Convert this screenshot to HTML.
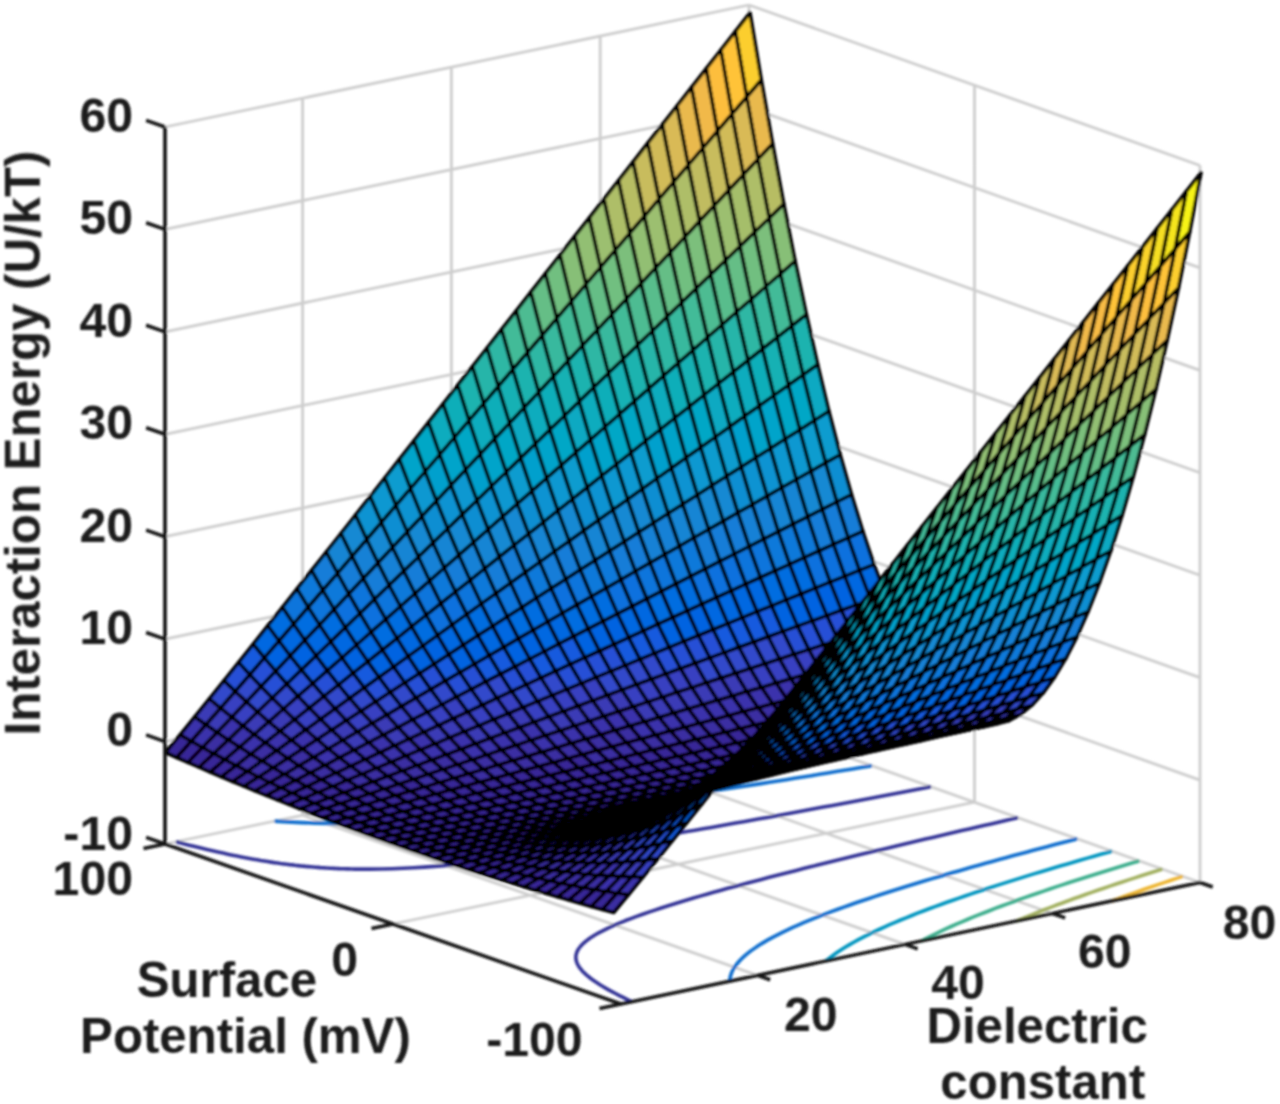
<!DOCTYPE html>
<html lang="en"><head><meta charset="utf-8"><title>Interaction energy surface</title>
<style>html,body{margin:0;padding:0;background:#fff}svg{display:block}</style></head>
<body>
<svg width="1280" height="1104" viewBox="0 0 1280 1104">
<defs><filter id="soft" x="0" y="0" width="1280" height="1104" filterUnits="userSpaceOnUse"><feGaussianBlur stdDeviation="0.9"/></filter></defs>
<rect width="1280" height="1104" fill="#fff"/>
<g filter="url(#soft)">
<path d="M165,844 L749,722 M165,741.6 L749,619.6 M165,639.1 L749,517.1 M165,536.7 L749,414.7 M165,434.3 L749,312.3 M165,331.9 L749,209.9 M165,229.4 L749,107.4 M165,127 L749,5 M302.6,815.2 L302.6,98.2 M451.4,784.2 L451.4,67.2 M600.2,753.1 L600.2,36.1 M749,722 L749,5 M749,722 L1200,882.5 M749,619.6 L1200,780.1 M749,517.1 L1200,677.6 M749,414.7 L1200,575.2 M749,312.3 L1200,472.8 M749,209.9 L1200,370.4 M749,107.4 L1200,267.9 M749,5 L1200,165.5 M974.5,802.2 L974.5,85.2 M1200,882.5 L1200,165.5 M757.5,975.4 L302.6,815.2 M905,944.4 L451.4,784.2 M1052.5,913.5 L600.2,753.1 M393,924 L974.5,802.2" fill="none" stroke="#cdcdcd" stroke-width="2.8"/>
<path d="M176,841.7 L181,843 L188.1,844.9 L194.8,846.5 L201,848.1 L206.9,849.5 L212.5,850.8 L217.9,852 L223,853.1 L227.8,854.2 L232.5,855.2 L237,856.1 L241.3,856.9 L245.4,857.7 L249.4,858.5 L253.3,859.2 L257.1,859.8 L260.7,860.5 L264.2,861 L267.7,861.6 L271,862.1 L274.2,862.6 L277.4,863 L280.5,863.5 L283.5,863.9 L286.5,864.2 L289.4,864.6 L292.2,864.9 L295,865.3 L297.8,865.6 L300.4,865.9 L303.1,866.1 L305.7,866.4 L308.2,866.6 L310.7,866.8 L313.2,867 L315.6,867.2 L318,867.4 L320.4,867.6 L322.7,867.7 L325,867.9 L327.3,868 L329.5,868.2 L331.7,868.3 L333.9,868.4 L336.1,868.5 L338.2,868.6 L340.3,868.7 L342.4,868.7 L344.5,868.8 L346.5,868.9 L348.6,868.9 L350.6,869 L352.6,869 L354.6,869.1 L356.5,869.1 L358.5,869.1 L360.4,869.1 L369.2,869.1 L380.9,869 L392.2,868.7 L403.1,868.3 L413.7,867.8 L424.1,867.1 L434.2,866.4 L444.1,865.6 L453.8,864.8 L463.3,863.9 L472.8,862.9 L482.1,861.9 L491.3,860.9 L500.4,859.8 L509.4,858.7 L518.3,857.6 L527.1,856.5 L535.9,855.3 L544.6,854.1 L553.3,852.9 L561.9,851.6 L570.5,850.4 L579,849.1 L587.5,847.8 L595.9,846.5 L604.4,845.2 L612.7,843.9 L621.1,842.6 L629.4,841.3 L637.7,839.9 L645.9,838.5 L654.2,837.2 L662.4,835.8 L670.6,834.4 L678.7,833 L686.9,831.6 L695,830.2 L703.1,828.8 L711.2,827.4 L719.3,826 L727.4,824.6 L735.5,823.1 L743.5,821.7 L751.5,820.3 L759.5,818.8 L767.6,817.4 L775.5,815.9 L783.5,814.5 L791.5,813 L799.5,811.6 L807.4,810.1 L815.4,808.6 L823.3,807.1 L831.2,805.7 L839.2,804.2 L847.1,802.7 L855,801.2 L862.9,799.7 L870.8,798.3 L878.6,796.8 L886.5,795.3 L894.4,793.8 L902.3,792.3 L910.1,790.8 L918,789.3 L925.8,787.8 L931,786.8" fill="none" stroke="#323395" stroke-width="3.6" stroke-linejoin="round"/>
<path d="M631.9,1001.7 L628.4,1000.1 L623.7,997.7 L619.4,995.6 L615.5,993.5 L611.9,991.6 L608.6,989.8 L605.6,988.1 L602.9,986.5 L600.4,985 L598.1,983.5 L595.9,982.1 L594,980.8 L592.2,979.5 L590.5,978.2 L589,977 L587.6,975.9 L586.3,974.8 L585.1,973.7 L584,972.7 L583,971.7 L582.1,970.7 L581.3,969.7 L580.5,968.8 L579.8,967.9 L579.2,967.1 L578.7,966.2 L578.2,965.4 L577.7,964.6 L577.4,963.8 L577,963 L576.7,962.2 L576.5,961.5 L576.3,960.8 L576.1,960.1 L576,959.4 L575.9,958.7 L575.9,958 L575.9,957.3 L575.9,956.7 L575.9,956.1 L576,955.4 L576.1,954.8 L576.2,954.2 L576.4,953.6 L576.6,953 L576.8,952.4 L577,951.8 L577.3,951.3 L577.5,950.7 L577.8,950.2 L578.1,949.6 L578.5,949.1 L578.8,948.5 L579.2,948 L579.6,947.5 L580,947 L580.4,946.5 L582.5,944.2 L586,941.1 L589.8,938.2 L594.1,935.5 L598.7,932.8 L603.6,930.3 L608.6,927.8 L613.9,925.4 L619.4,923.1 L625,920.8 L630.8,918.6 L636.7,916.4 L642.7,914.3 L648.8,912.1 L654.9,910.1 L661.2,908 L667.5,906 L673.9,904 L680.4,902 L686.9,900 L693.5,898.1 L700.1,896.1 L706.8,894.2 L713.5,892.3 L720.2,890.4 L727,888.6 L733.8,886.7 L740.7,884.9 L747.6,883 L754.5,881.2 L761.4,879.4 L768.3,877.6 L775.3,875.7 L782.3,873.9 L789.3,872.2 L796.4,870.4 L803.4,868.6 L810.5,866.8 L817.6,865.1 L824.7,863.3 L831.8,861.5 L838.9,859.8 L846.1,858 L853.2,856.3 L860.4,854.6 L867.6,852.8 L874.8,851.1 L882,849.4 L889.2,847.7 L896.4,845.9 L903.6,844.2 L910.9,842.5 L918.1,840.8 L925.4,839.1 L932.7,837.4 L939.9,835.7 L947.2,834 L954.5,832.3 L961.8,830.6 L969.1,828.9 L976.4,827.2 L983.7,825.6 L991.1,823.9 L998.4,822.2 L1005.7,820.5 L1013.1,818.8 L1018,817.7" fill="none" stroke="#323395" stroke-width="3.6" stroke-linejoin="round"/>
<path d="M274.6,821.1 L287.4,821.9 L301.5,822.6 L315,823.1 L328.1,823.4 L340.8,823.6 L353.1,823.6 L365.1,823.6 L376.8,823.4 L388.2,823.2 L399.4,822.8 L410.4,822.4 L421.2,822 L431.9,821.4 L442.3,820.9 L452.7,820.2 L462.9,819.5 L472.9,818.8 L482.9,818 L492.7,817.2 L502.5,816.4 L512.2,815.5 L521.7,814.6 L531.2,813.7 L540.6,812.8 L550,811.8 L559.3,810.8 L568.5,809.8 L577.7,808.7 L586.8,807.6 L595.9,806.6 L604.9,805.5 L613.8,804.4 L622.7,803.2 L631.6,802.1 L640.5,800.9 L649.3,799.8 L658,798.6 L666.8,797.4 L675.5,796.2 L684.1,795 L692.8,793.7 L701.4,792.5 L710,791.2 L718.5,790 L727.1,788.7 L735.6,787.4 L744,786.2 L752.5,784.9 L761,783.6 L769.4,782.3 L777.8,781 L786.2,779.7 L794.5,778.3 L802.9,777 L811.2,775.7 L819.5,774.3 L827.8,773 L836.1,771.6 L844.4,770.3 L852.6,768.9 L860.9,767.5 L869.1,766.2 L871.8,765.7" fill="none" stroke="#0c6dcd" stroke-width="3.6" stroke-linejoin="round"/>
<path d="M729.7,981.2 L730.1,977.7 L731.2,973.8 L732.8,970.1 L734.9,966.6 L737.5,963.2 L740.3,960 L743.5,956.9 L747,953.9 L750.8,950.9 L754.8,948.1 L758.9,945.3 L763.3,942.6 L767.9,939.9 L772.6,937.3 L777.5,934.8 L782.4,932.3 L787.6,929.8 L792.8,927.4 L798.1,925.1 L803.6,922.7 L809.1,920.4 L814.7,918.1 L820.4,915.9 L826.2,913.6 L832,911.4 L837.9,909.3 L843.9,907.1 L849.9,905 L856,902.8 L862.1,900.7 L868.3,898.7 L874.5,896.6 L880.8,894.5 L887.1,892.5 L893.4,890.5 L899.8,888.5 L906.2,886.5 L912.7,884.5 L919.2,882.5 L925.7,880.6 L932.2,878.6 L938.8,876.7 L945.4,874.7 L952,872.8 L958.7,870.9 L965.4,869 L972.1,867.1 L978.8,865.2 L985.5,863.3 L992.3,861.4 L999.1,859.6 L1005.9,857.7 L1012.7,855.8 L1019.6,854 L1026.4,852.2 L1033.3,850.3 L1040.2,848.5 L1047.1,846.7 L1054,844.8 L1060.9,843 L1067.9,841.2 L1074.8,839.4 L1077.2,838.8" fill="none" stroke="#0c6dcd" stroke-width="3.6" stroke-linejoin="round"/>
<path d="M371.6,800.8 L381.1,800.7 L392.5,800.4 L403.6,800.1 L414.7,799.7 L425.5,799.2 L436.2,798.7 L446.8,798.2 L457.2,797.6 L467.6,796.9 L477.8,796.3 L487.9,795.5 L497.9,794.8 L507.8,794 L517.7,793.2 L527.4,792.4 L537.1,791.5 L546.7,790.6 L556.3,789.7 L565.8,788.8 L575.2,787.8 L584.5,786.8 L593.8,785.8 L603.1,784.8 L612.3,783.8 L621.5,782.8 L630.6,781.7 L639.7,780.6 L648.7,779.5 L657.7,778.4 L666.6,777.3 L675.6,776.2 L684.4,775 L693.3,773.9 L702.1,772.7 L710.9,771.5 L719.7,770.4 L728.4,769.2 L737.1,768 L745.8,766.7 L754.4,765.5 L763.1,764.3 L771.7,763.1 L780.3,761.8 L788.8,760.6 L797.4,759.3 L805.9,758 L814.4,756.7 L822.9,755.5 L831.4,754.2 L837,753.3" fill="none" stroke="#0695bf" stroke-width="3.6" stroke-linejoin="round"/>
<path d="M825.8,961 L828.8,958.6 L832.6,955.7 L836.6,952.8 L840.8,950 L845.1,947.3 L849.6,944.6 L854.2,942 L858.9,939.4 L863.8,936.9 L868.8,934.4 L873.9,931.9 L879,929.5 L884.3,927.1 L889.6,924.7 L895.1,922.4 L900.6,920 L906.1,917.8 L911.8,915.5 L917.5,913.2 L923.3,911 L929.1,908.8 L935,906.6 L940.9,904.5 L946.9,902.3 L952.9,900.2 L959,898.1 L965.1,896 L971.3,893.9 L977.4,891.8 L983.7,889.7 L989.9,887.7 L996.3,885.6 L1002.6,883.6 L1009,881.6 L1015.4,879.6 L1021.8,877.6 L1028.2,875.6 L1034.7,873.6 L1041.2,871.7 L1047.8,869.7 L1054.3,867.8 L1060.9,865.8 L1067.5,863.9 L1074.1,862 L1080.8,860.1 L1087.4,858.1 L1094.1,856.2 L1100.8,854.3 L1107.5,852.4 L1112,851.2" fill="none" stroke="#0695bf" stroke-width="3.6" stroke-linejoin="round"/>
<path d="M468,780.7 L476.8,780.2 L487,779.5 L497.2,778.8 L507.2,778.1 L517.2,777.3 L527.1,776.5 L536.9,775.7 L546.7,774.9 L556.4,774 L566,773.1 L575.6,772.2 L585.1,771.3 L594.5,770.4 L603.9,769.4 L613.3,768.4 L622.6,767.4 L631.8,766.4 L641.1,765.4 L650.2,764.3 L659.4,763.3 L668.5,762.2 L677.5,761.1 L686.5,760 L695.5,758.9 L704.5,757.8 L713.4,756.7 L722.3,755.5 L731.1,754.4 L740,753.2 L748.8,752 L757.6,750.9 L766.3,749.7 L775,748.5 L783.8,747.3 L792.4,746.1 L801.1,744.8 L809.7,743.6 L809.7,743.6" fill="none" stroke="#3dae8d" stroke-width="3.6" stroke-linejoin="round"/>
<path d="M921.4,941 L925.5,938.8 L930.4,936.3 L935.5,933.8 L940.6,931.4 L945.8,928.9 L951.1,926.5 L956.4,924.2 L961.9,921.8 L967.4,919.5 L972.9,917.2 L978.6,914.9 L984.2,912.7 L990,910.5 L995.8,908.2 L1001.6,906 L1007.5,903.9 L1013.4,901.7 L1019.4,899.5 L1025.4,897.4 L1031.5,895.3 L1037.5,893.2 L1043.7,891.1 L1049.8,889 L1056,886.9 L1062.3,884.9 L1068.5,882.8 L1074.8,880.8 L1081.2,878.7 L1087.5,876.7 L1093.9,874.7 L1100.3,872.7 L1106.7,870.7 L1113.2,868.7 L1119.7,866.8 L1126.2,864.8 L1132.7,862.8 L1139.3,860.9 L1139.3,860.9" fill="none" stroke="#3dae8d" stroke-width="3.6" stroke-linejoin="round"/>
<path d="M564,760.6 L572.9,759.8 L582.6,759 L592.2,758.1 L601.7,757.1 L611.1,756.2 L620.6,755.2 L629.9,754.3 L639.3,753.3 L648.6,752.3 L657.8,751.3 L667,750.2 L676.2,749.2 L685.3,748.1 L694.4,747.1 L703.5,746 L712.5,744.9 L721.5,743.8 L730.5,742.7 L739.4,741.5 L748.3,740.4 L757.2,739.3 L766.1,738.1 L774.9,737 L783.7,735.8 L786.6,735.4" fill="none" stroke="#a2b060" stroke-width="3.6" stroke-linejoin="round"/>
<path d="M1016.6,921 L1021.7,918.9 L1027.2,916.6 L1032.8,914.3 L1038.5,912 L1044.2,909.8 L1050,907.6 L1055.8,905.3 L1061.7,903.2 L1067.6,901 L1073.5,898.8 L1079.5,896.7 L1085.5,894.5 L1091.6,892.4 L1097.6,890.3 L1103.8,888.2 L1109.9,886.1 L1116.1,884 L1122.3,882 L1128.6,879.9 L1134.9,877.9 L1141.2,875.8 L1147.5,873.8 L1153.9,871.8 L1160.2,869.8 L1162.4,869.1" fill="none" stroke="#a2b060" stroke-width="3.6" stroke-linejoin="round"/>
<path d="M659.9,740.6 L666.2,739.9 L675.5,738.9 L684.7,737.9 L693.9,736.8 L703.1,735.8 L712.2,734.7 L721.3,733.7 L730.3,732.6 L739.3,731.5 L748.3,730.4 L757.3,729.3 L766.2,728.1 L766.2,728.1" fill="none" stroke="#edb533" stroke-width="3.6" stroke-linejoin="round"/>
<path d="M1111.7,901 L1115.7,899.6 L1121.6,897.4 L1127.6,895.2 L1133.6,893.1 L1139.6,891 L1145.7,888.8 L1151.8,886.7 L1157.9,884.6 L1164.1,882.6 L1170.3,880.5 L1176.5,878.4 L1182.8,876.4 L1182.8,876.4" fill="none" stroke="#edb533" stroke-width="3.6" stroke-linejoin="round"/>
<g stroke="#000" stroke-width="3.6" stroke-linejoin="round">
<polygon points="746.7,97 761.3,80 750,12.7 735.4,31.3" fill="#fcce2e"/>
<polygon points="757.9,159.3 772.6,143.8 761.3,80 746.7,97" fill="#e9b94e"/>
<polygon points="769.2,218.2 783.8,204.1 772.6,143.8 757.9,159.3" fill="#b7bd64"/>
<polygon points="780.5,273.8 795.1,261.1 783.8,204.1 769.2,218.2" fill="#87bf77"/>
<polygon points="791.8,326 806.4,314.5 795.1,261.1 780.5,273.8" fill="#4dbc92"/>
<polygon points="803,375 817.7,364.6 806.4,314.5 791.8,326" fill="#1db3af"/>
<polygon points="814.3,420.6 828.9,411.3 817.7,364.6 803,375" fill="#07a9c2"/>
<polygon points="825.6,462.9 840.2,454.7 828.9,411.3 814.3,420.6" fill="#079ccf"/>
<polygon points="836.8,502 851.5,494.6 840.2,454.7 825.6,462.9" fill="#108ed2"/>
<polygon points="848.1,537.8 862.8,531.3 851.5,494.6 836.8,502" fill="#127dd8"/>
<polygon points="859.4,570.4 874,564.6 862.8,531.3 848.1,537.8" fill="#0871de"/>
<polygon points="870.7,599.8 885.3,594.6 874,564.6 859.4,570.4" fill="#0268e1"/>
<polygon points="881.9,626.1 896.6,621.4 885.3,594.6 870.7,599.8" fill="#135ade"/>
<polygon points="893.2,649.1 907.8,644.9 896.6,621.4 881.9,626.1" fill="#3148cb"/>
<polygon points="904.5,669.1 919.1,665.2 907.8,644.9 893.2,649.1" fill="#3a3ab6"/>
<polygon points="915.8,685.9 930.4,682.4 919.1,665.2 904.5,669.1" fill="#3a33ac"/>
<polygon points="927,699.8 941.7,696.5 930.4,682.4 915.8,685.9" fill="#3a2ea2"/>
<polygon points="938.3,710.7 953,707.5 941.7,696.5 927,699.8" fill="#392898"/>
<polygon points="949.6,718.7 964.2,715.6 953,707.5 938.3,710.7" fill="#392898"/>
<polygon points="960.9,723.9 975.5,720.9 964.2,715.6 949.6,718.7" fill="#392898"/>
<polygon points="972.1,726.7 986.8,723.6 975.5,720.9 960.9,723.9" fill="#392898"/>
<polygon points="983.4,726.7 998.1,723.5 986.8,723.6 972.1,726.7" fill="#392898"/>
<polygon points="994.7,723.8 1009.3,720.5 998.1,723.5 983.4,726.7" fill="#3a2ea2"/>
<polygon points="1005.9,717.9 1020.6,714.4 1009.3,720.5 994.7,723.8" fill="#3a33ac"/>
<polygon points="1017.2,709.1 1031.9,705.2 1020.6,714.4 1005.9,717.9" fill="#3a3ab6"/>
<polygon points="1028.5,697.1 1043.2,692.9 1031.9,705.2 1017.2,709.1" fill="#3148cb"/>
<polygon points="1039.8,682.1 1054.4,677.4 1043.2,692.9 1028.5,697.1" fill="#135ade"/>
<polygon points="1051,663.8 1065.7,658.6 1054.4,677.4 1039.8,682.1" fill="#0268e1"/>
<polygon points="1062.3,642.4 1077,636.6 1065.7,658.6 1051,663.8" fill="#0871de"/>
<polygon points="1073.6,617.8 1088.2,611.3 1077,636.6 1062.3,642.4" fill="#127dd8"/>
<polygon points="1084.9,590 1099.5,582.6 1088.2,611.3 1073.6,617.8" fill="#108ed2"/>
<polygon points="1096.1,558.9 1110.8,550.7 1099.5,582.6 1084.9,590" fill="#079ccf"/>
<polygon points="1107.4,524.6 1122.1,515.3 1110.8,550.7 1096.1,558.9" fill="#07a9c2"/>
<polygon points="1118.7,487 1133.3,476.6 1122.1,515.3 1107.4,524.6" fill="#1db3af"/>
<polygon points="1130,446 1144.6,434.5 1133.3,476.6 1118.7,487" fill="#4dbc92"/>
<polygon points="1141.2,401.8 1155.9,389.1 1144.6,434.5 1130,446" fill="#87bf77"/>
<polygon points="1152.5,354.2 1167.2,340.1 1155.9,389.1 1141.2,401.8" fill="#b7bd64"/>
<polygon points="1163.8,303.3 1178.5,287.8 1167.2,340.1 1152.5,354.2" fill="#e9b94e"/>
<polygon points="1175,249 1189.7,232 1178.5,287.8 1163.8,303.3" fill="#fcce2e"/>
<polygon points="1186.3,191.3 1201,172.7 1189.7,232 1175,249" fill="#f6f313"/>
<polygon points="732,114 746.7,97 735.4,31.3 720.8,50" fill="#ffc337"/>
<polygon points="743.3,174.8 757.9,159.3 746.7,97 732,114" fill="#d9ba56"/>
<polygon points="754.6,232.3 769.2,218.2 757.9,159.3 743.3,174.8" fill="#aebe67"/>
<polygon points="765.9,286.5 780.5,273.8 769.2,218.2 754.6,232.3" fill="#7cbf7b"/>
<polygon points="777.1,337.5 791.8,326 780.5,273.8 765.9,286.5" fill="#42bb98"/>
<polygon points="788.4,385.3 803,375 791.8,326 777.1,337.5" fill="#1db3af"/>
<polygon points="799.7,429.9 814.3,420.6 803,375 788.4,385.3" fill="#06a7c6"/>
<polygon points="810.9,471.2 825.6,462.9 814.3,420.6 799.7,429.9" fill="#079ccf"/>
<polygon points="822.2,509.4 836.8,502 825.6,462.9 810.9,471.2" fill="#1389d3"/>
<polygon points="833.5,544.4 848.1,537.8 836.8,502 822.2,509.4" fill="#127dd8"/>
<polygon points="844.8,576.3 859.4,570.4 848.1,537.8 833.5,544.4" fill="#0871de"/>
<polygon points="856,605.1 870.7,599.8 859.4,570.4 844.8,576.3" fill="#0268e1"/>
<polygon points="867.3,630.7 881.9,626.1 870.7,599.8 856,605.1" fill="#2550d6"/>
<polygon points="878.6,653.4 893.2,649.1 881.9,626.1 867.3,630.7" fill="#3148cb"/>
<polygon points="889.8,672.9 904.5,669.1 893.2,649.1 878.6,653.4" fill="#3a3ab6"/>
<polygon points="901.1,689.5 915.8,685.9 904.5,669.1 889.8,672.9" fill="#3a33ac"/>
<polygon points="912.4,703.1 927,699.8 915.8,685.9 901.1,689.5" fill="#3a2ea2"/>
<polygon points="923.7,713.8 938.3,710.7 927,699.8 912.4,703.1" fill="#392898"/>
<polygon points="934.9,721.7 949.6,718.7 938.3,710.7 923.7,713.8" fill="#392898"/>
<polygon points="946.2,726.9 960.9,723.9 949.6,718.7 934.9,721.7" fill="#392898"/>
<polygon points="957.5,729.7 972.1,726.7 960.9,723.9 946.2,726.9" fill="#392898"/>
<polygon points="968.7,729.8 983.4,726.7 972.1,726.7 957.5,729.7" fill="#392898"/>
<polygon points="980,727.1 994.7,723.8 983.4,726.7 968.7,729.8" fill="#3a2ea2"/>
<polygon points="991.3,721.5 1005.9,717.9 994.7,723.8 980,727.1" fill="#3a33ac"/>
<polygon points="1002.6,712.9 1017.2,709.1 1005.9,717.9 991.3,721.5" fill="#3a3ab6"/>
<polygon points="1013.8,701.4 1028.5,697.1 1017.2,709.1 1002.6,712.9" fill="#3148cb"/>
<polygon points="1025.1,686.7 1039.8,682.1 1028.5,697.1 1013.8,701.4" fill="#2550d6"/>
<polygon points="1036.4,669.1 1051,663.8 1039.8,682.1 1025.1,686.7" fill="#0268e1"/>
<polygon points="1047.6,648.3 1062.3,642.4 1051,663.8 1036.4,669.1" fill="#0871de"/>
<polygon points="1058.9,624.4 1073.6,617.8 1062.3,642.4 1047.6,648.3" fill="#127dd8"/>
<polygon points="1070.2,597.4 1084.9,590 1073.6,617.8 1058.9,624.4" fill="#1389d3"/>
<polygon points="1081.5,567.2 1096.1,558.9 1084.9,590 1070.2,597.4" fill="#079ccf"/>
<polygon points="1092.7,533.9 1107.4,524.6 1096.1,558.9 1081.5,567.2" fill="#06a7c6"/>
<polygon points="1104,497.3 1118.7,487 1107.4,524.6 1092.7,533.9" fill="#1db3af"/>
<polygon points="1115.3,457.5 1130,446 1118.7,487 1104,497.3" fill="#42bb98"/>
<polygon points="1126.5,414.5 1141.2,401.8 1130,446 1115.3,457.5" fill="#7cbf7b"/>
<polygon points="1137.8,368.3 1152.5,354.2 1141.2,401.8 1126.5,414.5" fill="#aebe67"/>
<polygon points="1149.1,318.8 1163.8,303.3 1152.5,354.2 1137.8,368.3" fill="#d9ba56"/>
<polygon points="1160.4,266 1175,249 1163.8,303.3 1149.1,318.8" fill="#ffc337"/>
<polygon points="1171.6,210 1186.3,191.3 1175,249 1160.4,266" fill="#f5e41d"/>
<polygon points="717.4,131.1 732,114 720.8,50 706.2,68.6" fill="#fdbe3d"/>
<polygon points="728.7,190.3 743.3,174.8 732,114 717.4,131.1" fill="#d1bb59"/>
<polygon points="740,246.4 754.6,232.3 743.3,174.8 728.7,190.3" fill="#a5be6b"/>
<polygon points="751.2,299.3 765.9,286.5 754.6,232.3 740,246.4" fill="#71bf80"/>
<polygon points="762.5,349 777.1,337.5 765.9,286.5 751.2,299.3" fill="#38b99e"/>
<polygon points="773.8,395.6 788.4,385.3 777.1,337.5 762.5,349" fill="#15b1b4"/>
<polygon points="785.1,439.1 799.7,429.9 788.4,385.3 773.8,395.6" fill="#06a7c6"/>
<polygon points="796.3,479.5 810.9,471.2 799.7,429.9 785.1,439.1" fill="#0998d1"/>
<polygon points="807.6,516.8 822.2,509.4 810.9,471.2 796.3,479.5" fill="#1389d3"/>
<polygon points="818.9,551 833.5,544.4 822.2,509.4 807.6,516.8" fill="#127dd8"/>
<polygon points="830.1,582.2 844.8,576.3 833.5,544.4 818.9,551" fill="#0871de"/>
<polygon points="841.4,610.3 856,605.1 844.8,576.3 830.1,582.2" fill="#0363e1"/>
<polygon points="852.7,635.5 867.3,630.7 856,605.1 841.4,610.3" fill="#2550d6"/>
<polygon points="863.9,657.6 878.6,653.4 867.3,630.7 852.7,635.5" fill="#3740c1"/>
<polygon points="875.2,676.8 889.8,672.9 878.6,653.4 863.9,657.6" fill="#3a3ab6"/>
<polygon points="886.5,693 901.1,689.5 889.8,672.9 875.2,676.8" fill="#3a33ac"/>
<polygon points="897.7,706.4 912.4,703.1 901.1,689.5 886.5,693" fill="#3a2ea2"/>
<polygon points="909,717 923.7,713.8 912.4,703.1 897.7,706.4" fill="#392898"/>
<polygon points="920.3,724.8 934.9,721.7 923.7,713.8 909,717" fill="#392898"/>
<polygon points="931.6,730 946.2,726.9 934.9,721.7 920.3,724.8" fill="#392898"/>
<polygon points="942.8,732.8 957.5,729.7 946.2,726.9 931.6,730" fill="#392898"/>
<polygon points="954.1,733 968.7,729.8 957.5,729.7 942.8,732.8" fill="#392898"/>
<polygon points="965.4,730.4 980,727.1 968.7,729.8 954.1,733" fill="#3a2ea2"/>
<polygon points="976.6,725 991.3,721.5 980,727.1 965.4,730.4" fill="#3a33ac"/>
<polygon points="987.9,716.8 1002.6,712.9 991.3,721.5 976.6,725" fill="#3a3ab6"/>
<polygon points="999.2,705.6 1013.8,701.4 1002.6,712.9 987.9,716.8" fill="#3740c1"/>
<polygon points="1010.4,691.5 1025.1,686.7 1013.8,701.4 999.2,705.6" fill="#2550d6"/>
<polygon points="1021.7,674.3 1036.4,669.1 1025.1,686.7 1010.4,691.5" fill="#0363e1"/>
<polygon points="1033,654.2 1047.6,648.3 1036.4,669.1 1021.7,674.3" fill="#0871de"/>
<polygon points="1044.3,631 1058.9,624.4 1047.6,648.3 1033,654.2" fill="#127dd8"/>
<polygon points="1055.5,604.8 1070.2,597.4 1058.9,624.4 1044.3,631" fill="#1389d3"/>
<polygon points="1066.8,575.5 1081.5,567.2 1070.2,597.4 1055.5,604.8" fill="#0998d1"/>
<polygon points="1078.1,543.1 1092.7,533.9 1081.5,567.2 1066.8,575.5" fill="#06a7c6"/>
<polygon points="1089.3,507.6 1104,497.3 1092.7,533.9 1078.1,543.1" fill="#15b1b4"/>
<polygon points="1100.6,469 1115.3,457.5 1104,497.3 1089.3,507.6" fill="#38b99e"/>
<polygon points="1111.9,427.3 1126.5,414.5 1115.3,457.5 1100.6,469" fill="#71bf80"/>
<polygon points="1123.1,382.4 1137.8,368.3 1126.5,414.5 1111.9,427.3" fill="#a5be6b"/>
<polygon points="1134.4,334.3 1149.1,318.8 1137.8,368.3 1123.1,382.4" fill="#d1bb59"/>
<polygon points="1145.7,283.1 1160.4,266 1149.1,318.8 1134.4,334.3" fill="#fdbe3d"/>
<polygon points="1157,228.6 1171.6,210 1160.4,266 1145.7,283.1" fill="#f5de21"/>
<polygon points="702.8,148.1 717.4,131.1 706.2,68.6 691.5,87.3" fill="#f1b94a"/>
<polygon points="714.1,205.8 728.7,190.3 717.4,131.1 702.8,148.1" fill="#c8bc5d"/>
<polygon points="725.4,260.5 740,246.4 728.7,190.3 714.1,205.8" fill="#9cbf6f"/>
<polygon points="736.6,312 751.2,299.3 740,246.4 725.4,260.5" fill="#65be86"/>
<polygon points="747.9,360.5 762.5,349 751.2,299.3 736.6,312" fill="#2eb7a4"/>
<polygon points="759.2,406 773.8,395.6 762.5,349 747.9,360.5" fill="#0faeb9"/>
<polygon points="770.4,448.4 785.1,439.1 773.8,395.6 759.2,406" fill="#06a4ca"/>
<polygon points="781.7,487.8 796.3,479.5 785.1,439.1 770.4,448.4" fill="#0998d1"/>
<polygon points="793,524.2 807.6,516.8 796.3,479.5 781.7,487.8" fill="#1485d4"/>
<polygon points="804.2,557.6 818.9,551 807.6,516.8 793,524.2" fill="#1079da"/>
<polygon points="815.5,588.1 830.1,582.2 818.9,551 804.2,557.6" fill="#0871de"/>
<polygon points="826.8,615.6 841.4,610.3 830.1,582.2 815.5,588.1" fill="#0363e1"/>
<polygon points="838,640.2 852.7,635.5 841.4,610.3 826.8,615.6" fill="#2550d6"/>
<polygon points="849.3,661.8 863.9,657.6 852.7,635.5 838,640.2" fill="#3740c1"/>
<polygon points="860.6,680.6 875.2,676.8 863.9,657.6 849.3,661.8" fill="#3a3ab6"/>
<polygon points="871.8,696.6 886.5,693 875.2,676.8 860.6,680.6" fill="#3a33ac"/>
<polygon points="883.1,709.7 897.7,706.4 886.5,693 871.8,696.6" fill="#3a2ea2"/>
<polygon points="894.4,720.1 909,717 897.7,706.4 883.1,709.7" fill="#392898"/>
<polygon points="905.6,727.8 920.3,724.8 909,717 894.4,720.1" fill="#392898"/>
<polygon points="916.9,733 931.6,730 920.3,724.8 905.6,727.8" fill="#392898"/>
<polygon points="928.2,735.8 942.8,732.8 931.6,730 916.9,733" fill="#392898"/>
<polygon points="939.4,736.1 954.1,733 942.8,732.8 928.2,735.8" fill="#392898"/>
<polygon points="950.7,733.7 965.4,730.4 954.1,733 939.4,736.1" fill="#3a2ea2"/>
<polygon points="962,728.6 976.6,725 965.4,730.4 950.7,733.7" fill="#3a33ac"/>
<polygon points="973.2,720.6 987.9,716.8 976.6,725 962,728.6" fill="#3a3ab6"/>
<polygon points="984.5,709.8 999.2,705.6 987.9,716.8 973.2,720.6" fill="#3740c1"/>
<polygon points="995.8,696.2 1010.4,691.5 999.2,705.6 984.5,709.8" fill="#2550d6"/>
<polygon points="1007.1,679.6 1021.7,674.3 1010.4,691.5 995.8,696.2" fill="#0363e1"/>
<polygon points="1018.3,660.1 1033,654.2 1021.7,674.3 1007.1,679.6" fill="#0871de"/>
<polygon points="1029.6,637.6 1044.3,631 1033,654.2 1018.3,660.1" fill="#1079da"/>
<polygon points="1040.9,612.2 1055.5,604.8 1044.3,631 1029.6,637.6" fill="#1485d4"/>
<polygon points="1052.1,583.8 1066.8,575.5 1055.5,604.8 1040.9,612.2" fill="#0998d1"/>
<polygon points="1063.4,552.4 1078.1,543.1 1066.8,575.5 1052.1,583.8" fill="#06a4ca"/>
<polygon points="1074.7,518 1089.3,507.6 1078.1,543.1 1063.4,552.4" fill="#0faeb9"/>
<polygon points="1085.9,480.5 1100.6,469 1089.3,507.6 1074.7,518" fill="#2eb7a4"/>
<polygon points="1097.2,440 1111.9,427.3 1100.6,469 1085.9,480.5" fill="#65be86"/>
<polygon points="1108.5,396.5 1123.1,382.4 1111.9,427.3 1097.2,440" fill="#9cbf6f"/>
<polygon points="1119.7,349.8 1134.4,334.3 1123.1,382.4 1108.5,396.5" fill="#c8bc5d"/>
<polygon points="1131,300.1 1145.7,283.1 1134.4,334.3 1119.7,349.8" fill="#f1b94a"/>
<polygon points="1142.3,247.3 1157,228.6 1145.7,283.1 1131,300.1" fill="#fad32a"/>
<polygon points="688.2,165.1 702.8,148.1 691.5,87.3 676.9,106" fill="#e9b94e"/>
<polygon points="699.5,221.3 714.1,205.8 702.8,148.1 688.2,165.1" fill="#c0bc60"/>
<polygon points="710.7,274.6 725.4,260.5 714.1,205.8 699.5,221.3" fill="#92bf73"/>
<polygon points="722,324.8 736.6,312 725.4,260.5 710.7,274.6" fill="#59bd8c"/>
<polygon points="733.3,372 747.9,360.5 736.6,312 722,324.8" fill="#25b5a9"/>
<polygon points="744.5,416.3 759.2,406 747.9,360.5 733.3,372" fill="#0aacbe"/>
<polygon points="755.8,457.7 770.4,448.4 759.2,406 744.5,416.3" fill="#06a4ca"/>
<polygon points="767.1,496.1 781.7,487.8 770.4,448.4 755.8,457.7" fill="#0c93d2"/>
<polygon points="778.3,531.6 793,524.2 781.7,487.8 767.1,496.1" fill="#1485d4"/>
<polygon points="789.6,564.3 804.2,557.6 793,524.2 778.3,531.6" fill="#1079da"/>
<polygon points="800.9,594 815.5,588.1 804.2,557.6 789.6,564.3" fill="#046de0"/>
<polygon points="812.1,620.9 826.8,615.6 815.5,588.1 800.9,594" fill="#0363e1"/>
<polygon points="823.4,644.9 838,640.2 826.8,615.6 812.1,620.9" fill="#2550d6"/>
<polygon points="834.7,666.1 849.3,661.8 838,640.2 823.4,644.9" fill="#3740c1"/>
<polygon points="845.9,684.5 860.6,680.6 849.3,661.8 834.7,666.1" fill="#3a3ab6"/>
<polygon points="857.2,700.1 871.8,696.6 860.6,680.6 845.9,684.5" fill="#3a33ac"/>
<polygon points="868.5,713 883.1,709.7 871.8,696.6 857.2,700.1" fill="#3a2ea2"/>
<polygon points="879.7,723.3 894.4,720.1 883.1,709.7 868.5,713" fill="#392898"/>
<polygon points="891,730.9 905.6,727.8 894.4,720.1 879.7,723.3" fill="#392898"/>
<polygon points="902.3,736.1 916.9,733 905.6,727.8 891,730.9" fill="#392898"/>
<polygon points="913.5,738.9 928.2,735.8 916.9,733 902.3,736.1" fill="#392898"/>
<polygon points="924.8,739.3 939.4,736.1 928.2,735.8 913.5,738.9" fill="#392898"/>
<polygon points="936.1,737 950.7,733.7 939.4,736.1 924.8,739.3" fill="#3a2ea2"/>
<polygon points="947.3,732.1 962,728.6 950.7,733.7 936.1,737" fill="#3a33ac"/>
<polygon points="958.6,724.5 973.2,720.6 962,728.6 947.3,732.1" fill="#3a3ab6"/>
<polygon points="969.9,714.1 984.5,709.8 973.2,720.6 958.6,724.5" fill="#3740c1"/>
<polygon points="981.1,700.9 995.8,696.2 984.5,709.8 969.9,714.1" fill="#2550d6"/>
<polygon points="992.4,684.9 1007.1,679.6 995.8,696.2 981.1,700.9" fill="#0363e1"/>
<polygon points="1003.7,666 1018.3,660.1 1007.1,679.6 992.4,684.9" fill="#046de0"/>
<polygon points="1014.9,644.3 1029.6,637.6 1018.3,660.1 1003.7,666" fill="#1079da"/>
<polygon points="1026.2,619.6 1040.9,612.2 1029.6,637.6 1014.9,644.3" fill="#1485d4"/>
<polygon points="1037.5,592.1 1052.1,583.8 1040.9,612.2 1026.2,619.6" fill="#0c93d2"/>
<polygon points="1048.7,561.7 1063.4,552.4 1052.1,583.8 1037.5,592.1" fill="#06a4ca"/>
<polygon points="1060,528.3 1074.7,518 1063.4,552.4 1048.7,561.7" fill="#0aacbe"/>
<polygon points="1071.3,492 1085.9,480.5 1074.7,518 1060,528.3" fill="#25b5a9"/>
<polygon points="1082.5,452.8 1097.2,440 1085.9,480.5 1071.3,492" fill="#59bd8c"/>
<polygon points="1093.8,410.6 1108.5,396.5 1097.2,440 1082.5,452.8" fill="#92bf73"/>
<polygon points="1105.1,365.3 1119.7,349.8 1108.5,396.5 1093.8,410.6" fill="#c0bc60"/>
<polygon points="1116.3,317.1 1131,300.1 1119.7,349.8 1105.1,365.3" fill="#e9b94e"/>
<polygon points="1127.6,266 1142.3,247.3 1131,300.1 1116.3,317.1" fill="#fcce2e"/>
<polygon points="673.6,182.2 688.2,165.1 676.9,106 662.3,124.6" fill="#d9ba56"/>
<polygon points="684.9,236.9 699.5,221.3 688.2,165.1 673.6,182.2" fill="#aebe67"/>
<polygon points="696.1,288.6 710.7,274.6 699.5,221.3 684.9,236.9" fill="#7cbf7b"/>
<polygon points="707.4,337.5 722,324.8 710.7,274.6 696.1,288.6" fill="#4dbc92"/>
<polygon points="718.6,383.6 733.3,372 722,324.8 707.4,337.5" fill="#25b5a9"/>
<polygon points="729.9,426.7 744.5,416.3 733.3,372 718.6,383.6" fill="#0aacbe"/>
<polygon points="741.2,467 755.8,457.7 744.5,416.3 729.9,426.7" fill="#06a0cd"/>
<polygon points="752.4,504.5 767.1,496.1 755.8,457.7 741.2,467" fill="#0c93d2"/>
<polygon points="763.7,539.1 778.3,531.6 767.1,496.1 752.4,504.5" fill="#1481d6"/>
<polygon points="775,570.9 789.6,564.3 778.3,531.6 763.7,539.1" fill="#1079da"/>
<polygon points="786.2,599.9 800.9,594 789.6,564.3 775,570.9" fill="#046de0"/>
<polygon points="797.5,626.1 812.1,620.9 800.9,594 786.2,599.9" fill="#0363e1"/>
<polygon points="808.8,649.6 823.4,644.9 812.1,620.9 797.5,626.1" fill="#2550d6"/>
<polygon points="820,670.3 834.7,666.1 823.4,644.9 808.8,649.6" fill="#3740c1"/>
<polygon points="831.3,688.3 845.9,684.5 834.7,666.1 820,670.3" fill="#3a3ab6"/>
<polygon points="842.6,703.7 857.2,700.1 845.9,684.5 831.3,688.3" fill="#3a2ea2"/>
<polygon points="853.8,716.4 868.5,713 857.2,700.1 842.6,703.7" fill="#3a2ea2"/>
<polygon points="865.1,726.4 879.7,723.3 868.5,713 853.8,716.4" fill="#392898"/>
<polygon points="876.4,734 891,730.9 879.7,723.3 865.1,726.4" fill="#392898"/>
<polygon points="887.6,739.1 902.3,736.1 891,730.9 876.4,734" fill="#392898"/>
<polygon points="898.9,742 913.5,738.9 902.3,736.1 887.6,739.1" fill="#392898"/>
<polygon points="910.1,742.4 924.8,739.3 913.5,738.9 898.9,742" fill="#392898"/>
<polygon points="921.4,740.4 936.1,737 924.8,739.3 910.1,742.4" fill="#3a2ea2"/>
<polygon points="932.7,735.7 947.3,732.1 936.1,737 921.4,740.4" fill="#3a2ea2"/>
<polygon points="943.9,728.3 958.6,724.5 947.3,732.1 932.7,735.7" fill="#3a3ab6"/>
<polygon points="955.2,718.3 969.9,714.1 958.6,724.5 943.9,728.3" fill="#3740c1"/>
<polygon points="966.5,705.6 981.1,700.9 969.9,714.1 955.2,718.3" fill="#2550d6"/>
<polygon points="977.7,690.1 992.4,684.9 981.1,700.9 966.5,705.6" fill="#0363e1"/>
<polygon points="989,671.9 1003.7,666 992.4,684.9 977.7,690.1" fill="#046de0"/>
<polygon points="1000.3,650.9 1014.9,644.3 1003.7,666 989,671.9" fill="#1079da"/>
<polygon points="1011.5,627.1 1026.2,619.6 1014.9,644.3 1000.3,650.9" fill="#1481d6"/>
<polygon points="1022.8,600.5 1037.5,592.1 1026.2,619.6 1011.5,627.1" fill="#0c93d2"/>
<polygon points="1034.1,571 1048.7,561.7 1037.5,592.1 1022.8,600.5" fill="#06a0cd"/>
<polygon points="1045.3,538.7 1060,528.3 1048.7,561.7 1034.1,571" fill="#0aacbe"/>
<polygon points="1056.6,503.6 1071.3,492 1060,528.3 1045.3,538.7" fill="#25b5a9"/>
<polygon points="1067.8,465.5 1082.5,452.8 1071.3,492 1056.6,503.6" fill="#4dbc92"/>
<polygon points="1079.1,424.6 1093.8,410.6 1082.5,452.8 1067.8,465.5" fill="#7cbf7b"/>
<polygon points="1090.4,380.9 1105.1,365.3 1093.8,410.6 1079.1,424.6" fill="#aebe67"/>
<polygon points="1101.6,334.2 1116.3,317.1 1105.1,365.3 1090.4,380.9" fill="#d9ba56"/>
<polygon points="1112.9,284.6 1127.6,266 1116.3,317.1 1101.6,334.2" fill="#ffc337"/>
<polygon points="659,199.2 673.6,182.2 662.3,124.6 647.7,143.2" fill="#d1bb59"/>
<polygon points="670.2,252.4 684.9,236.9 673.6,182.2 659,199.2" fill="#a5be6b"/>
<polygon points="681.5,302.7 696.1,288.6 684.9,236.9 670.2,252.4" fill="#71bf80"/>
<polygon points="692.8,350.3 707.4,337.5 696.1,288.6 681.5,302.7" fill="#42bb98"/>
<polygon points="704,395.1 718.6,383.6 707.4,337.5 692.8,350.3" fill="#1db3af"/>
<polygon points="715.3,437.1 729.9,426.7 718.6,383.6 704,395.1" fill="#07a9c2"/>
<polygon points="726.6,476.3 741.2,467 729.9,426.7 715.3,437.1" fill="#079ccf"/>
<polygon points="737.8,512.8 752.4,504.5 741.2,467 726.6,476.3" fill="#108ed2"/>
<polygon points="749.1,546.5 763.7,539.1 752.4,504.5 737.8,512.8" fill="#1481d6"/>
<polygon points="760.3,577.5 775,570.9 763.7,539.1 749.1,546.5" fill="#0d75dc"/>
<polygon points="771.6,605.8 786.2,599.9 775,570.9 760.3,577.5" fill="#046de0"/>
<polygon points="782.9,631.4 797.5,626.1 786.2,599.9 771.6,605.8" fill="#0363e1"/>
<polygon points="794.1,654.3 808.8,649.6 797.5,626.1 782.9,631.4" fill="#2550d6"/>
<polygon points="805.4,674.6 820,670.3 808.8,649.6 794.1,654.3" fill="#3740c1"/>
<polygon points="816.7,692.2 831.3,688.3 820,670.3 805.4,674.6" fill="#3a3ab6"/>
<polygon points="827.9,707.2 842.6,703.7 831.3,688.3 816.7,692.2" fill="#3a2ea2"/>
<polygon points="839.2,719.7 853.8,716.4 842.6,703.7 827.9,707.2" fill="#3a2ea2"/>
<polygon points="850.4,729.6 865.1,726.4 853.8,716.4 839.2,719.7" fill="#392898"/>
<polygon points="861.7,737 876.4,734 865.1,726.4 850.4,729.6" fill="#392898"/>
<polygon points="873,742.1 887.6,739.1 876.4,734 861.7,737" fill="#392898"/>
<polygon points="884.2,745 898.9,742 887.6,739.1 873,742.1" fill="#392898"/>
<polygon points="895.5,745.6 910.1,742.4 898.9,742 884.2,745" fill="#392898"/>
<polygon points="906.8,743.7 921.4,740.4 910.1,742.4 895.5,745.6" fill="#3a2ea2"/>
<polygon points="918,739.2 932.7,735.7 921.4,740.4 906.8,743.7" fill="#3a2ea2"/>
<polygon points="929.3,732.2 943.9,728.3 932.7,735.7 918,739.2" fill="#3a3ab6"/>
<polygon points="940.5,722.6 955.2,718.3 943.9,728.3 929.3,732.2" fill="#3740c1"/>
<polygon points="951.8,710.3 966.5,705.6 955.2,718.3 940.5,722.6" fill="#2550d6"/>
<polygon points="963.1,695.4 977.7,690.1 966.5,705.6 951.8,710.3" fill="#0363e1"/>
<polygon points="974.3,677.8 989,671.9 977.7,690.1 963.1,695.4" fill="#046de0"/>
<polygon points="985.6,657.5 1000.3,650.9 989,671.9 974.3,677.8" fill="#0d75dc"/>
<polygon points="996.9,634.5 1011.5,627.1 1000.3,650.9 985.6,657.5" fill="#1481d6"/>
<polygon points="1008.1,608.8 1022.8,600.5 1011.5,627.1 996.9,634.5" fill="#108ed2"/>
<polygon points="1019.4,580.3 1034.1,571 1022.8,600.5 1008.1,608.8" fill="#079ccf"/>
<polygon points="1030.6,549.1 1045.3,538.7 1034.1,571 1019.4,580.3" fill="#07a9c2"/>
<polygon points="1041.9,515.1 1056.6,503.6 1045.3,538.7 1030.6,549.1" fill="#1db3af"/>
<polygon points="1053.2,478.3 1067.8,465.5 1056.6,503.6 1041.9,515.1" fill="#42bb98"/>
<polygon points="1064.4,438.7 1079.1,424.6 1067.8,465.5 1053.2,478.3" fill="#71bf80"/>
<polygon points="1075.7,396.4 1090.4,380.9 1079.1,424.6 1064.4,438.7" fill="#a5be6b"/>
<polygon points="1087,351.2 1101.6,334.2 1090.4,380.9 1075.7,396.4" fill="#d1bb59"/>
<polygon points="1098.2,303.2 1112.9,284.6 1101.6,334.2 1087,351.2" fill="#f8bb44"/>
<polygon points="644.4,216.3 659,199.2 647.7,143.2 633.1,161.9" fill="#c8bc5d"/>
<polygon points="655.6,267.9 670.2,252.4 659,199.2 644.4,216.3" fill="#9cbf6f"/>
<polygon points="666.9,316.9 681.5,302.7 670.2,252.4 655.6,267.9" fill="#65be86"/>
<polygon points="678.1,363.1 692.8,350.3 681.5,302.7 666.9,316.9" fill="#38b99e"/>
<polygon points="689.4,406.6 704,395.1 692.8,350.3 678.1,363.1" fill="#15b1b4"/>
<polygon points="700.7,447.5 715.3,437.1 704,395.1 689.4,406.6" fill="#06a7c6"/>
<polygon points="711.9,485.6 726.6,476.3 715.3,437.1 700.7,447.5" fill="#079ccf"/>
<polygon points="723.2,521.1 737.8,512.8 726.6,476.3 711.9,485.6" fill="#1389d3"/>
<polygon points="734.4,554 749.1,546.5 737.8,512.8 723.2,521.1" fill="#127dd8"/>
<polygon points="745.7,584.2 760.3,577.5 749.1,546.5 734.4,554" fill="#0d75dc"/>
<polygon points="757,611.7 771.6,605.8 760.3,577.5 745.7,584.2" fill="#0268e1"/>
<polygon points="768.2,636.7 782.9,631.4 771.6,605.8 757,611.7" fill="#135ade"/>
<polygon points="779.5,659 794.1,654.3 782.9,631.4 768.2,636.7" fill="#3148cb"/>
<polygon points="790.8,678.8 805.4,674.6 794.1,654.3 779.5,659" fill="#3740c1"/>
<polygon points="802,696.1 816.7,692.2 805.4,674.6 790.8,678.8" fill="#3a33ac"/>
<polygon points="813.3,710.8 827.9,707.2 816.7,692.2 802,696.1" fill="#3a2ea2"/>
<polygon points="824.5,723 839.2,719.7 827.9,707.2 813.3,710.8" fill="#3a2ea2"/>
<polygon points="835.8,732.7 850.4,729.6 839.2,719.7 824.5,723" fill="#392898"/>
<polygon points="847.1,740.1 861.7,737 850.4,729.6 835.8,732.7" fill="#392898"/>
<polygon points="858.3,745.2 873,742.1 861.7,737 847.1,740.1" fill="#392898"/>
<polygon points="869.6,748.1 884.2,745 873,742.1 858.3,745.2" fill="#392898"/>
<polygon points="880.8,748.7 895.5,745.6 884.2,745 869.6,748.1" fill="#392898"/>
<polygon points="892.1,747 906.8,743.7 895.5,745.6 880.8,748.7" fill="#3a2ea2"/>
<polygon points="903.4,742.8 918,739.2 906.8,743.7 892.1,747" fill="#3a2ea2"/>
<polygon points="914.6,736.1 929.3,732.2 918,739.2 903.4,742.8" fill="#3a33ac"/>
<polygon points="925.9,726.8 940.5,722.6 929.3,732.2 914.6,736.1" fill="#3740c1"/>
<polygon points="937.1,715 951.8,710.3 940.5,722.6 925.9,726.8" fill="#3148cb"/>
<polygon points="948.4,700.7 963.1,695.4 951.8,710.3 937.1,715" fill="#135ade"/>
<polygon points="959.7,683.7 974.3,677.8 963.1,695.4 948.4,700.7" fill="#0268e1"/>
<polygon points="970.9,664.2 985.6,657.5 974.3,677.8 959.7,683.7" fill="#0d75dc"/>
<polygon points="982.2,642 996.9,634.5 985.6,657.5 970.9,664.2" fill="#127dd8"/>
<polygon points="993.5,617.1 1008.1,608.8 996.9,634.5 982.2,642" fill="#1389d3"/>
<polygon points="1004.7,589.6 1019.4,580.3 1008.1,608.8 993.5,617.1" fill="#079ccf"/>
<polygon points="1016,559.5 1030.6,549.1 1019.4,580.3 1004.7,589.6" fill="#06a7c6"/>
<polygon points="1027.2,526.6 1041.9,515.1 1030.6,549.1 1016,559.5" fill="#15b1b4"/>
<polygon points="1038.5,491.1 1053.2,478.3 1041.9,515.1 1027.2,526.6" fill="#38b99e"/>
<polygon points="1049.8,452.9 1064.4,438.7 1053.2,478.3 1038.5,491.1" fill="#65be86"/>
<polygon points="1061,411.9 1075.7,396.4 1064.4,438.7 1049.8,452.9" fill="#9cbf6f"/>
<polygon points="1072.3,368.3 1087,351.2 1075.7,396.4 1061,411.9" fill="#c8bc5d"/>
<polygon points="1083.5,321.9 1098.2,303.2 1087,351.2 1072.3,368.3" fill="#f1b94a"/>
<polygon points="629.7,233.3 644.4,216.3 633.1,161.9 618.5,180.5" fill="#b7bd64"/>
<polygon points="641,283.4 655.6,267.9 644.4,216.3 629.7,233.3" fill="#92bf73"/>
<polygon points="652.3,331 666.9,316.9 655.6,267.9 641,283.4" fill="#59bd8c"/>
<polygon points="663.5,375.9 678.1,363.1 666.9,316.9 652.3,331" fill="#2eb7a4"/>
<polygon points="674.8,418.1 689.4,406.6 678.1,363.1 663.5,375.9" fill="#0faeb9"/>
<polygon points="686,457.8 700.7,447.5 689.4,406.6 674.8,418.1" fill="#06a4ca"/>
<polygon points="697.3,494.9 711.9,485.6 700.7,447.5 686,457.8" fill="#0998d1"/>
<polygon points="708.6,529.5 723.2,521.1 711.9,485.6 697.3,494.9" fill="#1389d3"/>
<polygon points="719.8,561.4 734.4,554 723.2,521.1 708.6,529.5" fill="#127dd8"/>
<polygon points="731.1,590.8 745.7,584.2 734.4,554 719.8,561.4" fill="#0871de"/>
<polygon points="742.3,617.7 757,611.7 745.7,584.2 731.1,590.8" fill="#0268e1"/>
<polygon points="753.6,642 768.2,636.7 757,611.7 742.3,617.7" fill="#135ade"/>
<polygon points="764.9,663.8 779.5,659 768.2,636.7 753.6,642" fill="#3148cb"/>
<polygon points="776.1,683.1 790.8,678.8 779.5,659 764.9,663.8" fill="#3740c1"/>
<polygon points="787.4,699.9 802,696.1 790.8,678.8 776.1,683.1" fill="#3a33ac"/>
<polygon points="798.6,714.3 813.3,710.8 802,696.1 787.4,699.9" fill="#3a2ea2"/>
<polygon points="809.9,726.3 824.5,723 813.3,710.8 798.6,714.3" fill="#3a2ea2"/>
<polygon points="821.2,735.9 835.8,732.7 824.5,723 809.9,726.3" fill="#392898"/>
<polygon points="832.4,743.2 847.1,740.1 835.8,732.7 821.2,735.9" fill="#392898"/>
<polygon points="843.7,748.2 858.3,745.2 847.1,740.1 832.4,743.2" fill="#392898"/>
<polygon points="854.9,751.2 869.6,748.1 858.3,745.2 843.7,748.2" fill="#392898"/>
<polygon points="866.2,751.9 880.8,748.7 869.6,748.1 854.9,751.2" fill="#392898"/>
<polygon points="877.5,750.3 892.1,747 880.8,748.7 866.2,751.9" fill="#3a2ea2"/>
<polygon points="888.7,746.3 903.4,742.8 892.1,747 877.5,750.3" fill="#3a2ea2"/>
<polygon points="900,739.9 914.6,736.1 903.4,742.8 888.7,746.3" fill="#3a33ac"/>
<polygon points="911.2,731.1 925.9,726.8 914.6,736.1 900,739.9" fill="#3740c1"/>
<polygon points="922.5,719.8 937.1,715 925.9,726.8 911.2,731.1" fill="#3148cb"/>
<polygon points="933.7,706 948.4,700.7 937.1,715 922.5,719.8" fill="#135ade"/>
<polygon points="945,689.7 959.7,683.7 948.4,700.7 933.7,706" fill="#0268e1"/>
<polygon points="956.3,670.8 970.9,664.2 959.7,683.7 945,689.7" fill="#0871de"/>
<polygon points="967.5,649.4 982.2,642 970.9,664.2 956.3,670.8" fill="#127dd8"/>
<polygon points="978.8,625.5 993.5,617.1 982.2,642 967.5,649.4" fill="#1389d3"/>
<polygon points="990,598.9 1004.7,589.6 993.5,617.1 978.8,625.5" fill="#0998d1"/>
<polygon points="1001.3,569.8 1016,559.5 1004.7,589.6 990,598.9" fill="#06a4ca"/>
<polygon points="1012.6,538.1 1027.2,526.6 1016,559.5 1001.3,569.8" fill="#0faeb9"/>
<polygon points="1023.8,503.9 1038.5,491.1 1027.2,526.6 1012.6,538.1" fill="#2eb7a4"/>
<polygon points="1035.1,467 1049.8,452.9 1038.5,491.1 1023.8,503.9" fill="#59bd8c"/>
<polygon points="1046.3,427.4 1061,411.9 1049.8,452.9 1035.1,467" fill="#92bf73"/>
<polygon points="1057.6,385.3 1072.3,368.3 1061,411.9 1046.3,427.4" fill="#b7bd64"/>
<polygon points="1068.9,340.5 1083.5,321.9 1072.3,368.3 1057.6,385.3" fill="#e1b952"/>
<polygon points="615.1,250.3 629.7,233.3 618.5,180.5 603.9,199.1" fill="#aebe67"/>
<polygon points="626.4,299 641,283.4 629.7,233.3 615.1,250.3" fill="#7cbf7b"/>
<polygon points="637.6,345.1 652.3,331 641,283.4 626.4,299" fill="#4dbc92"/>
<polygon points="648.9,388.6 663.5,375.9 652.3,331 637.6,345.1" fill="#25b5a9"/>
<polygon points="660.2,429.7 674.8,418.1 663.5,375.9 648.9,388.6" fill="#0aacbe"/>
<polygon points="671.4,468.2 686,457.8 674.8,418.1 660.2,429.7" fill="#06a4ca"/>
<polygon points="682.7,504.3 697.3,494.9 686,457.8 671.4,468.2" fill="#0c93d2"/>
<polygon points="693.9,537.8 708.6,529.5 697.3,494.9 682.7,504.3" fill="#1485d4"/>
<polygon points="705.2,568.9 719.8,561.4 708.6,529.5 693.9,537.8" fill="#127dd8"/>
<polygon points="716.5,597.5 731.1,590.8 719.8,561.4 705.2,568.9" fill="#0871de"/>
<polygon points="727.7,623.6 742.3,617.7 731.1,590.8 716.5,597.5" fill="#0268e1"/>
<polygon points="739,647.3 753.6,642 742.3,617.7 727.7,623.6" fill="#135ade"/>
<polygon points="750.2,668.5 764.9,663.8 753.6,642 739,647.3" fill="#3148cb"/>
<polygon points="761.5,687.4 776.1,683.1 764.9,663.8 750.2,668.5" fill="#3740c1"/>
<polygon points="772.7,703.8 787.4,699.9 776.1,683.1 761.5,687.4" fill="#3a33ac"/>
<polygon points="784,717.9 798.6,714.3 787.4,699.9 772.7,703.8" fill="#3a2ea2"/>
<polygon points="795.3,729.6 809.9,726.3 798.6,714.3 784,717.9" fill="#392898"/>
<polygon points="806.5,739.1 821.2,735.9 809.9,726.3 795.3,729.6" fill="#392898"/>
<polygon points="817.8,746.2 832.4,743.2 821.2,735.9 806.5,739.1" fill="#392898"/>
<polygon points="829,751.2 843.7,748.2 832.4,743.2 817.8,746.2" fill="#392898"/>
<polygon points="840.3,754.2 854.9,751.2 843.7,748.2 829,751.2" fill="#392898"/>
<polygon points="851.5,755.1 866.2,751.9 854.9,751.2 840.3,754.2" fill="#392898"/>
<polygon points="862.8,753.6 877.5,750.3 866.2,751.9 851.5,755.1" fill="#392898"/>
<polygon points="874.1,749.9 888.7,746.3 877.5,750.3 862.8,753.6" fill="#3a2ea2"/>
<polygon points="885.3,743.8 900,739.9 888.7,746.3 874.1,749.9" fill="#3a33ac"/>
<polygon points="896.6,735.4 911.2,731.1 900,739.9 885.3,743.8" fill="#3740c1"/>
<polygon points="907.8,724.5 922.5,719.8 911.2,731.1 896.6,735.4" fill="#3148cb"/>
<polygon points="919.1,711.3 933.7,706 922.5,719.8 907.8,724.5" fill="#135ade"/>
<polygon points="930.3,695.6 945,689.7 933.7,706 919.1,711.3" fill="#0268e1"/>
<polygon points="941.6,677.5 956.3,670.8 945,689.7 930.3,695.6" fill="#0871de"/>
<polygon points="952.9,656.9 967.5,649.4 956.3,670.8 941.6,677.5" fill="#127dd8"/>
<polygon points="964.1,633.8 978.8,625.5 967.5,649.4 952.9,656.9" fill="#1485d4"/>
<polygon points="975.4,608.3 990,598.9 978.8,625.5 964.1,633.8" fill="#0c93d2"/>
<polygon points="986.6,580.2 1001.3,569.8 990,598.9 975.4,608.3" fill="#06a4ca"/>
<polygon points="997.9,549.7 1012.6,538.1 1001.3,569.8 986.6,580.2" fill="#0aacbe"/>
<polygon points="1009.1,516.6 1023.8,503.9 1012.6,538.1 997.9,549.7" fill="#25b5a9"/>
<polygon points="1020.4,481.1 1035.1,467 1023.8,503.9 1009.1,516.6" fill="#4dbc92"/>
<polygon points="1031.7,443 1046.3,427.4 1035.1,467 1020.4,481.1" fill="#7cbf7b"/>
<polygon points="1042.9,402.3 1057.6,385.3 1046.3,427.4 1031.7,443" fill="#aebe67"/>
<polygon points="1054.2,359.1 1068.9,340.5 1057.6,385.3 1042.9,402.3" fill="#d9ba56"/>
<polygon points="600.5,267.4 615.1,250.3 603.9,199.1 589.3,217.8" fill="#9cbf6f"/>
<polygon points="611.8,314.5 626.4,299 615.1,250.3 600.5,267.4" fill="#71bf80"/>
<polygon points="623,359.2 637.6,345.1 626.4,299 611.8,314.5" fill="#42bb98"/>
<polygon points="634.3,401.4 648.9,388.6 637.6,345.1 623,359.2" fill="#1db3af"/>
<polygon points="645.5,441.2 660.2,429.7 648.9,388.6 634.3,401.4" fill="#07a9c2"/>
<polygon points="656.8,478.6 671.4,468.2 660.2,429.7 645.5,441.2" fill="#06a0cd"/>
<polygon points="668.1,513.6 682.7,504.3 671.4,468.2 656.8,478.6" fill="#0c93d2"/>
<polygon points="679.3,546.2 693.9,537.8 682.7,504.3 668.1,513.6" fill="#1485d4"/>
<polygon points="690.6,576.3 705.2,568.9 693.9,537.8 679.3,546.2" fill="#1079da"/>
<polygon points="701.8,604.1 716.5,597.5 705.2,568.9 690.6,576.3" fill="#0871de"/>
<polygon points="713.1,629.5 727.7,623.6 716.5,597.5 701.8,604.1" fill="#0268e1"/>
<polygon points="724.3,652.6 739,647.3 727.7,623.6 713.1,629.5" fill="#135ade"/>
<polygon points="735.6,673.3 750.2,668.5 739,647.3 724.3,652.6" fill="#3148cb"/>
<polygon points="746.8,691.6 761.5,687.4 750.2,668.5 735.6,673.3" fill="#3a3ab6"/>
<polygon points="758.1,707.7 772.7,703.8 761.5,687.4 746.8,691.6" fill="#3a33ac"/>
<polygon points="769.4,721.5 784,717.9 772.7,703.8 758.1,707.7" fill="#3a2ea2"/>
<polygon points="780.6,733 795.3,729.6 784,717.9 769.4,721.5" fill="#392898"/>
<polygon points="791.9,742.2 806.5,739.1 795.3,729.6 780.6,733" fill="#392898"/>
<polygon points="803.1,749.3 817.8,746.2 806.5,739.1 791.9,742.2" fill="#392898"/>
<polygon points="814.4,754.3 829,751.2 817.8,746.2 803.1,749.3" fill="#392898"/>
<polygon points="825.6,757.3 840.3,754.2 829,751.2 814.4,754.3" fill="#392898"/>
<polygon points="836.9,758.2 851.5,755.1 840.3,754.2 825.6,757.3" fill="#392898"/>
<polygon points="848.1,757 862.8,753.6 851.5,755.1 836.9,758.2" fill="#392898"/>
<polygon points="859.4,753.5 874.1,749.9 862.8,753.6 848.1,757" fill="#3a2ea2"/>
<polygon points="870.7,747.7 885.3,743.8 874.1,749.9 859.4,753.5" fill="#3a33ac"/>
<polygon points="881.9,739.6 896.6,735.4 885.3,743.8 870.7,747.7" fill="#3a3ab6"/>
<polygon points="893.2,729.3 907.8,724.5 896.6,735.4 881.9,739.6" fill="#3148cb"/>
<polygon points="904.4,716.6 919.1,711.3 907.8,724.5 893.2,729.3" fill="#135ade"/>
<polygon points="915.7,701.5 930.3,695.6 919.1,711.3 904.4,716.6" fill="#0268e1"/>
<polygon points="926.9,684.1 941.6,677.5 930.3,695.6 915.7,701.5" fill="#0871de"/>
<polygon points="938.2,664.3 952.9,656.9 941.6,677.5 926.9,684.1" fill="#1079da"/>
<polygon points="949.4,642.2 964.1,633.8 952.9,656.9 938.2,664.3" fill="#1485d4"/>
<polygon points="960.7,617.6 975.4,608.3 964.1,633.8 949.4,642.2" fill="#0c93d2"/>
<polygon points="972,590.6 986.6,580.2 975.4,608.3 960.7,617.6" fill="#06a0cd"/>
<polygon points="983.2,561.2 997.9,549.7 986.6,580.2 972,590.6" fill="#07a9c2"/>
<polygon points="994.5,529.4 1009.1,516.6 997.9,549.7 983.2,561.2" fill="#1db3af"/>
<polygon points="1005.7,495.2 1020.4,481.1 1009.1,516.6 994.5,529.4" fill="#42bb98"/>
<polygon points="1017,458.5 1031.7,443 1020.4,481.1 1005.7,495.2" fill="#71bf80"/>
<polygon points="1028.2,419.4 1042.9,402.3 1031.7,443 1017,458.5" fill="#9cbf6f"/>
<polygon points="1039.5,377.8 1054.2,359.1 1042.9,402.3 1028.2,419.4" fill="#c8bc5d"/>
<polygon points="585.9,284.4 600.5,267.4 589.3,217.8 574.6,236.4" fill="#92bf73"/>
<polygon points="597.2,330 611.8,314.5 600.5,267.4 585.9,284.4" fill="#65be86"/>
<polygon points="608.4,373.3 623,359.2 611.8,314.5 597.2,330" fill="#38b99e"/>
<polygon points="619.7,414.2 634.3,401.4 623,359.2 608.4,373.3" fill="#15b1b4"/>
<polygon points="630.9,452.8 645.5,441.2 634.3,401.4 619.7,414.2" fill="#06a7c6"/>
<polygon points="642.2,489 656.8,478.6 645.5,441.2 630.9,452.8" fill="#079ccf"/>
<polygon points="653.4,522.9 668.1,513.6 656.8,478.6 642.2,489" fill="#108ed2"/>
<polygon points="664.7,554.5 679.3,546.2 668.1,513.6 653.4,522.9" fill="#1481d6"/>
<polygon points="675.9,583.8 690.6,576.3 679.3,546.2 664.7,554.5" fill="#1079da"/>
<polygon points="687.2,610.8 701.8,604.1 690.6,576.3 675.9,583.8" fill="#046de0"/>
<polygon points="698.4,635.5 713.1,629.5 701.8,604.1 687.2,610.8" fill="#0363e1"/>
<polygon points="709.7,657.9 724.3,652.6 713.1,629.5 698.4,635.5" fill="#2550d6"/>
<polygon points="721,678 735.6,673.3 724.3,652.6 709.7,657.9" fill="#3148cb"/>
<polygon points="732.2,695.9 746.8,691.6 735.6,673.3 721,678" fill="#3a3ab6"/>
<polygon points="743.5,711.6 758.1,707.7 746.8,691.6 732.2,695.9" fill="#3a33ac"/>
<polygon points="754.7,725 769.4,721.5 758.1,707.7 743.5,711.6" fill="#3a2ea2"/>
<polygon points="766,736.3 780.6,733 769.4,721.5 754.7,725" fill="#392898"/>
<polygon points="777.2,745.4 791.9,742.2 780.6,733 766,736.3" fill="#392898"/>
<polygon points="788.5,752.4 803.1,749.3 791.9,742.2 777.2,745.4" fill="#392898"/>
<polygon points="799.7,757.3 814.4,754.3 803.1,749.3 788.5,752.4" fill="#392898"/>
<polygon points="811,760.4 825.6,757.3 814.4,754.3 799.7,757.3" fill="#392898"/>
<polygon points="822.2,761.4 836.9,758.2 825.6,757.3 811,760.4" fill="#392898"/>
<polygon points="833.5,760.3 848.1,757 836.9,758.2 822.2,761.4" fill="#392898"/>
<polygon points="844.7,757 859.4,753.5 848.1,757 833.5,760.3" fill="#3a2ea2"/>
<polygon points="856,751.6 870.7,747.7 859.4,753.5 844.7,757" fill="#3a33ac"/>
<polygon points="867.3,743.9 881.9,739.6 870.7,747.7 856,751.6" fill="#3a3ab6"/>
<polygon points="878.5,734 893.2,729.3 881.9,739.6 867.3,743.9" fill="#3148cb"/>
<polygon points="889.8,721.9 904.4,716.6 893.2,729.3 878.5,734" fill="#2550d6"/>
<polygon points="901,707.5 915.7,701.5 904.4,716.6 889.8,721.9" fill="#0363e1"/>
<polygon points="912.3,690.8 926.9,684.1 915.7,701.5 901,707.5" fill="#046de0"/>
<polygon points="923.5,671.8 938.2,664.3 926.9,684.1 912.3,690.8" fill="#1079da"/>
<polygon points="934.8,650.5 949.4,642.2 938.2,664.3 923.5,671.8" fill="#1481d6"/>
<polygon points="946,626.9 960.7,617.6 949.4,642.2 934.8,650.5" fill="#108ed2"/>
<polygon points="957.3,601 972,590.6 960.7,617.6 946,626.9" fill="#079ccf"/>
<polygon points="968.5,572.8 983.2,561.2 972,590.6 957.3,601" fill="#06a7c6"/>
<polygon points="979.8,542.2 994.5,529.4 983.2,561.2 968.5,572.8" fill="#15b1b4"/>
<polygon points="991,509.3 1005.7,495.2 994.5,529.4 979.8,542.2" fill="#38b99e"/>
<polygon points="1002.3,474 1017,458.5 1005.7,495.2 991,509.3" fill="#65be86"/>
<polygon points="1013.6,436.4 1028.2,419.4 1017,458.5 1002.3,474" fill="#92bf73"/>
<polygon points="1024.8,396.4 1039.5,377.8 1028.2,419.4 1013.6,436.4" fill="#b7bd64"/>
<polygon points="571.3,301.4 585.9,284.4 574.6,236.4 560,255" fill="#87bf77"/>
<polygon points="582.5,345.6 597.2,330 585.9,284.4 571.3,301.4" fill="#4dbc92"/>
<polygon points="593.8,387.4 608.4,373.3 597.2,330 582.5,345.6" fill="#2eb7a4"/>
<polygon points="605,427 619.7,414.2 608.4,373.3 593.8,387.4" fill="#0faeb9"/>
<polygon points="616.3,464.4 630.9,452.8 619.7,414.2 605,427" fill="#06a7c6"/>
<polygon points="627.6,499.5 642.2,489 630.9,452.8 616.3,464.4" fill="#0998d1"/>
<polygon points="638.8,532.3 653.4,522.9 642.2,489 627.6,499.5" fill="#1389d3"/>
<polygon points="650.1,562.9 664.7,554.5 653.4,522.9 638.8,532.3" fill="#1481d6"/>
<polygon points="661.3,591.3 675.9,583.8 664.7,554.5 650.1,562.9" fill="#0d75dc"/>
<polygon points="672.6,617.5 687.2,610.8 675.9,583.8 661.3,591.3" fill="#046de0"/>
<polygon points="683.8,641.4 698.4,635.5 687.2,610.8 672.6,617.5" fill="#0363e1"/>
<polygon points="695.1,663.2 709.7,657.9 698.4,635.5 683.8,641.4" fill="#2550d6"/>
<polygon points="706.3,682.8 721,678 709.7,657.9 695.1,663.2" fill="#3148cb"/>
<polygon points="717.6,700.2 732.2,695.9 721,678 706.3,682.8" fill="#3a3ab6"/>
<polygon points="728.8,715.5 743.5,711.6 732.2,695.9 717.6,700.2" fill="#3a33ac"/>
<polygon points="740.1,728.6 754.7,725 743.5,711.6 728.8,715.5" fill="#3a2ea2"/>
<polygon points="751.3,739.6 766,736.3 754.7,725 740.1,728.6" fill="#392898"/>
<polygon points="762.6,748.5 777.2,745.4 766,736.3 751.3,739.6" fill="#392898"/>
<polygon points="773.8,755.4 788.5,752.4 777.2,745.4 762.6,748.5" fill="#392898"/>
<polygon points="785.1,760.4 799.7,757.3 788.5,752.4 773.8,755.4" fill="#392898"/>
<polygon points="796.3,763.4 811,760.4 799.7,757.3 785.1,760.4" fill="#392898"/>
<polygon points="807.6,764.5 822.2,761.4 811,760.4 796.3,763.4" fill="#392898"/>
<polygon points="818.8,763.6 833.5,760.3 822.2,761.4 807.6,764.5" fill="#392898"/>
<polygon points="830.1,760.6 844.7,757 833.5,760.3 818.8,763.6" fill="#3a2ea2"/>
<polygon points="841.3,755.5 856,751.6 844.7,757 830.1,760.6" fill="#3a33ac"/>
<polygon points="852.6,748.2 867.3,743.9 856,751.6 841.3,755.5" fill="#3a3ab6"/>
<polygon points="863.8,738.8 878.5,734 867.3,743.9 852.6,748.2" fill="#3148cb"/>
<polygon points="875.1,727.2 889.8,721.9 878.5,734 863.8,738.8" fill="#2550d6"/>
<polygon points="886.4,713.4 901,707.5 889.8,721.9 875.1,727.2" fill="#0363e1"/>
<polygon points="897.6,697.5 912.3,690.8 901,707.5 886.4,713.4" fill="#046de0"/>
<polygon points="908.9,679.3 923.5,671.8 912.3,690.8 897.6,697.5" fill="#0d75dc"/>
<polygon points="920.1,658.9 934.8,650.5 923.5,671.8 908.9,679.3" fill="#1481d6"/>
<polygon points="931.4,636.3 946,626.9 934.8,650.5 920.1,658.9" fill="#1389d3"/>
<polygon points="942.6,611.5 957.3,601 946,626.9 931.4,636.3" fill="#0998d1"/>
<polygon points="953.9,584.4 968.5,572.8 957.3,601 942.6,611.5" fill="#06a7c6"/>
<polygon points="965.1,555 979.8,542.2 968.5,572.8 953.9,584.4" fill="#0faeb9"/>
<polygon points="976.4,523.4 991,509.3 979.8,542.2 965.1,555" fill="#2eb7a4"/>
<polygon points="987.6,489.6 1002.3,474 991,509.3 976.4,523.4" fill="#4dbc92"/>
<polygon points="998.9,453.4 1013.6,436.4 1002.3,474 987.6,489.6" fill="#87bf77"/>
<polygon points="1010.1,415 1024.8,396.4 1013.6,436.4 998.9,453.4" fill="#aebe67"/>
<polygon points="556.7,318.5 571.3,301.4 560,255 545.4,273.6" fill="#71bf80"/>
<polygon points="567.9,361.1 582.5,345.6 571.3,301.4 556.7,318.5" fill="#42bb98"/>
<polygon points="579.2,401.5 593.8,387.4 582.5,345.6 567.9,361.1" fill="#1db3af"/>
<polygon points="590.4,439.8 605,427 593.8,387.4 579.2,401.5" fill="#0aacbe"/>
<polygon points="601.7,475.9 616.3,464.4 605,427 590.4,439.8" fill="#06a4ca"/>
<polygon points="612.9,509.9 627.6,499.5 616.3,464.4 601.7,475.9" fill="#0998d1"/>
<polygon points="624.2,541.7 638.8,532.3 627.6,499.5 612.9,509.9" fill="#1389d3"/>
<polygon points="635.4,571.3 650.1,562.9 638.8,532.3 624.2,541.7" fill="#127dd8"/>
<polygon points="646.7,598.8 661.3,591.3 650.1,562.9 635.4,571.3" fill="#0d75dc"/>
<polygon points="657.9,624.2 672.6,617.5 661.3,591.3 646.7,598.8" fill="#046de0"/>
<polygon points="669.2,647.4 683.8,641.4 672.6,617.5 657.9,624.2" fill="#0363e1"/>
<polygon points="680.4,668.5 695.1,663.2 683.8,641.4 669.2,647.4" fill="#2550d6"/>
<polygon points="691.7,687.6 706.3,682.8 695.1,663.2 680.4,668.5" fill="#3740c1"/>
<polygon points="702.9,704.5 717.6,700.2 706.3,682.8 691.7,687.6" fill="#3a3ab6"/>
<polygon points="714.2,719.4 728.8,715.5 717.6,700.2 702.9,704.5" fill="#3a33ac"/>
<polygon points="725.4,732.2 740.1,728.6 728.8,715.5 714.2,719.4" fill="#3a2ea2"/>
<polygon points="736.7,742.9 751.3,739.6 740.1,728.6 725.4,732.2" fill="#392898"/>
<polygon points="747.9,751.7 762.6,748.5 751.3,739.6 736.7,742.9" fill="#392898"/>
<polygon points="759.2,758.5 773.8,755.4 762.6,748.5 747.9,751.7" fill="#392898"/>
<polygon points="770.4,763.4 785.1,760.4 773.8,755.4 759.2,758.5" fill="#392898"/>
<polygon points="781.7,766.5 796.3,763.4 785.1,760.4 770.4,763.4" fill="#392898"/>
<polygon points="792.9,767.7 807.6,764.5 796.3,763.4 781.7,766.5" fill="#392898"/>
<polygon points="804.2,766.9 818.8,763.6 807.6,764.5 792.9,767.7" fill="#392898"/>
<polygon points="815.4,764.2 830.1,760.6 818.8,763.6 804.2,766.9" fill="#3a2ea2"/>
<polygon points="826.7,759.4 841.3,755.5 830.1,760.6 815.4,764.2" fill="#3a33ac"/>
<polygon points="837.9,752.5 852.6,748.2 841.3,755.5 826.7,759.4" fill="#3a3ab6"/>
<polygon points="849.2,743.6 863.8,738.8 852.6,748.2 837.9,752.5" fill="#3740c1"/>
<polygon points="860.4,732.5 875.1,727.2 863.8,738.8 849.2,743.6" fill="#2550d6"/>
<polygon points="871.7,719.4 886.4,713.4 875.1,727.2 860.4,732.5" fill="#0363e1"/>
<polygon points="882.9,704.2 897.6,697.5 886.4,713.4 871.7,719.4" fill="#046de0"/>
<polygon points="894.2,686.8 908.9,679.3 897.6,697.5 882.9,704.2" fill="#0d75dc"/>
<polygon points="905.4,667.3 920.1,658.9 908.9,679.3 894.2,686.8" fill="#127dd8"/>
<polygon points="916.7,645.7 931.4,636.3 920.1,658.9 905.4,667.3" fill="#1389d3"/>
<polygon points="927.9,621.9 942.6,611.5 931.4,636.3 916.7,645.7" fill="#0998d1"/>
<polygon points="939.2,595.9 953.9,584.4 942.6,611.5 927.9,621.9" fill="#06a4ca"/>
<polygon points="950.4,567.8 965.1,555 953.9,584.4 939.2,595.9" fill="#0aacbe"/>
<polygon points="961.7,537.5 976.4,523.4 965.1,555 950.4,567.8" fill="#1db3af"/>
<polygon points="972.9,505.1 987.6,489.6 976.4,523.4 961.7,537.5" fill="#42bb98"/>
<polygon points="984.2,470.5 998.9,453.4 987.6,489.6 972.9,505.1" fill="#71bf80"/>
<polygon points="995.4,433.6 1010.1,415 998.9,453.4 984.2,470.5" fill="#9cbf6f"/>
<polygon points="542.1,335.5 556.7,318.5 545.4,273.6 530.8,292.2" fill="#65be86"/>
<polygon points="553.3,376.6 567.9,361.1 556.7,318.5 542.1,335.5" fill="#38b99e"/>
<polygon points="564.6,415.7 579.2,401.5 567.9,361.1 553.3,376.6" fill="#15b1b4"/>
<polygon points="575.8,452.6 590.4,439.8 579.2,401.5 564.6,415.7" fill="#07a9c2"/>
<polygon points="587.1,487.5 601.7,475.9 590.4,439.8 575.8,452.6" fill="#06a0cd"/>
<polygon points="598.3,520.3 612.9,509.9 601.7,475.9 587.1,487.5" fill="#0c93d2"/>
<polygon points="609.6,551 624.2,541.7 612.9,509.9 598.3,520.3" fill="#1485d4"/>
<polygon points="620.8,579.7 635.4,571.3 624.2,541.7 609.6,551" fill="#127dd8"/>
<polygon points="632.1,606.3 646.7,598.8 635.4,571.3 620.8,579.7" fill="#0871de"/>
<polygon points="643.3,630.9 657.9,624.2 646.7,598.8 632.1,606.3" fill="#0268e1"/>
<polygon points="654.5,653.4 669.2,647.4 657.9,624.2 643.3,630.9" fill="#135ade"/>
<polygon points="665.8,673.9 680.4,668.5 669.2,647.4 654.5,653.4" fill="#2550d6"/>
<polygon points="677,692.3 691.7,687.6 680.4,668.5 665.8,673.9" fill="#3740c1"/>
<polygon points="688.3,708.8 702.9,704.5 691.7,687.6 677,692.3" fill="#3a3ab6"/>
<polygon points="699.5,723.3 714.2,719.4 702.9,704.5 688.3,708.8" fill="#3a33ac"/>
<polygon points="710.8,735.7 725.4,732.2 714.2,719.4 699.5,723.3" fill="#3a2ea2"/>
<polygon points="722,746.3 736.7,742.9 725.4,732.2 710.8,735.7" fill="#392898"/>
<polygon points="733.3,754.9 747.9,751.7 736.7,742.9 722,746.3" fill="#392898"/>
<polygon points="744.5,761.6 759.2,758.5 747.9,751.7 733.3,754.9" fill="#392898"/>
<polygon points="755.8,766.4 770.4,763.4 759.2,758.5 744.5,761.6" fill="#392898"/>
<polygon points="767,769.6 781.7,766.5 770.4,763.4 755.8,766.4" fill="#392898"/>
<polygon points="778.3,770.9 792.9,767.7 781.7,766.5 767,769.6" fill="#392898"/>
<polygon points="789.5,770.3 804.2,766.9 792.9,767.7 778.3,770.9" fill="#392898"/>
<polygon points="800.8,767.7 815.4,764.2 804.2,766.9 789.5,770.3" fill="#3a2ea2"/>
<polygon points="812,763.3 826.7,759.4 815.4,764.2 800.8,767.7" fill="#3a33ac"/>
<polygon points="823.3,756.8 837.9,752.5 826.7,759.4 812,763.3" fill="#3a3ab6"/>
<polygon points="834.5,748.3 849.2,743.6 837.9,752.5 823.3,756.8" fill="#3740c1"/>
<polygon points="845.8,737.9 860.4,732.5 849.2,743.6 834.5,748.3" fill="#2550d6"/>
<polygon points="857,725.4 871.7,719.4 860.4,732.5 845.8,737.9" fill="#135ade"/>
<polygon points="868.3,710.9 882.9,704.2 871.7,719.4 857,725.4" fill="#0268e1"/>
<polygon points="879.5,694.3 894.2,686.8 882.9,704.2 868.3,710.9" fill="#0871de"/>
<polygon points="890.8,675.7 905.4,667.3 894.2,686.8 879.5,694.3" fill="#127dd8"/>
<polygon points="902,655 916.7,645.7 905.4,667.3 890.8,675.7" fill="#1485d4"/>
<polygon points="913.3,632.3 927.9,621.9 916.7,645.7 902,655" fill="#0c93d2"/>
<polygon points="924.5,607.5 939.2,595.9 927.9,621.9 913.3,632.3" fill="#06a0cd"/>
<polygon points="935.8,580.6 950.4,567.8 939.2,595.9 924.5,607.5" fill="#07a9c2"/>
<polygon points="947,551.7 961.7,537.5 950.4,567.8 935.8,580.6" fill="#15b1b4"/>
<polygon points="958.3,520.6 972.9,505.1 961.7,537.5 947,551.7" fill="#38b99e"/>
<polygon points="969.5,487.5 984.2,470.5 972.9,505.1 958.3,520.6" fill="#65be86"/>
<polygon points="980.8,452.2 995.4,433.6 984.2,470.5 969.5,487.5" fill="#92bf73"/>
<polygon points="527.4,352.5 542.1,335.5 530.8,292.2 516.2,310.8" fill="#4dbc92"/>
<polygon points="538.7,392.2 553.3,376.6 542.1,335.5 527.4,352.5" fill="#2eb7a4"/>
<polygon points="549.9,429.8 564.6,415.7 553.3,376.6 538.7,392.2" fill="#0faeb9"/>
<polygon points="561.2,465.4 575.8,452.6 564.6,415.7 549.9,429.8" fill="#06a7c6"/>
<polygon points="572.4,499.1 587.1,487.5 575.8,452.6 561.2,465.4" fill="#079ccf"/>
<polygon points="583.7,530.7 598.3,520.3 587.1,487.5 572.4,499.1" fill="#108ed2"/>
<polygon points="594.9,560.4 609.6,551 598.3,520.3 583.7,530.7" fill="#1485d4"/>
<polygon points="606.2,588.1 620.8,579.7 609.6,551 594.9,560.4" fill="#1079da"/>
<polygon points="617.4,613.8 632.1,606.3 620.8,579.7 606.2,588.1" fill="#0871de"/>
<polygon points="628.7,637.6 643.3,630.9 632.1,606.3 617.4,613.8" fill="#0268e1"/>
<polygon points="639.9,659.4 654.5,653.4 643.3,630.9 628.7,637.6" fill="#135ade"/>
<polygon points="651.2,679.2 665.8,673.9 654.5,653.4 639.9,659.4" fill="#3148cb"/>
<polygon points="662.4,697.1 677,692.3 665.8,673.9 651.2,679.2" fill="#3740c1"/>
<polygon points="673.7,713.1 688.3,708.8 677,692.3 662.4,697.1" fill="#3a3ab6"/>
<polygon points="684.9,727.2 699.5,723.3 688.3,708.8 673.7,713.1" fill="#3a33ac"/>
<polygon points="696.2,739.3 710.8,735.7 699.5,723.3 684.9,727.2" fill="#3a2ea2"/>
<polygon points="707.4,749.6 722,746.3 710.8,735.7 696.2,739.3" fill="#392898"/>
<polygon points="718.6,758 733.3,754.9 722,746.3 707.4,749.6" fill="#392898"/>
<polygon points="729.9,764.6 744.5,761.6 733.3,754.9 718.6,758" fill="#392898"/>
<polygon points="741.1,769.5 755.8,766.4 744.5,761.6 729.9,764.6" fill="#392898"/>
<polygon points="752.4,772.6 767,769.6 755.8,766.4 741.1,769.5" fill="#392898"/>
<polygon points="763.6,774 778.3,770.9 767,769.6 752.4,772.6" fill="#392898"/>
<polygon points="774.9,773.6 789.5,770.3 778.3,770.9 763.6,774" fill="#392898"/>
<polygon points="786.1,771.3 800.8,767.7 789.5,770.3 774.9,773.6" fill="#3a2ea2"/>
<polygon points="797.4,767.2 812,763.3 800.8,767.7 786.1,771.3" fill="#3a33ac"/>
<polygon points="808.6,761.1 823.3,756.8 812,763.3 797.4,767.2" fill="#3a3ab6"/>
<polygon points="819.9,753.1 834.5,748.3 823.3,756.8 808.6,761.1" fill="#3740c1"/>
<polygon points="831.1,743.2 845.8,737.9 834.5,748.3 819.9,753.1" fill="#3148cb"/>
<polygon points="842.4,731.4 857,725.4 845.8,737.9 831.1,743.2" fill="#135ade"/>
<polygon points="853.6,717.6 868.3,710.9 857,725.4 842.4,731.4" fill="#0268e1"/>
<polygon points="864.9,701.8 879.5,694.3 868.3,710.9 853.6,717.6" fill="#0871de"/>
<polygon points="876.1,684.1 890.8,675.7 879.5,694.3 864.9,701.8" fill="#1079da"/>
<polygon points="887.4,664.4 902,655 890.8,675.7 876.1,684.1" fill="#1485d4"/>
<polygon points="898.6,642.7 913.3,632.3 902,655 887.4,664.4" fill="#108ed2"/>
<polygon points="909.8,619.1 924.5,607.5 913.3,632.3 898.6,642.7" fill="#079ccf"/>
<polygon points="921.1,593.4 935.8,580.6 924.5,607.5 909.8,619.1" fill="#06a7c6"/>
<polygon points="932.3,565.8 947,551.7 935.8,580.6 921.1,593.4" fill="#0faeb9"/>
<polygon points="943.6,536.2 958.3,520.6 947,551.7 932.3,565.8" fill="#2eb7a4"/>
<polygon points="954.8,504.5 969.5,487.5 958.3,520.6 943.6,536.2" fill="#4dbc92"/>
<polygon points="966.1,470.8 980.8,452.2 969.5,487.5 954.8,504.5" fill="#7cbf7b"/>
<polygon points="512.8,369.5 527.4,352.5 516.2,310.8 501.6,329.4" fill="#42bb98"/>
<polygon points="524.1,407.7 538.7,392.2 527.4,352.5 512.8,369.5" fill="#1db3af"/>
<polygon points="535.3,443.9 549.9,429.8 538.7,392.2 524.1,407.7" fill="#0aacbe"/>
<polygon points="546.6,478.2 561.2,465.4 549.9,429.8 535.3,443.9" fill="#06a4ca"/>
<polygon points="557.8,510.7 572.4,499.1 561.2,465.4 546.6,478.2" fill="#0998d1"/>
<polygon points="569.1,541.2 583.7,530.7 572.4,499.1 557.8,510.7" fill="#1389d3"/>
<polygon points="580.3,569.8 594.9,560.4 583.7,530.7 569.1,541.2" fill="#1481d6"/>
<polygon points="591.5,596.5 606.2,588.1 594.9,560.4 580.3,569.8" fill="#1079da"/>
<polygon points="602.8,621.3 617.4,613.8 606.2,588.1 591.5,596.5" fill="#046de0"/>
<polygon points="614,644.3 628.7,637.6 617.4,613.8 602.8,621.3" fill="#0363e1"/>
<polygon points="625.3,665.3 639.9,659.4 628.7,637.6 614,644.3" fill="#135ade"/>
<polygon points="636.5,684.5 651.2,679.2 639.9,659.4 625.3,665.3" fill="#3148cb"/>
<polygon points="647.8,701.9 662.4,697.1 651.2,679.2 636.5,684.5" fill="#3740c1"/>
<polygon points="659,717.4 673.7,713.1 662.4,697.1 647.8,701.9" fill="#3a3ab6"/>
<polygon points="670.3,731.1 684.9,727.2 673.7,713.1 659,717.4" fill="#3a33ac"/>
<polygon points="681.5,742.9 696.2,739.3 684.9,727.2 670.3,731.1" fill="#3a2ea2"/>
<polygon points="692.8,752.9 707.4,749.6 696.2,739.3 681.5,742.9" fill="#392898"/>
<polygon points="704,761.2 718.6,758 707.4,749.6 692.8,752.9" fill="#392898"/>
<polygon points="715.2,767.7 729.9,764.6 718.6,758 704,761.2" fill="#392898"/>
<polygon points="726.5,772.5 741.1,769.5 729.9,764.6 715.2,767.7" fill="#392898"/>
<polygon points="737.7,775.7 752.4,772.6 741.1,769.5 726.5,772.5" fill="#392898"/>
<polygon points="749,777.2 763.6,774 752.4,772.6 737.7,775.7" fill="#392898"/>
<polygon points="760.2,776.9 774.9,773.6 763.6,774 749,777.2" fill="#392898"/>
<polygon points="771.5,774.9 786.1,771.3 774.9,773.6 760.2,776.9" fill="#3a2ea2"/>
<polygon points="782.7,771.1 797.4,767.2 786.1,771.3 771.5,774.9" fill="#3a33ac"/>
<polygon points="794,765.4 808.6,761.1 797.4,767.2 782.7,771.1" fill="#3a3ab6"/>
<polygon points="805.2,757.9 819.9,753.1 808.6,761.1 794,765.4" fill="#3740c1"/>
<polygon points="816.5,748.5 831.1,743.2 819.9,753.1 805.2,757.9" fill="#3148cb"/>
<polygon points="827.7,737.3 842.4,731.4 831.1,743.2 816.5,748.5" fill="#135ade"/>
<polygon points="838.9,724.3 853.6,717.6 842.4,731.4 827.7,737.3" fill="#0363e1"/>
<polygon points="850.2,709.3 864.9,701.8 853.6,717.6 838.9,724.3" fill="#046de0"/>
<polygon points="861.4,692.5 876.1,684.1 864.9,701.8 850.2,709.3" fill="#1079da"/>
<polygon points="872.7,673.8 887.4,664.4 876.1,684.1 861.4,692.5" fill="#1481d6"/>
<polygon points="883.9,653.2 898.6,642.7 887.4,664.4 872.7,673.8" fill="#1389d3"/>
<polygon points="895.2,630.7 909.8,619.1 898.6,642.7 883.9,653.2" fill="#0998d1"/>
<polygon points="906.4,606.2 921.1,593.4 909.8,619.1 895.2,630.7" fill="#06a4ca"/>
<polygon points="917.7,579.9 932.3,565.8 921.1,593.4 906.4,606.2" fill="#0aacbe"/>
<polygon points="928.9,551.7 943.6,536.2 932.3,565.8 917.7,579.9" fill="#1db3af"/>
<polygon points="940.2,521.5 954.8,504.5 943.6,536.2 928.9,551.7" fill="#42bb98"/>
<polygon points="951.4,489.4 966.1,470.8 954.8,504.5 940.2,521.5" fill="#65be86"/>
<polygon points="498.2,386.5 512.8,369.5 501.6,329.4 487,348" fill="#2eb7a4"/>
<polygon points="509.5,423.2 524.1,407.7 512.8,369.5 498.2,386.5" fill="#15b1b4"/>
<polygon points="520.7,458.1 535.3,443.9 524.1,407.7 509.5,423.2" fill="#07a9c2"/>
<polygon points="531.9,491.1 546.6,478.2 535.3,443.9 520.7,458.1" fill="#06a0cd"/>
<polygon points="543.2,522.3 557.8,510.7 546.6,478.2 531.9,491.1" fill="#0c93d2"/>
<polygon points="554.4,551.6 569.1,541.2 557.8,510.7 543.2,522.3" fill="#1389d3"/>
<polygon points="565.7,579.2 580.3,569.8 569.1,541.2 554.4,551.6" fill="#127dd8"/>
<polygon points="576.9,604.9 591.5,596.5 580.3,569.8 565.7,579.2" fill="#0d75dc"/>
<polygon points="588.2,628.8 602.8,621.3 591.5,596.5 576.9,604.9" fill="#046de0"/>
<polygon points="599.4,651 614,644.3 602.8,621.3 588.2,628.8" fill="#0363e1"/>
<polygon points="610.7,671.3 625.3,665.3 614,644.3 599.4,651" fill="#2550d6"/>
<polygon points="621.9,689.9 636.5,684.5 625.3,665.3 610.7,671.3" fill="#3148cb"/>
<polygon points="633.1,706.7 647.8,701.9 636.5,684.5 621.9,689.9" fill="#3740c1"/>
<polygon points="644.4,721.7 659,717.4 647.8,701.9 633.1,706.7" fill="#3a3ab6"/>
<polygon points="655.6,735 670.3,731.1 659,717.4 644.4,721.7" fill="#3a33ac"/>
<polygon points="666.9,746.5 681.5,742.9 670.3,731.1 655.6,735" fill="#3a2ea2"/>
<polygon points="678.1,756.3 692.8,752.9 681.5,742.9 666.9,746.5" fill="#392898"/>
<polygon points="689.4,764.4 704,761.2 692.8,752.9 678.1,756.3" fill="#392898"/>
<polygon points="700.6,770.8 715.2,767.7 704,761.2 689.4,764.4" fill="#392898"/>
<polygon points="711.8,775.5 726.5,772.5 715.2,767.7 700.6,770.8" fill="#392898"/>
<polygon points="723.1,778.8 737.7,775.7 726.5,772.5 711.8,775.5" fill="#392898"/>
<polygon points="734.3,780.4 749,777.2 737.7,775.7 723.1,778.8" fill="#392898"/>
<polygon points="745.6,780.3 760.2,776.9 749,777.2 734.3,780.4" fill="#392898"/>
<polygon points="756.8,778.5 771.5,774.9 760.2,776.9 745.6,780.3" fill="#3a2ea2"/>
<polygon points="768.1,775 782.7,771.1 771.5,774.9 756.8,778.5" fill="#3a33ac"/>
<polygon points="779.3,769.7 794,765.4 782.7,771.1 768.1,775" fill="#3a3ab6"/>
<polygon points="790.5,762.7 805.2,757.9 794,765.4 779.3,769.7" fill="#3740c1"/>
<polygon points="801.8,753.9 816.5,748.5 805.2,757.9 790.5,762.7" fill="#3148cb"/>
<polygon points="813,743.3 827.7,737.3 816.5,748.5 801.8,753.9" fill="#2550d6"/>
<polygon points="824.3,731 838.9,724.3 827.7,737.3 813,743.3" fill="#0363e1"/>
<polygon points="835.5,716.8 850.2,709.3 838.9,724.3 824.3,731" fill="#046de0"/>
<polygon points="846.8,700.9 861.4,692.5 850.2,709.3 835.5,716.8" fill="#0d75dc"/>
<polygon points="858,683.2 872.7,673.8 861.4,692.5 846.8,700.9" fill="#127dd8"/>
<polygon points="869.3,663.6 883.9,653.2 872.7,673.8 858,683.2" fill="#1389d3"/>
<polygon points="880.5,642.3 895.2,630.7 883.9,653.2 869.3,663.6" fill="#0c93d2"/>
<polygon points="891.7,619.1 906.4,606.2 895.2,630.7 880.5,642.3" fill="#06a0cd"/>
<polygon points="903,594.1 917.7,579.9 906.4,606.2 891.7,619.1" fill="#07a9c2"/>
<polygon points="914.2,567.2 928.9,551.7 917.7,579.9 903,594.1" fill="#15b1b4"/>
<polygon points="925.5,538.5 940.2,521.5 928.9,551.7 914.2,567.2" fill="#2eb7a4"/>
<polygon points="936.7,508 951.4,489.4 940.2,521.5 925.5,538.5" fill="#59bd8c"/>
<polygon points="483.6,403.6 498.2,386.5 487,348 472.4,366.6" fill="#25b5a9"/>
<polygon points="494.8,438.7 509.5,423.2 498.2,386.5 483.6,403.6" fill="#0faeb9"/>
<polygon points="506.1,472.2 520.7,458.1 509.5,423.2 494.8,438.7" fill="#06a7c6"/>
<polygon points="517.3,503.9 531.9,491.1 520.7,458.1 506.1,472.2" fill="#079ccf"/>
<polygon points="528.6,533.8 543.2,522.3 531.9,491.1 517.3,503.9" fill="#108ed2"/>
<polygon points="539.8,562.1 554.4,551.6 543.2,522.3 528.6,533.8" fill="#1485d4"/>
<polygon points="551.1,588.6 565.7,579.2 554.4,551.6 539.8,562.1" fill="#127dd8"/>
<polygon points="562.3,613.3 576.9,604.9 565.7,579.2 551.1,588.6" fill="#0871de"/>
<polygon points="573.5,636.4 588.2,628.8 576.9,604.9 562.3,613.3" fill="#046de0"/>
<polygon points="584.8,657.7 599.4,651 588.2,628.8 573.5,636.4" fill="#0363e1"/>
<polygon points="596,677.3 610.7,671.3 599.4,651 584.8,657.7" fill="#2550d6"/>
<polygon points="607.3,695.3 621.9,689.9 610.7,671.3 596,677.3" fill="#3148cb"/>
<polygon points="618.5,711.5 633.1,706.7 621.9,689.9 607.3,695.3" fill="#3a3ab6"/>
<polygon points="629.7,726 644.4,721.7 633.1,706.7 618.5,711.5" fill="#3a33ac"/>
<polygon points="641,738.9 655.6,735 644.4,721.7 629.7,726" fill="#3a33ac"/>
<polygon points="652.2,750.1 666.9,746.5 655.6,735 641,738.9" fill="#3a2ea2"/>
<polygon points="663.5,759.6 678.1,756.3 666.9,746.5 652.2,750.1" fill="#392898"/>
<polygon points="674.7,767.5 689.4,764.4 678.1,756.3 663.5,759.6" fill="#392898"/>
<polygon points="686,773.8 700.6,770.8 689.4,764.4 674.7,767.5" fill="#392898"/>
<polygon points="697.2,778.6 711.8,775.5 700.6,770.8 686,773.8" fill="#392898"/>
<polygon points="708.4,781.8 723.1,778.8 711.8,775.5 697.2,778.6" fill="#392898"/>
<polygon points="719.7,783.5 734.3,780.4 723.1,778.8 708.4,781.8" fill="#392898"/>
<polygon points="730.9,783.6 745.6,780.3 734.3,780.4 719.7,783.5" fill="#392898"/>
<polygon points="742.2,782.1 756.8,778.5 745.6,780.3 730.9,783.6" fill="#3a2ea2"/>
<polygon points="753.4,778.9 768.1,775 756.8,778.5 742.2,782.1" fill="#3a33ac"/>
<polygon points="764.6,774 779.3,769.7 768.1,775 753.4,778.9" fill="#3a33ac"/>
<polygon points="775.9,767.5 790.5,762.7 779.3,769.7 764.6,774" fill="#3a3ab6"/>
<polygon points="787.1,759.3 801.8,753.9 790.5,762.7 775.9,767.5" fill="#3148cb"/>
<polygon points="798.4,749.3 813,743.3 801.8,753.9 787.1,759.3" fill="#2550d6"/>
<polygon points="809.6,737.7 824.3,731 813,743.3 798.4,749.3" fill="#0363e1"/>
<polygon points="820.9,724.4 835.5,716.8 824.3,731 809.6,737.7" fill="#046de0"/>
<polygon points="832.1,709.3 846.8,700.9 835.5,716.8 820.9,724.4" fill="#0871de"/>
<polygon points="843.3,692.6 858,683.2 846.8,700.9 832.1,709.3" fill="#127dd8"/>
<polygon points="854.6,674.1 869.3,663.6 858,683.2 843.3,692.6" fill="#1485d4"/>
<polygon points="865.8,653.8 880.5,642.3 869.3,663.6 854.6,674.1" fill="#108ed2"/>
<polygon points="877.1,631.9 891.7,619.1 880.5,642.3 865.8,653.8" fill="#079ccf"/>
<polygon points="888.3,608.2 903,594.1 891.7,619.1 877.1,631.9" fill="#06a7c6"/>
<polygon points="899.5,582.7 914.2,567.2 903,594.1 888.3,608.2" fill="#0faeb9"/>
<polygon points="910.8,555.6 925.5,538.5 914.2,567.2 899.5,582.7" fill="#25b5a9"/>
<polygon points="922,526.6 936.7,508 925.5,538.5 910.8,555.6" fill="#42bb98"/>
<polygon points="469,420.6 483.6,403.6 472.4,366.6 457.8,385.2" fill="#1db3af"/>
<polygon points="480.2,454.3 494.8,438.7 483.6,403.6 469,420.6" fill="#0aacbe"/>
<polygon points="491.5,486.3 506.1,472.2 494.8,438.7 480.2,454.3" fill="#06a4ca"/>
<polygon points="502.7,516.7 517.3,503.9 506.1,472.2 491.5,486.3" fill="#0998d1"/>
<polygon points="514,545.4 528.6,533.8 517.3,503.9 502.7,516.7" fill="#1389d3"/>
<polygon points="525.2,572.5 539.8,562.1 528.6,533.8 514,545.4" fill="#1481d6"/>
<polygon points="536.4,598 551.1,588.6 539.8,562.1 525.2,572.5" fill="#1079da"/>
<polygon points="547.7,621.8 562.3,613.3 551.1,588.6 536.4,598" fill="#0871de"/>
<polygon points="558.9,643.9 573.5,636.4 562.3,613.3 547.7,621.8" fill="#0268e1"/>
<polygon points="570.1,664.4 584.8,657.7 573.5,636.4 558.9,643.9" fill="#135ade"/>
<polygon points="581.4,683.3 596,677.3 584.8,657.7 570.1,664.4" fill="#2550d6"/>
<polygon points="592.6,700.6 607.3,695.3 596,677.3 581.4,683.3" fill="#3740c1"/>
<polygon points="603.9,716.3 618.5,711.5 607.3,695.3 592.6,700.6" fill="#3a3ab6"/>
<polygon points="615.1,730.3 629.7,726 618.5,711.5 603.9,716.3" fill="#3a33ac"/>
<polygon points="626.4,742.8 641,738.9 629.7,726 615.1,730.3" fill="#3a2ea2"/>
<polygon points="637.6,753.7 652.2,750.1 641,738.9 626.4,742.8" fill="#3a2ea2"/>
<polygon points="648.8,763 663.5,759.6 652.2,750.1 637.6,753.7" fill="#392898"/>
<polygon points="660.1,770.7 674.7,767.5 663.5,759.6 648.8,763" fill="#392898"/>
<polygon points="671.3,776.9 686,773.8 674.7,767.5 660.1,770.7" fill="#392898"/>
<polygon points="682.5,781.6 697.2,778.6 686,773.8 671.3,776.9" fill="#392898"/>
<polygon points="693.8,784.9 708.4,781.8 697.2,778.6 682.5,781.6" fill="#392898"/>
<polygon points="705,786.7 719.7,783.5 708.4,781.8 693.8,784.9" fill="#392898"/>
<polygon points="716.3,787 730.9,783.6 719.7,783.5 705,786.7" fill="#392898"/>
<polygon points="727.5,785.7 742.2,782.1 730.9,783.6 716.3,787" fill="#3a2ea2"/>
<polygon points="738.8,782.8 753.4,778.9 742.2,782.1 727.5,785.7" fill="#3a2ea2"/>
<polygon points="750,778.3 764.6,774 753.4,778.9 738.8,782.8" fill="#3a33ac"/>
<polygon points="761.2,772.3 775.9,767.5 764.6,774 750,778.3" fill="#3a3ab6"/>
<polygon points="772.5,764.6 787.1,759.3 775.9,767.5 761.2,772.3" fill="#3740c1"/>
<polygon points="783.7,755.3 798.4,749.3 787.1,759.3 772.5,764.6" fill="#2550d6"/>
<polygon points="795,744.4 809.6,737.7 798.4,749.3 783.7,755.3" fill="#135ade"/>
<polygon points="806.2,731.9 820.9,724.4 809.6,737.7 795,744.4" fill="#0268e1"/>
<polygon points="817.4,717.8 832.1,709.3 820.9,724.4 806.2,731.9" fill="#0871de"/>
<polygon points="828.7,702 843.3,692.6 832.1,709.3 817.4,717.8" fill="#1079da"/>
<polygon points="839.9,684.5 854.6,674.1 843.3,692.6 828.7,702" fill="#1481d6"/>
<polygon points="851.2,665.4 865.8,653.8 854.6,674.1 839.9,684.5" fill="#1389d3"/>
<polygon points="862.4,644.7 877.1,631.9 865.8,653.8 851.2,665.4" fill="#0998d1"/>
<polygon points="873.6,622.3 888.3,608.2 877.1,631.9 862.4,644.7" fill="#06a4ca"/>
<polygon points="884.9,598.3 899.5,582.7 888.3,608.2 873.6,622.3" fill="#0aacbe"/>
<polygon points="896.1,572.6 910.8,555.6 899.5,582.7 884.9,598.3" fill="#1db3af"/>
<polygon points="907.4,545.2 922,526.6 910.8,555.6 896.1,572.6" fill="#38b99e"/>
<polygon points="454.4,437.6 469,420.6 457.8,385.2 443.1,403.8" fill="#0faeb9"/>
<polygon points="465.6,469.8 480.2,454.3 469,420.6 454.4,437.6" fill="#06a7c6"/>
<polygon points="476.9,500.5 491.5,486.3 480.2,454.3 465.6,469.8" fill="#06a0cd"/>
<polygon points="488.1,529.5 502.7,516.7 491.5,486.3 476.9,500.5" fill="#0c93d2"/>
<polygon points="499.3,557 514,545.4 502.7,516.7 488.1,529.5" fill="#1389d3"/>
<polygon points="510.6,583 525.2,572.5 514,545.4 499.3,557" fill="#127dd8"/>
<polygon points="521.8,607.4 536.4,598 525.2,572.5 510.6,583" fill="#0d75dc"/>
<polygon points="533,630.2 547.7,621.8 536.4,598 521.8,607.4" fill="#046de0"/>
<polygon points="544.3,651.5 558.9,643.9 547.7,621.8 533,630.2" fill="#0268e1"/>
<polygon points="555.5,671.2 570.1,664.4 558.9,643.9 544.3,651.5" fill="#135ade"/>
<polygon points="566.8,689.4 581.4,683.3 570.1,664.4 555.5,671.2" fill="#2550d6"/>
<polygon points="578,706 592.6,700.6 581.4,683.3 566.8,689.4" fill="#3740c1"/>
<polygon points="589.2,721.1 603.9,716.3 592.6,700.6 578,706" fill="#3a3ab6"/>
<polygon points="600.5,734.7 615.1,730.3 603.9,716.3 589.2,721.1" fill="#3a33ac"/>
<polygon points="611.7,746.7 626.4,742.8 615.1,730.3 600.5,734.7" fill="#3a2ea2"/>
<polygon points="622.9,757.3 637.6,753.7 626.4,742.8 611.7,746.7" fill="#3a2ea2"/>
<polygon points="634.2,766.3 648.8,763 637.6,753.7 622.9,757.3" fill="#392898"/>
<polygon points="645.4,773.9 660.1,770.7 648.8,763 634.2,766.3" fill="#392898"/>
<polygon points="656.7,780 671.3,776.9 660.1,770.7 645.4,773.9" fill="#392898"/>
<polygon points="667.9,784.7 682.5,781.6 671.3,776.9 656.7,780" fill="#392898"/>
<polygon points="679.1,788 693.8,784.9 682.5,781.6 667.9,784.7" fill="#392898"/>
<polygon points="690.4,789.9 705,786.7 693.8,784.9 679.1,788" fill="#392898"/>
<polygon points="701.6,790.3 716.3,787 705,786.7 690.4,789.9" fill="#392898"/>
<polygon points="712.9,789.3 727.5,785.7 716.3,787 701.6,790.3" fill="#3a2ea2"/>
<polygon points="724.1,786.7 738.8,782.8 727.5,785.7 712.9,789.3" fill="#3a2ea2"/>
<polygon points="735.3,782.7 750,778.3 738.8,782.8 724.1,786.7" fill="#3a33ac"/>
<polygon points="746.6,777.1 761.2,772.3 750,778.3 735.3,782.7" fill="#3a3ab6"/>
<polygon points="757.8,770 772.5,764.6 761.2,772.3 746.6,777.1" fill="#3740c1"/>
<polygon points="769,761.4 783.7,755.3 772.5,764.6 757.8,770" fill="#2550d6"/>
<polygon points="780.3,751.2 795,744.4 783.7,755.3 769,761.4" fill="#135ade"/>
<polygon points="791.5,739.5 806.2,731.9 795,744.4 780.3,751.2" fill="#0268e1"/>
<polygon points="802.8,726.2 817.4,717.8 806.2,731.9 791.5,739.5" fill="#046de0"/>
<polygon points="814,711.4 828.7,702 817.4,717.8 802.8,726.2" fill="#0d75dc"/>
<polygon points="825.2,695 839.9,684.5 828.7,702 814,711.4" fill="#127dd8"/>
<polygon points="836.5,677 851.2,665.4 839.9,684.5 825.2,695" fill="#1389d3"/>
<polygon points="847.7,657.5 862.4,644.7 851.2,665.4 836.5,677" fill="#0c93d2"/>
<polygon points="859,636.5 873.6,622.3 862.4,644.7 847.7,657.5" fill="#06a0cd"/>
<polygon points="870.2,613.8 884.9,598.3 873.6,622.3 859,636.5" fill="#06a7c6"/>
<polygon points="881.4,589.6 896.1,572.6 884.9,598.3 870.2,613.8" fill="#0faeb9"/>
<polygon points="892.7,563.8 907.4,545.2 896.1,572.6 881.4,589.6" fill="#25b5a9"/>
<polygon points="439.8,454.6 454.4,437.6 443.1,403.8 428.5,422.3" fill="#0aacbe"/>
<polygon points="451,485.3 465.6,469.8 454.4,437.6 439.8,454.6" fill="#06a4ca"/>
<polygon points="462.2,514.6 476.9,500.5 465.6,469.8 451,485.3" fill="#0998d1"/>
<polygon points="473.5,542.4 488.1,529.5 476.9,500.5 462.2,514.6" fill="#108ed2"/>
<polygon points="484.7,568.7 499.3,557 488.1,529.5 473.5,542.4" fill="#1485d4"/>
<polygon points="495.9,593.5 510.6,583 499.3,557 484.7,568.7" fill="#127dd8"/>
<polygon points="507.2,616.8 521.8,607.4 510.6,583 495.9,593.5" fill="#0d75dc"/>
<polygon points="518.4,638.6 533,630.2 521.8,607.4 507.2,616.8" fill="#046de0"/>
<polygon points="529.7,659 544.3,651.5 533,630.2 518.4,638.6" fill="#0363e1"/>
<polygon points="540.9,677.9 555.5,671.2 544.3,651.5 529.7,659" fill="#135ade"/>
<polygon points="552.1,695.4 566.8,689.4 555.5,671.2 540.9,677.9" fill="#3148cb"/>
<polygon points="563.4,711.4 578,706 566.8,689.4 552.1,695.4" fill="#3740c1"/>
<polygon points="574.6,725.9 589.2,721.1 578,706 563.4,711.4" fill="#3a3ab6"/>
<polygon points="585.8,739 600.5,734.7 589.2,721.1 574.6,725.9" fill="#3a33ac"/>
<polygon points="597.1,750.6 611.7,746.7 600.5,734.7 585.8,739" fill="#3a2ea2"/>
<polygon points="608.3,760.9 622.9,757.3 611.7,746.7 597.1,750.6" fill="#3a2ea2"/>
<polygon points="619.5,769.6 634.2,766.3 622.9,757.3 608.3,760.9" fill="#392898"/>
<polygon points="630.8,777 645.4,773.9 634.2,766.3 619.5,769.6" fill="#392898"/>
<polygon points="642,783 656.7,780 645.4,773.9 630.8,777" fill="#392898"/>
<polygon points="653.3,787.7 667.9,784.7 656.7,780 642,783" fill="#392898"/>
<polygon points="664.5,791 679.1,788 667.9,784.7 653.3,787.7" fill="#392898"/>
<polygon points="675.7,793 690.4,789.9 679.1,788 664.5,791" fill="#392898"/>
<polygon points="687,793.6 701.6,790.3 690.4,789.9 675.7,793" fill="#392898"/>
<polygon points="698.2,792.9 712.9,789.3 701.6,790.3 687,793.6" fill="#3a2ea2"/>
<polygon points="709.4,790.6 724.1,786.7 712.9,789.3 698.2,792.9" fill="#3a2ea2"/>
<polygon points="720.7,787 735.3,782.7 724.1,786.7 709.4,790.6" fill="#3a33ac"/>
<polygon points="731.9,781.9 746.6,777.1 735.3,782.7 720.7,787" fill="#3a3ab6"/>
<polygon points="743.1,775.4 757.8,770 746.6,777.1 731.9,781.9" fill="#3740c1"/>
<polygon points="754.4,767.4 769,761.4 757.8,770 743.1,775.4" fill="#3148cb"/>
<polygon points="765.6,757.9 780.3,751.2 769,761.4 754.4,767.4" fill="#135ade"/>
<polygon points="776.9,747 791.5,739.5 780.3,751.2 765.6,757.9" fill="#0363e1"/>
<polygon points="788.1,734.6 802.8,726.2 791.5,739.5 776.9,747" fill="#046de0"/>
<polygon points="799.3,720.8 814,711.4 802.8,726.2 788.1,734.6" fill="#0d75dc"/>
<polygon points="810.6,705.5 825.2,695 814,711.4 799.3,720.8" fill="#127dd8"/>
<polygon points="821.8,688.7 836.5,677 825.2,695 810.6,705.5" fill="#1485d4"/>
<polygon points="833,670.4 847.7,657.5 836.5,677 821.8,688.7" fill="#108ed2"/>
<polygon points="844.3,650.6 859,636.5 847.7,657.5 833,670.4" fill="#0998d1"/>
<polygon points="855.5,629.3 870.2,613.8 859,636.5 844.3,650.6" fill="#06a4ca"/>
<polygon points="866.7,606.6 881.4,589.6 870.2,613.8 855.5,629.3" fill="#0aacbe"/>
<polygon points="878,582.3 892.7,563.8 881.4,589.6 866.7,606.6" fill="#1db3af"/>
<polygon points="425.1,471.6 439.8,454.6 428.5,422.3 413.9,440.9" fill="#06a7c6"/>
<polygon points="436.4,500.9 451,485.3 439.8,454.6 425.1,471.6" fill="#06a0cd"/>
<polygon points="447.6,528.7 462.2,514.6 451,485.3 436.4,500.9" fill="#0c93d2"/>
<polygon points="458.9,555.2 473.5,542.4 462.2,514.6 447.6,528.7" fill="#1389d3"/>
<polygon points="470.1,580.3 484.7,568.7 473.5,542.4 458.9,555.2" fill="#1481d6"/>
<polygon points="481.3,603.9 495.9,593.5 484.7,568.7 470.1,580.3" fill="#1079da"/>
<polygon points="492.6,626.2 507.2,616.8 495.9,593.5 481.3,603.9" fill="#0871de"/>
<polygon points="503.8,647.1 518.4,638.6 507.2,616.8 492.6,626.2" fill="#0268e1"/>
<polygon points="515,666.6 529.7,659 518.4,638.6 503.8,647.1" fill="#0363e1"/>
<polygon points="526.3,684.7 540.9,677.9 529.7,659 515,666.6" fill="#2550d6"/>
<polygon points="537.5,701.4 552.1,695.4 540.9,677.9 526.3,684.7" fill="#3148cb"/>
<polygon points="548.7,716.7 563.4,711.4 552.1,695.4 537.5,701.4" fill="#3740c1"/>
<polygon points="560,730.7 574.6,725.9 563.4,711.4 548.7,716.7" fill="#3a3ab6"/>
<polygon points="571.2,743.3 585.8,739 574.6,725.9 560,730.7" fill="#3a33ac"/>
<polygon points="582.4,754.6 597.1,750.6 585.8,739 571.2,743.3" fill="#3a2ea2"/>
<polygon points="593.7,764.5 608.3,760.9 597.1,750.6 582.4,754.6" fill="#3a2ea2"/>
<polygon points="604.9,773 619.5,769.6 608.3,760.9 593.7,764.5" fill="#392898"/>
<polygon points="616.1,780.2 630.8,777 619.5,769.6 604.9,773" fill="#392898"/>
<polygon points="627.4,786.1 642,783 630.8,777 616.1,780.2" fill="#392898"/>
<polygon points="638.6,790.7 653.3,787.7 642,783 627.4,786.1" fill="#392898"/>
<polygon points="649.8,794.1 664.5,791 653.3,787.7 638.6,790.7" fill="#392898"/>
<polygon points="661.1,796.2 675.7,793 664.5,791 649.8,794.1" fill="#392898"/>
<polygon points="672.3,797 687,793.6 675.7,793 661.1,796.2" fill="#392898"/>
<polygon points="683.5,796.5 698.2,792.9 687,793.6 672.3,797" fill="#3a2ea2"/>
<polygon points="694.8,794.6 709.4,790.6 698.2,792.9 683.5,796.5" fill="#3a2ea2"/>
<polygon points="706,791.3 720.7,787 709.4,790.6 694.8,794.6" fill="#3a33ac"/>
<polygon points="717.3,786.7 731.9,781.9 720.7,787 706,791.3" fill="#3a3ab6"/>
<polygon points="728.5,780.7 743.1,775.4 731.9,781.9 717.3,786.7" fill="#3740c1"/>
<polygon points="739.7,773.4 754.4,767.4 743.1,775.4 728.5,780.7" fill="#3148cb"/>
<polygon points="751,764.7 765.6,757.9 754.4,767.4 739.7,773.4" fill="#2550d6"/>
<polygon points="762.2,754.6 776.9,747 765.6,757.9 751,764.7" fill="#0363e1"/>
<polygon points="773.4,743.1 788.1,734.6 776.9,747 762.2,754.6" fill="#0268e1"/>
<polygon points="784.7,730.2 799.3,720.8 788.1,734.6 773.4,743.1" fill="#0871de"/>
<polygon points="795.9,715.9 810.6,705.5 799.3,720.8 784.7,730.2" fill="#1079da"/>
<polygon points="807.1,700.3 821.8,688.7 810.6,705.5 795.9,715.9" fill="#1481d6"/>
<polygon points="818.4,683.2 833,670.4 821.8,688.7 807.1,700.3" fill="#1389d3"/>
<polygon points="829.6,664.7 844.3,650.6 833,670.4 818.4,683.2" fill="#0c93d2"/>
<polygon points="840.8,644.9 855.5,629.3 844.3,650.6 829.6,664.7" fill="#06a0cd"/>
<polygon points="852.1,623.6 866.7,606.6 855.5,629.3 840.8,644.9" fill="#06a7c6"/>
<polygon points="863.3,600.9 878,582.3 866.7,606.6 852.1,623.6" fill="#0faeb9"/>
<polygon points="410.5,488.6 425.1,471.6 413.9,440.9 399.3,459.4" fill="#06a4ca"/>
<polygon points="421.8,516.4 436.4,500.9 425.1,471.6 410.5,488.6" fill="#0998d1"/>
<polygon points="433,542.9 447.6,528.7 436.4,500.9 421.8,516.4" fill="#108ed2"/>
<polygon points="444.2,568 458.9,555.2 447.6,528.7 433,542.9" fill="#1485d4"/>
<polygon points="455.5,591.9 470.1,580.3 458.9,555.2 444.2,568" fill="#127dd8"/>
<polygon points="466.7,614.4 481.3,603.9 470.1,580.3 455.5,591.9" fill="#0d75dc"/>
<polygon points="477.9,635.6 492.6,626.2 481.3,603.9 466.7,614.4" fill="#046de0"/>
<polygon points="489.2,655.5 503.8,647.1 492.6,626.2 477.9,635.6" fill="#0268e1"/>
<polygon points="500.4,674.1 515,666.6 503.8,647.1 489.2,655.5" fill="#135ade"/>
<polygon points="511.6,691.4 526.3,684.7 515,666.6 500.4,674.1" fill="#2550d6"/>
<polygon points="522.9,707.4 537.5,701.4 526.3,684.7 511.6,691.4" fill="#3148cb"/>
<polygon points="534.1,722.1 548.7,716.7 537.5,701.4 522.9,707.4" fill="#3740c1"/>
<polygon points="545.3,735.5 560,730.7 548.7,716.7 534.1,722.1" fill="#3a3ab6"/>
<polygon points="556.6,747.7 571.2,743.3 560,730.7 545.3,735.5" fill="#3a33ac"/>
<polygon points="567.8,758.5 582.4,754.6 571.2,743.3 556.6,747.7" fill="#3a2ea2"/>
<polygon points="579,768.1 593.7,764.5 582.4,754.6 567.8,758.5" fill="#392898"/>
<polygon points="590.3,776.3 604.9,773 593.7,764.5 579,768.1" fill="#392898"/>
<polygon points="601.5,783.4 616.1,780.2 604.9,773 590.3,776.3" fill="#392898"/>
<polygon points="612.7,789.2 627.4,786.1 616.1,780.2 601.5,783.4" fill="#392898"/>
<polygon points="624,793.8 638.6,790.7 627.4,786.1 612.7,789.2" fill="#392898"/>
<polygon points="635.2,797.2 649.8,794.1 638.6,790.7 624,793.8" fill="#392898"/>
<polygon points="646.4,799.4 661.1,796.2 649.8,794.1 635.2,797.2" fill="#392898"/>
<polygon points="657.7,800.3 672.3,797 661.1,796.2 646.4,799.4" fill="#392898"/>
<polygon points="668.9,800.1 683.5,796.5 672.3,797 657.7,800.3" fill="#392898"/>
<polygon points="680.1,798.5 694.8,794.6 683.5,796.5 668.9,800.1" fill="#3a2ea2"/>
<polygon points="691.4,795.7 706,791.3 694.8,794.6 680.1,798.5" fill="#3a33ac"/>
<polygon points="702.6,791.5 717.3,786.7 706,791.3 691.4,795.7" fill="#3a3ab6"/>
<polygon points="713.8,786.1 728.5,780.7 717.3,786.7 702.6,791.5" fill="#3740c1"/>
<polygon points="725.1,779.4 739.7,773.4 728.5,780.7 713.8,786.1" fill="#3148cb"/>
<polygon points="736.3,771.4 751,764.7 739.7,773.4 725.1,779.4" fill="#2550d6"/>
<polygon points="747.5,762.1 762.2,754.6 751,764.7 736.3,771.4" fill="#135ade"/>
<polygon points="758.8,751.5 773.4,743.1 762.2,754.6 747.5,762.1" fill="#0268e1"/>
<polygon points="770,739.6 784.7,730.2 773.4,743.1 758.8,751.5" fill="#046de0"/>
<polygon points="781.2,726.4 795.9,715.9 784.7,730.2 770,739.6" fill="#0d75dc"/>
<polygon points="792.5,711.9 807.1,700.3 795.9,715.9 781.2,726.4" fill="#127dd8"/>
<polygon points="803.7,696 818.4,683.2 807.1,700.3 792.5,711.9" fill="#1485d4"/>
<polygon points="814.9,678.9 829.6,664.7 818.4,683.2 803.7,696" fill="#108ed2"/>
<polygon points="826.2,660.4 840.8,644.9 829.6,664.7 814.9,678.9" fill="#0998d1"/>
<polygon points="837.4,640.6 852.1,623.6 840.8,644.9 826.2,660.4" fill="#06a4ca"/>
<polygon points="848.6,619.4 863.3,600.9 852.1,623.6 837.4,640.6" fill="#07a9c2"/>
<polygon points="395.9,505.5 410.5,488.6 399.3,459.4 384.7,478" fill="#079ccf"/>
<polygon points="407.1,531.9 421.8,516.4 410.5,488.6 395.9,505.5" fill="#0c93d2"/>
<polygon points="418.4,557 433,542.9 421.8,516.4 407.1,531.9" fill="#1389d3"/>
<polygon points="429.6,580.9 444.2,568 433,542.9 418.4,557" fill="#1481d6"/>
<polygon points="440.8,603.5 455.5,591.9 444.2,568 429.6,580.9" fill="#1079da"/>
<polygon points="452.1,624.9 466.7,614.4 455.5,591.9 440.8,603.5" fill="#0871de"/>
<polygon points="463.3,645.1 477.9,635.6 466.7,614.4 452.1,624.9" fill="#046de0"/>
<polygon points="474.5,664 489.2,655.5 477.9,635.6 463.3,645.1" fill="#0363e1"/>
<polygon points="485.8,681.7 500.4,674.1 489.2,655.5 474.5,664" fill="#135ade"/>
<polygon points="497,698.2 511.6,691.4 500.4,674.1 485.8,681.7" fill="#3148cb"/>
<polygon points="508.2,713.5 522.9,707.4 511.6,691.4 497,698.2" fill="#3740c1"/>
<polygon points="519.5,727.5 534.1,722.1 522.9,707.4 508.2,713.5" fill="#3a3ab6"/>
<polygon points="530.7,740.4 545.3,735.5 534.1,722.1 519.5,727.5" fill="#3a33ac"/>
<polygon points="541.9,752 556.6,747.7 545.3,735.5 530.7,740.4" fill="#3a33ac"/>
<polygon points="553.2,762.4 567.8,758.5 556.6,747.7 541.9,752" fill="#3a2ea2"/>
<polygon points="564.4,771.7 579,768.1 567.8,758.5 553.2,762.4" fill="#392898"/>
<polygon points="575.6,779.7 590.3,776.3 579,768.1 564.4,771.7" fill="#392898"/>
<polygon points="586.9,786.6 601.5,783.4 590.3,776.3 575.6,779.7" fill="#392898"/>
<polygon points="598.1,792.3 612.7,789.2 601.5,783.4 586.9,786.6" fill="#392898"/>
<polygon points="609.3,796.8 624,793.8 612.7,789.2 598.1,792.3" fill="#392898"/>
<polygon points="620.5,800.3 635.2,797.2 624,793.8 609.3,796.8" fill="#392898"/>
<polygon points="631.8,802.6 646.4,799.4 635.2,797.2 620.5,800.3" fill="#392898"/>
<polygon points="643,803.7 657.7,800.3 646.4,799.4 631.8,802.6" fill="#392898"/>
<polygon points="654.2,803.7 668.9,800.1 657.7,800.3 643,803.7" fill="#392898"/>
<polygon points="665.5,802.4 680.1,798.5 668.9,800.1 654.2,803.7" fill="#3a2ea2"/>
<polygon points="676.7,800 691.4,795.7 680.1,798.5 665.5,802.4" fill="#3a33ac"/>
<polygon points="687.9,796.4 702.6,791.5 691.4,795.7 676.7,800" fill="#3a33ac"/>
<polygon points="699.2,791.5 713.8,786.1 702.6,791.5 687.9,796.4" fill="#3a3ab6"/>
<polygon points="710.4,785.5 725.1,779.4 713.8,786.1 699.2,791.5" fill="#3740c1"/>
<polygon points="721.6,778.2 736.3,771.4 725.1,779.4 710.4,785.5" fill="#3148cb"/>
<polygon points="732.9,769.7 747.5,762.1 736.3,771.4 721.6,778.2" fill="#135ade"/>
<polygon points="744.1,760 758.8,751.5 747.5,762.1 732.9,769.7" fill="#0363e1"/>
<polygon points="755.3,749.1 770,739.6 758.8,751.5 744.1,760" fill="#046de0"/>
<polygon points="766.5,736.9 781.2,726.4 770,739.6 755.3,749.1" fill="#0871de"/>
<polygon points="777.8,723.5 792.5,711.9 781.2,726.4 766.5,736.9" fill="#1079da"/>
<polygon points="789,708.9 803.7,696 792.5,711.9 777.8,723.5" fill="#1481d6"/>
<polygon points="800.2,693 814.9,678.9 803.7,696 789,708.9" fill="#1389d3"/>
<polygon points="811.5,675.9 826.2,660.4 814.9,678.9 800.2,693" fill="#0c93d2"/>
<polygon points="822.7,657.5 837.4,640.6 826.2,660.4 811.5,675.9" fill="#079ccf"/>
<polygon points="833.9,638 848.6,619.4 837.4,640.6 822.7,657.5" fill="#06a7c6"/>
<polygon points="381.3,522.5 395.9,505.5 384.7,478 370.1,496.5" fill="#0998d1"/>
<polygon points="392.5,547.4 407.1,531.9 395.9,505.5 381.3,522.5" fill="#108ed2"/>
<polygon points="403.8,571.1 418.4,557 407.1,531.9 392.5,547.4" fill="#1485d4"/>
<polygon points="415,593.7 429.6,580.9 418.4,557 403.8,571.1" fill="#127dd8"/>
<polygon points="426.2,615.1 440.8,603.5 429.6,580.9 415,593.7" fill="#0d75dc"/>
<polygon points="437.5,635.4 452.1,624.9 440.8,603.5 426.2,615.1" fill="#0871de"/>
<polygon points="448.7,654.5 463.3,645.1 452.1,624.9 437.5,635.4" fill="#0268e1"/>
<polygon points="459.9,672.5 474.5,664 463.3,645.1 448.7,654.5" fill="#0363e1"/>
<polygon points="471.1,689.3 485.8,681.7 474.5,664 459.9,672.5" fill="#2550d6"/>
<polygon points="482.4,705 497,698.2 485.8,681.7 471.1,689.3" fill="#3148cb"/>
<polygon points="493.6,719.5 508.2,713.5 497,698.2 482.4,705" fill="#3740c1"/>
<polygon points="504.8,732.9 519.5,727.5 508.2,713.5 493.6,719.5" fill="#3a3ab6"/>
<polygon points="516.1,745.2 530.7,740.4 519.5,727.5 504.8,732.9" fill="#3a33ac"/>
<polygon points="527.3,756.3 541.9,752 530.7,740.4 516.1,745.2" fill="#3a2ea2"/>
<polygon points="538.5,766.4 553.2,762.4 541.9,752 527.3,756.3" fill="#3a2ea2"/>
<polygon points="549.7,775.3 564.4,771.7 553.2,762.4 538.5,766.4" fill="#392898"/>
<polygon points="561,783 575.6,779.7 564.4,771.7 549.7,775.3" fill="#392898"/>
<polygon points="572.2,789.7 586.9,786.6 575.6,779.7 561,783" fill="#392898"/>
<polygon points="583.4,795.3 598.1,792.3 586.9,786.6 572.2,789.7" fill="#392898"/>
<polygon points="594.7,799.8 609.3,796.8 598.1,792.3 583.4,795.3" fill="#392898"/>
<polygon points="605.9,803.3 620.5,800.3 609.3,796.8 594.7,799.8" fill="#392898"/>
<polygon points="617.1,805.7 631.8,802.6 620.5,800.3 605.9,803.3" fill="#392898"/>
<polygon points="628.4,807 643,803.7 631.8,802.6 617.1,805.7" fill="#392898"/>
<polygon points="639.6,807.3 654.2,803.7 643,803.7 628.4,807" fill="#392898"/>
<polygon points="650.8,806.4 665.5,802.4 654.2,803.7 639.6,807.3" fill="#3a2ea2"/>
<polygon points="662,804.3 676.7,800 665.5,802.4 650.8,806.4" fill="#3a2ea2"/>
<polygon points="673.3,801.2 687.9,796.4 676.7,800 662,804.3" fill="#3a33ac"/>
<polygon points="684.5,796.9 699.2,791.5 687.9,796.4 673.3,801.2" fill="#3a3ab6"/>
<polygon points="695.7,791.5 710.4,785.5 699.2,791.5 684.5,796.9" fill="#3740c1"/>
<polygon points="707,785 721.6,778.2 710.4,785.5 695.7,791.5" fill="#3148cb"/>
<polygon points="718.2,777.3 732.9,769.7 721.6,778.2 707,785" fill="#2550d6"/>
<polygon points="729.4,768.5 744.1,760 732.9,769.7 718.2,777.3" fill="#0363e1"/>
<polygon points="740.6,758.5 755.3,749.1 744.1,760 729.4,768.5" fill="#0268e1"/>
<polygon points="751.9,747.4 766.5,736.9 755.3,749.1 740.6,758.5" fill="#0871de"/>
<polygon points="763.1,735.1 777.8,723.5 766.5,736.9 751.9,747.4" fill="#0d75dc"/>
<polygon points="774.3,721.7 789,708.9 777.8,723.5 763.1,735.1" fill="#127dd8"/>
<polygon points="785.6,707.1 800.2,693 789,708.9 774.3,721.7" fill="#1485d4"/>
<polygon points="796.8,691.4 811.5,675.9 800.2,693 785.6,707.1" fill="#108ed2"/>
<polygon points="808,674.5 822.7,657.5 811.5,675.9 796.8,691.4" fill="#0998d1"/>
<polygon points="819.3,656.5 833.9,638 822.7,657.5 808,674.5" fill="#06a0cd"/>
<polygon points="366.7,539.5 381.3,522.5 370.1,496.5 355.5,515" fill="#0c93d2"/>
<polygon points="377.9,562.9 392.5,547.4 381.3,522.5 366.7,539.5" fill="#1389d3"/>
<polygon points="389.1,585.3 403.8,571.1 392.5,547.4 377.9,562.9" fill="#1481d6"/>
<polygon points="400.4,606.5 415,593.7 403.8,571.1 389.1,585.3" fill="#1079da"/>
<polygon points="411.6,626.7 426.2,615.1 415,593.7 400.4,606.5" fill="#0871de"/>
<polygon points="422.8,645.9 437.5,635.4 426.2,615.1 411.6,626.7" fill="#046de0"/>
<polygon points="434.1,663.9 448.7,654.5 437.5,635.4 422.8,645.9" fill="#0363e1"/>
<polygon points="445.3,680.9 459.9,672.5 448.7,654.5 434.1,663.9" fill="#135ade"/>
<polygon points="456.5,696.9 471.1,689.3 459.9,672.5 445.3,680.9" fill="#2550d6"/>
<polygon points="467.7,711.8 482.4,705 471.1,689.3 456.5,696.9" fill="#3148cb"/>
<polygon points="479,725.6 493.6,719.5 482.4,705 467.7,711.8" fill="#3740c1"/>
<polygon points="490.2,738.3 504.8,732.9 493.6,719.5 479,725.6" fill="#3a3ab6"/>
<polygon points="501.4,750 516.1,745.2 504.8,732.9 490.2,738.3" fill="#3a33ac"/>
<polygon points="512.7,760.7 527.3,756.3 516.1,745.2 501.4,750" fill="#3a2ea2"/>
<polygon points="523.9,770.3 538.5,766.4 527.3,756.3 512.7,760.7" fill="#3a2ea2"/>
<polygon points="535.1,778.9 549.7,775.3 538.5,766.4 523.9,770.3" fill="#392898"/>
<polygon points="546.3,786.4 561,783 549.7,775.3 535.1,778.9" fill="#392898"/>
<polygon points="557.6,792.9 572.2,789.7 561,783 546.3,786.4" fill="#392898"/>
<polygon points="568.8,798.4 583.4,795.3 572.2,789.7 557.6,792.9" fill="#392898"/>
<polygon points="580,802.9 594.7,799.8 583.4,795.3 568.8,798.4" fill="#392898"/>
<polygon points="591.2,806.4 605.9,803.3 594.7,799.8 580,802.9" fill="#392898"/>
<polygon points="602.5,808.9 617.1,805.7 605.9,803.3 591.2,806.4" fill="#392898"/>
<polygon points="613.7,810.4 628.4,807 617.1,805.7 602.5,808.9" fill="#392898"/>
<polygon points="624.9,810.9 639.6,807.3 628.4,807 613.7,810.4" fill="#392898"/>
<polygon points="636.2,810.3 650.8,806.4 639.6,807.3 624.9,810.9" fill="#3a2ea2"/>
<polygon points="647.4,808.7 662,804.3 650.8,806.4 636.2,810.3" fill="#3a2ea2"/>
<polygon points="658.6,806 673.3,801.2 662,804.3 647.4,808.7" fill="#3a33ac"/>
<polygon points="669.8,802.3 684.5,796.9 673.3,801.2 658.6,806" fill="#3a3ab6"/>
<polygon points="681.1,797.6 695.7,791.5 684.5,796.9 669.8,802.3" fill="#3740c1"/>
<polygon points="692.3,791.8 707,785 695.7,791.5 681.1,797.6" fill="#3148cb"/>
<polygon points="703.5,784.9 718.2,777.3 707,785 692.3,791.8" fill="#2550d6"/>
<polygon points="714.8,776.9 729.4,768.5 718.2,777.3 703.5,784.9" fill="#135ade"/>
<polygon points="726,767.9 740.6,758.5 729.4,768.5 714.8,776.9" fill="#0363e1"/>
<polygon points="737.2,757.9 751.9,747.4 740.6,758.5 726,767.9" fill="#046de0"/>
<polygon points="748.4,746.7 763.1,735.1 751.9,747.4 737.2,757.9" fill="#0871de"/>
<polygon points="759.7,734.5 774.3,721.7 763.1,735.1 748.4,746.7" fill="#1079da"/>
<polygon points="770.9,721.3 785.6,707.1 774.3,721.7 759.7,734.5" fill="#1481d6"/>
<polygon points="782.1,706.9 796.8,691.4 785.6,707.1 770.9,721.3" fill="#1389d3"/>
<polygon points="793.3,691.5 808,674.5 796.8,691.4 782.1,706.9" fill="#0c93d2"/>
<polygon points="804.6,675 819.3,656.5 808,674.5 793.3,691.5" fill="#079ccf"/>
<polygon points="352.1,556.4 366.7,539.5 355.5,515 340.9,533.5" fill="#1389d3"/>
<polygon points="363.3,578.4 377.9,562.9 366.7,539.5 352.1,556.4" fill="#1481d6"/>
<polygon points="374.5,599.4 389.1,585.3 377.9,562.9 363.3,578.4" fill="#127dd8"/>
<polygon points="385.8,619.4 400.4,606.5 389.1,585.3 374.5,599.4" fill="#0d75dc"/>
<polygon points="397,638.4 411.6,626.7 400.4,606.5 385.8,619.4" fill="#046de0"/>
<polygon points="408.2,656.4 422.8,645.9 411.6,626.7 397,638.4" fill="#0268e1"/>
<polygon points="419.4,673.4 434.1,663.9 422.8,645.9 408.2,656.4" fill="#0363e1"/>
<polygon points="430.7,689.4 445.3,680.9 434.1,663.9 419.4,673.4" fill="#2550d6"/>
<polygon points="441.9,704.5 456.5,696.9 445.3,680.9 430.7,689.4" fill="#3148cb"/>
<polygon points="453.1,718.5 467.7,711.8 456.5,696.9 441.9,704.5" fill="#3740c1"/>
<polygon points="464.3,731.6 479,725.6 467.7,711.8 453.1,718.5" fill="#3a3ab6"/>
<polygon points="475.6,743.7 490.2,738.3 479,725.6 464.3,731.6" fill="#3a3ab6"/>
<polygon points="486.8,754.9 501.4,750 490.2,738.3 475.6,743.7" fill="#3a33ac"/>
<polygon points="498,765 512.7,760.7 501.4,750 486.8,754.9" fill="#3a2ea2"/>
<polygon points="509.2,774.2 523.9,770.3 512.7,760.7 498,765" fill="#3a2ea2"/>
<polygon points="520.5,782.5 535.1,778.9 523.9,770.3 509.2,774.2" fill="#392898"/>
<polygon points="531.7,789.8 546.3,786.4 535.1,778.9 520.5,782.5" fill="#392898"/>
<polygon points="542.9,796.1 557.6,792.9 546.3,786.4 531.7,789.8" fill="#392898"/>
<polygon points="554.1,801.5 568.8,798.4 557.6,792.9 542.9,796.1" fill="#392898"/>
<polygon points="565.4,805.9 580,802.9 568.8,798.4 554.1,801.5" fill="#392898"/>
<polygon points="576.6,809.5 591.2,806.4 580,802.9 565.4,805.9" fill="#392898"/>
<polygon points="587.8,812.1 602.5,808.9 591.2,806.4 576.6,809.5" fill="#392898"/>
<polygon points="599,813.8 613.7,810.4 602.5,808.9 587.8,812.1" fill="#392898"/>
<polygon points="610.3,814.5 624.9,810.9 613.7,810.4 599,813.8" fill="#392898"/>
<polygon points="621.5,814.2 636.2,810.3 624.9,810.9 610.3,814.5" fill="#3a2ea2"/>
<polygon points="632.7,813 647.4,808.7 636.2,810.3 621.5,814.2" fill="#3a2ea2"/>
<polygon points="644,810.9 658.6,806 647.4,808.7 632.7,813" fill="#3a33ac"/>
<polygon points="655.2,807.7 669.8,802.3 658.6,806 644,810.9" fill="#3a3ab6"/>
<polygon points="666.4,803.6 681.1,797.6 669.8,802.3 655.2,807.7" fill="#3a3ab6"/>
<polygon points="677.6,798.5 692.3,791.8 681.1,797.6 666.4,803.6" fill="#3740c1"/>
<polygon points="688.9,792.5 703.5,784.9 692.3,791.8 677.6,798.5" fill="#3148cb"/>
<polygon points="700.1,785.4 714.8,776.9 703.5,784.9 688.9,792.5" fill="#2550d6"/>
<polygon points="711.3,777.4 726,767.9 714.8,776.9 700.1,785.4" fill="#0363e1"/>
<polygon points="722.5,768.4 737.2,757.9 726,767.9 711.3,777.4" fill="#0268e1"/>
<polygon points="733.8,758.4 748.4,746.7 737.2,757.9 722.5,768.4" fill="#046de0"/>
<polygon points="745,747.4 759.7,734.5 748.4,746.7 733.8,758.4" fill="#0d75dc"/>
<polygon points="756.2,735.4 770.9,721.3 759.7,734.5 745,747.4" fill="#127dd8"/>
<polygon points="767.4,722.4 782.1,706.9 770.9,721.3 756.2,735.4" fill="#1481d6"/>
<polygon points="778.7,708.4 793.3,691.5 782.1,706.9 767.4,722.4" fill="#1389d3"/>
<polygon points="789.9,693.5 804.6,675 793.3,691.5 778.7,708.4" fill="#0c93d2"/>
<polygon points="337.5,573.4 352.1,556.4 340.9,533.5 326.2,552" fill="#1485d4"/>
<polygon points="348.7,593.9 363.3,578.4 352.1,556.4 337.5,573.4" fill="#127dd8"/>
<polygon points="359.9,613.5 374.5,599.4 363.3,578.4 348.7,593.9" fill="#0d75dc"/>
<polygon points="371.1,632.2 385.8,619.4 374.5,599.4 359.9,613.5" fill="#0871de"/>
<polygon points="382.4,650 397,638.4 385.8,619.4 371.1,632.2" fill="#046de0"/>
<polygon points="393.6,666.9 408.2,656.4 397,638.4 382.4,650" fill="#0363e1"/>
<polygon points="404.8,682.8 419.4,673.4 408.2,656.4 393.6,666.9" fill="#135ade"/>
<polygon points="416,697.9 430.7,689.4 419.4,673.4 404.8,682.8" fill="#2550d6"/>
<polygon points="427.3,712.1 441.9,704.5 430.7,689.4 416,697.9" fill="#3148cb"/>
<polygon points="438.5,725.3 453.1,718.5 441.9,704.5 427.3,712.1" fill="#3740c1"/>
<polygon points="449.7,737.7 464.3,731.6 453.1,718.5 438.5,725.3" fill="#3a3ab6"/>
<polygon points="460.9,749.2 475.6,743.7 464.3,731.6 449.7,737.7" fill="#3a33ac"/>
<polygon points="472.2,759.7 486.8,754.9 475.6,743.7 460.9,749.2" fill="#3a33ac"/>
<polygon points="483.4,769.4 498,765 486.8,754.9 472.2,759.7" fill="#3a2ea2"/>
<polygon points="494.6,778.2 509.2,774.2 498,765 483.4,769.4" fill="#3a2ea2"/>
<polygon points="505.8,786.1 520.5,782.5 509.2,774.2 494.6,778.2" fill="#392898"/>
<polygon points="517,793.1 531.7,789.8 520.5,782.5 505.8,786.1" fill="#392898"/>
<polygon points="528.3,799.3 542.9,796.1 531.7,789.8 517,793.1" fill="#392898"/>
<polygon points="539.5,804.5 554.1,801.5 542.9,796.1 528.3,799.3" fill="#392898"/>
<polygon points="550.7,809 565.4,805.9 554.1,801.5 539.5,804.5" fill="#392898"/>
<polygon points="561.9,812.5 576.6,809.5 565.4,805.9 550.7,809" fill="#392898"/>
<polygon points="573.2,815.3 587.8,812.1 576.6,809.5 561.9,812.5" fill="#392898"/>
<polygon points="584.4,817.1 599,813.8 587.8,812.1 573.2,815.3" fill="#392898"/>
<polygon points="595.6,818.1 610.3,814.5 599,813.8 584.4,817.1" fill="#392898"/>
<polygon points="606.8,818.2 621.5,814.2 610.3,814.5 595.6,818.1" fill="#3a2ea2"/>
<polygon points="618.1,817.4 632.7,813 621.5,814.2 606.8,818.2" fill="#3a2ea2"/>
<polygon points="629.3,815.7 644,810.9 632.7,813 618.1,817.4" fill="#3a33ac"/>
<polygon points="640.5,813.2 655.2,807.7 644,810.9 629.3,815.7" fill="#3a33ac"/>
<polygon points="651.7,809.7 666.4,803.6 655.2,807.7 640.5,813.2" fill="#3a3ab6"/>
<polygon points="663,805.3 677.6,798.5 666.4,803.6 651.7,809.7" fill="#3740c1"/>
<polygon points="674.2,800.1 688.9,792.5 677.6,798.5 663,805.3" fill="#3148cb"/>
<polygon points="685.4,793.9 700.1,785.4 688.9,792.5 674.2,800.1" fill="#2550d6"/>
<polygon points="696.6,786.8 711.3,777.4 700.1,785.4 685.4,793.9" fill="#135ade"/>
<polygon points="707.9,778.9 722.5,768.4 711.3,777.4 696.6,786.8" fill="#0363e1"/>
<polygon points="719.1,770 733.8,758.4 722.5,768.4 707.9,778.9" fill="#046de0"/>
<polygon points="730.3,760.2 745,747.4 733.8,758.4 719.1,770" fill="#0871de"/>
<polygon points="741.5,749.5 756.2,735.4 745,747.4 730.3,760.2" fill="#0d75dc"/>
<polygon points="752.8,737.9 767.4,722.4 756.2,735.4 741.5,749.5" fill="#127dd8"/>
<polygon points="764,725.4 778.7,708.4 767.4,722.4 752.8,737.9" fill="#1485d4"/>
<polygon points="775.2,712 789.9,693.5 778.7,708.4 764,725.4" fill="#108ed2"/>
<polygon points="322.8,590.3 337.5,573.4 326.2,552 311.6,570.4" fill="#127dd8"/>
<polygon points="334.1,609.4 348.7,593.9 337.5,573.4 322.8,590.3" fill="#1079da"/>
<polygon points="345.3,627.6 359.9,613.5 348.7,593.9 334.1,609.4" fill="#0871de"/>
<polygon points="356.5,645 371.1,632.2 359.9,613.5 345.3,627.6" fill="#046de0"/>
<polygon points="367.7,661.6 382.4,650 371.1,632.2 356.5,645" fill="#0268e1"/>
<polygon points="379,677.3 393.6,666.9 382.4,650 367.7,661.6" fill="#0363e1"/>
<polygon points="390.2,692.3 404.8,682.8 393.6,666.9 379,677.3" fill="#2550d6"/>
<polygon points="401.4,706.4 416,697.9 404.8,682.8 390.2,692.3" fill="#3148cb"/>
<polygon points="412.6,719.7 427.3,712.1 416,697.9 401.4,706.4" fill="#3740c1"/>
<polygon points="423.9,732.1 438.5,725.3 427.3,712.1 412.6,719.7" fill="#3740c1"/>
<polygon points="435.1,743.8 449.7,737.7 438.5,725.3 423.9,732.1" fill="#3a3ab6"/>
<polygon points="446.3,754.6 460.9,749.2 449.7,737.7 435.1,743.8" fill="#3a33ac"/>
<polygon points="457.5,764.6 472.2,759.7 460.9,749.2 446.3,754.6" fill="#3a2ea2"/>
<polygon points="468.7,773.8 483.4,769.4 472.2,759.7 457.5,764.6" fill="#3a2ea2"/>
<polygon points="480,782.1 494.6,778.2 483.4,769.4 468.7,773.8" fill="#3a2ea2"/>
<polygon points="491.2,789.7 505.8,786.1 494.6,778.2 480,782.1" fill="#392898"/>
<polygon points="502.4,796.5 517,793.1 505.8,786.1 491.2,789.7" fill="#392898"/>
<polygon points="513.6,802.4 528.3,799.3 517,793.1 502.4,796.5" fill="#392898"/>
<polygon points="524.9,807.6 539.5,804.5 528.3,799.3 513.6,802.4" fill="#392898"/>
<polygon points="536.1,812 550.7,809 539.5,804.5 524.9,807.6" fill="#392898"/>
<polygon points="547.3,815.6 561.9,812.5 550.7,809 536.1,812" fill="#392898"/>
<polygon points="558.5,818.4 573.2,815.3 561.9,812.5 547.3,815.6" fill="#392898"/>
<polygon points="569.7,820.5 584.4,817.1 573.2,815.3 558.5,818.4" fill="#392898"/>
<polygon points="581,821.7 595.6,818.1 584.4,817.1 569.7,820.5" fill="#392898"/>
<polygon points="592.2,822.1 606.8,818.2 595.6,818.1 581,821.7" fill="#3a2ea2"/>
<polygon points="603.4,821.8 618.1,817.4 606.8,818.2 592.2,822.1" fill="#3a2ea2"/>
<polygon points="614.6,820.6 629.3,815.7 618.1,817.4 603.4,821.8" fill="#3a2ea2"/>
<polygon points="625.9,818.6 640.5,813.2 629.3,815.7 614.6,820.6" fill="#3a33ac"/>
<polygon points="637.1,815.8 651.7,809.7 640.5,813.2 625.9,818.6" fill="#3a3ab6"/>
<polygon points="648.3,812.1 663,805.3 651.7,809.7 637.1,815.8" fill="#3740c1"/>
<polygon points="659.5,807.7 674.2,800.1 663,805.3 648.3,812.1" fill="#3740c1"/>
<polygon points="670.7,802.4 685.4,793.9 674.2,800.1 659.5,807.7" fill="#3148cb"/>
<polygon points="682,796.3 696.6,786.8 685.4,793.9 670.7,802.4" fill="#2550d6"/>
<polygon points="693.2,789.3 707.9,778.9 696.6,786.8 682,796.3" fill="#0363e1"/>
<polygon points="704.4,781.6 719.1,770 707.9,778.9 693.2,789.3" fill="#0268e1"/>
<polygon points="715.6,773 730.3,760.2 719.1,770 704.4,781.6" fill="#046de0"/>
<polygon points="726.9,763.6 741.5,749.5 730.3,760.2 715.6,773" fill="#0871de"/>
<polygon points="738.1,753.4 752.8,737.9 741.5,749.5 726.9,763.6" fill="#1079da"/>
<polygon points="749.3,742.3 764,725.4 752.8,737.9 738.1,753.4" fill="#127dd8"/>
<polygon points="760.5,730.4 775.2,712 764,725.4 749.3,742.3" fill="#1485d4"/>
<polygon points="308.2,607.2 322.8,590.3 311.6,570.4 297,588.9" fill="#1079da"/>
<polygon points="319.5,624.9 334.1,609.4 322.8,590.3 308.2,607.2" fill="#0d75dc"/>
<polygon points="330.7,641.7 345.3,627.6 334.1,609.4 319.5,624.9" fill="#046de0"/>
<polygon points="341.9,657.8 356.5,645 345.3,627.6 330.7,641.7" fill="#0268e1"/>
<polygon points="353.1,673.2 367.7,661.6 356.5,645 341.9,657.8" fill="#0363e1"/>
<polygon points="364.3,687.8 379,677.3 367.7,661.6 353.1,673.2" fill="#135ade"/>
<polygon points="375.6,701.7 390.2,692.3 379,677.3 364.3,687.8" fill="#2550d6"/>
<polygon points="386.8,714.9 401.4,706.4 390.2,692.3 375.6,701.7" fill="#3148cb"/>
<polygon points="398,727.3 412.6,719.7 401.4,706.4 386.8,714.9" fill="#3740c1"/>
<polygon points="409.2,738.9 423.9,732.1 412.6,719.7 398,727.3" fill="#3a3ab6"/>
<polygon points="420.4,749.8 435.1,743.8 423.9,732.1 409.2,738.9" fill="#3a33ac"/>
<polygon points="431.7,760 446.3,754.6 435.1,743.8 420.4,749.8" fill="#3a33ac"/>
<polygon points="442.9,769.4 457.5,764.6 446.3,754.6 431.7,760" fill="#3a2ea2"/>
<polygon points="454.1,778.1 468.7,773.8 457.5,764.6 442.9,769.4" fill="#3a2ea2"/>
<polygon points="465.3,786.1 480,782.1 468.7,773.8 454.1,778.1" fill="#392898"/>
<polygon points="476.5,793.3 491.2,789.7 480,782.1 465.3,786.1" fill="#392898"/>
<polygon points="487.8,799.8 502.4,796.5 491.2,789.7 476.5,793.3" fill="#392898"/>
<polygon points="499,805.6 513.6,802.4 502.4,796.5 487.8,799.8" fill="#392898"/>
<polygon points="510.2,810.7 524.9,807.6 513.6,802.4 499,805.6" fill="#392898"/>
<polygon points="521.4,815 536.1,812 524.9,807.6 510.2,810.7" fill="#392898"/>
<polygon points="532.6,818.7 547.3,815.6 536.1,812 521.4,815" fill="#392898"/>
<polygon points="543.9,821.6 558.5,818.4 547.3,815.6 532.6,818.7" fill="#392898"/>
<polygon points="555.1,823.8 569.7,820.5 558.5,818.4 543.9,821.6" fill="#392898"/>
<polygon points="566.3,825.3 581,821.7 569.7,820.5 555.1,823.8" fill="#392898"/>
<polygon points="577.5,826.1 592.2,822.1 581,821.7 566.3,825.3" fill="#392898"/>
<polygon points="588.8,826.1 603.4,821.8 592.2,822.1 577.5,826.1" fill="#3a2ea2"/>
<polygon points="600,825.4 614.6,820.6 603.4,821.8 588.8,826.1" fill="#3a2ea2"/>
<polygon points="611.2,824 625.9,818.6 614.6,820.6 600,825.4" fill="#3a33ac"/>
<polygon points="622.4,821.8 637.1,815.8 625.9,818.6 611.2,824" fill="#3a33ac"/>
<polygon points="633.6,818.9 648.3,812.1 637.1,815.8 622.4,821.8" fill="#3a3ab6"/>
<polygon points="644.9,815.3 659.5,807.7 648.3,812.1 633.6,818.9" fill="#3740c1"/>
<polygon points="656.1,810.9 670.7,802.4 659.5,807.7 644.9,815.3" fill="#3148cb"/>
<polygon points="667.3,805.7 682,796.3 670.7,802.4 656.1,810.9" fill="#2550d6"/>
<polygon points="678.5,799.8 693.2,789.3 682,796.3 667.3,805.7" fill="#135ade"/>
<polygon points="689.7,793.2 704.4,781.6 693.2,789.3 678.5,799.8" fill="#0363e1"/>
<polygon points="701,785.8 715.6,773 704.4,781.6 689.7,793.2" fill="#0268e1"/>
<polygon points="712.2,777.7 726.9,763.6 715.6,773 701,785.8" fill="#046de0"/>
<polygon points="723.4,768.9 738.1,753.4 726.9,763.6 712.2,777.7" fill="#0d75dc"/>
<polygon points="734.6,759.2 749.3,742.3 738.1,753.4 723.4,768.9" fill="#1079da"/>
<polygon points="745.8,748.9 760.5,730.4 749.3,742.3 734.6,759.2" fill="#127dd8"/>
<polygon points="293.6,624.1 308.2,607.2 297,588.9 282.4,607.3" fill="#0d75dc"/>
<polygon points="304.8,640.3 319.5,624.9 308.2,607.2 293.6,624.1" fill="#046de0"/>
<polygon points="316.1,655.8 330.7,641.7 319.5,624.9 304.8,640.3" fill="#0268e1"/>
<polygon points="327.3,670.7 341.9,657.8 330.7,641.7 316.1,655.8" fill="#0363e1"/>
<polygon points="338.5,684.8 353.1,673.2 341.9,657.8 327.3,670.7" fill="#135ade"/>
<polygon points="349.7,698.3 364.3,687.8 353.1,673.2 338.5,684.8" fill="#2550d6"/>
<polygon points="360.9,711.2 375.6,701.7 364.3,687.8 349.7,698.3" fill="#3148cb"/>
<polygon points="372.2,723.3 386.8,714.9 375.6,701.7 360.9,711.2" fill="#3740c1"/>
<polygon points="383.4,734.9 398,727.3 386.8,714.9 372.2,723.3" fill="#3a3ab6"/>
<polygon points="394.6,745.7 409.2,738.9 398,727.3 383.4,734.9" fill="#3a3ab6"/>
<polygon points="405.8,755.9 420.4,749.8 409.2,738.9 394.6,745.7" fill="#3a33ac"/>
<polygon points="417,765.4 431.7,760 420.4,749.8 405.8,755.9" fill="#3a33ac"/>
<polygon points="428.2,774.3 442.9,769.4 431.7,760 417,765.4" fill="#3a2ea2"/>
<polygon points="439.5,782.5 454.1,778.1 442.9,769.4 428.2,774.3" fill="#3a2ea2"/>
<polygon points="450.7,790.1 465.3,786.1 454.1,778.1 439.5,782.5" fill="#392898"/>
<polygon points="461.9,797 476.5,793.3 465.3,786.1 450.7,790.1" fill="#392898"/>
<polygon points="473.1,803.2 487.8,799.8 476.5,793.3 461.9,797" fill="#392898"/>
<polygon points="484.3,808.8 499,805.6 487.8,799.8 473.1,803.2" fill="#392898"/>
<polygon points="495.6,813.8 510.2,810.7 499,805.6 484.3,808.8" fill="#392898"/>
<polygon points="506.8,818.1 521.4,815 510.2,810.7 495.6,813.8" fill="#392898"/>
<polygon points="518,821.8 532.6,818.7 521.4,815 506.8,818.1" fill="#392898"/>
<polygon points="529.2,824.8 543.9,821.6 532.6,818.7 518,821.8" fill="#392898"/>
<polygon points="540.4,827.2 555.1,823.8 543.9,821.6 529.2,824.8" fill="#392898"/>
<polygon points="551.7,829 566.3,825.3 555.1,823.8 540.4,827.2" fill="#392898"/>
<polygon points="562.9,830.1 577.5,826.1 566.3,825.3 551.7,829" fill="#392898"/>
<polygon points="574.1,830.5 588.8,826.1 577.5,826.1 562.9,830.1" fill="#3a2ea2"/>
<polygon points="585.3,830.3 600,825.4 588.8,826.1 574.1,830.5" fill="#3a2ea2"/>
<polygon points="596.5,829.4 611.2,824 600,825.4 585.3,830.3" fill="#3a33ac"/>
<polygon points="607.8,827.9 622.4,821.8 611.2,824 596.5,829.4" fill="#3a33ac"/>
<polygon points="619,825.7 633.6,818.9 622.4,821.8 607.8,827.9" fill="#3a3ab6"/>
<polygon points="630.2,822.9 644.9,815.3 633.6,818.9 619,825.7" fill="#3a3ab6"/>
<polygon points="641.4,819.3 656.1,810.9 644.9,815.3 630.2,822.9" fill="#3740c1"/>
<polygon points="652.6,815.2 667.3,805.7 656.1,810.9 641.4,819.3" fill="#3148cb"/>
<polygon points="663.8,810.3 678.5,799.8 667.3,805.7 652.6,815.2" fill="#2550d6"/>
<polygon points="675.1,804.8 689.7,793.2 678.5,799.8 663.8,810.3" fill="#135ade"/>
<polygon points="686.3,798.7 701,785.8 689.7,793.2 675.1,804.8" fill="#0363e1"/>
<polygon points="697.5,791.8 712.2,777.7 701,785.8 686.3,798.7" fill="#0268e1"/>
<polygon points="708.7,784.3 723.4,768.9 712.2,777.7 697.5,791.8" fill="#046de0"/>
<polygon points="719.9,776.1 734.6,759.2 723.4,768.9 708.7,784.3" fill="#0d75dc"/>
<polygon points="731.2,767.3 745.8,748.9 734.6,759.2 719.9,776.1" fill="#1079da"/>
<polygon points="279,641 293.6,624.1 282.4,607.3 267.8,625.7" fill="#046de0"/>
<polygon points="290.2,655.8 304.8,640.3 293.6,624.1 279,641" fill="#0268e1"/>
<polygon points="301.4,669.9 316.1,655.8 304.8,640.3 290.2,655.8" fill="#0363e1"/>
<polygon points="312.7,683.5 327.3,670.7 316.1,655.8 301.4,669.9" fill="#135ade"/>
<polygon points="323.9,696.4 338.5,684.8 327.3,670.7 312.7,683.5" fill="#2550d6"/>
<polygon points="335.1,708.8 349.7,698.3 338.5,684.8 323.9,696.4" fill="#3148cb"/>
<polygon points="346.3,720.6 360.9,711.2 349.7,698.3 335.1,708.8" fill="#3740c1"/>
<polygon points="357.5,731.8 372.2,723.3 360.9,711.2 346.3,720.6" fill="#3740c1"/>
<polygon points="368.7,742.5 383.4,734.9 372.2,723.3 357.5,731.8" fill="#3a3ab6"/>
<polygon points="380,752.5 394.6,745.7 383.4,734.9 368.7,742.5" fill="#3a33ac"/>
<polygon points="391.2,762 405.8,755.9 394.6,745.7 380,752.5" fill="#3a33ac"/>
<polygon points="402.4,770.9 417,765.4 405.8,755.9 391.2,762" fill="#3a2ea2"/>
<polygon points="413.6,779.2 428.2,774.3 417,765.4 402.4,770.9" fill="#3a2ea2"/>
<polygon points="424.8,786.9 439.5,782.5 428.2,774.3 413.6,779.2" fill="#3a2ea2"/>
<polygon points="436,794 450.7,790.1 439.5,782.5 424.8,786.9" fill="#392898"/>
<polygon points="447.3,800.6 461.9,797 450.7,790.1 436,794" fill="#392898"/>
<polygon points="458.5,806.6 473.1,803.2 461.9,797 447.3,800.6" fill="#392898"/>
<polygon points="469.7,812 484.3,808.8 473.1,803.2 458.5,806.6" fill="#392898"/>
<polygon points="480.9,816.8 495.6,813.8 484.3,808.8 469.7,812" fill="#392898"/>
<polygon points="492.1,821.1 506.8,818.1 495.6,813.8 480.9,816.8" fill="#392898"/>
<polygon points="503.3,824.8 518,821.8 506.8,818.1 492.1,821.1" fill="#392898"/>
<polygon points="514.6,828 529.2,824.8 518,821.8 503.3,824.8" fill="#392898"/>
<polygon points="525.8,830.6 540.4,827.2 529.2,824.8 514.6,828" fill="#392898"/>
<polygon points="537,832.6 551.7,829 540.4,827.2 525.8,830.6" fill="#392898"/>
<polygon points="548.2,834 562.9,830.1 551.7,829 537,832.6" fill="#392898"/>
<polygon points="559.4,834.9 574.1,830.5 562.9,830.1 548.2,834" fill="#3a2ea2"/>
<polygon points="570.7,835.2 585.3,830.3 574.1,830.5 559.4,834.9" fill="#3a2ea2"/>
<polygon points="581.9,834.9 596.5,829.4 585.3,830.3 570.7,835.2" fill="#3a2ea2"/>
<polygon points="593.1,834 607.8,827.9 596.5,829.4 581.9,834.9" fill="#3a33ac"/>
<polygon points="604.3,832.5 619,825.7 607.8,827.9 593.1,834" fill="#3a33ac"/>
<polygon points="615.5,830.5 630.2,822.9 619,825.7 604.3,832.5" fill="#3a3ab6"/>
<polygon points="626.7,827.8 641.4,819.3 630.2,822.9 615.5,830.5" fill="#3740c1"/>
<polygon points="638,824.6 652.6,815.2 641.4,819.3 626.7,827.8" fill="#3740c1"/>
<polygon points="649.2,820.8 663.8,810.3 652.6,815.2 638,824.6" fill="#3148cb"/>
<polygon points="660.4,816.4 675.1,804.8 663.8,810.3 649.2,820.8" fill="#2550d6"/>
<polygon points="671.6,811.5 686.3,798.7 675.1,804.8 660.4,816.4" fill="#135ade"/>
<polygon points="682.8,805.9 697.5,791.8 686.3,798.7 671.6,811.5" fill="#0363e1"/>
<polygon points="694,799.8 708.7,784.3 697.5,791.8 682.8,805.9" fill="#0268e1"/>
<polygon points="705.3,793 719.9,776.1 708.7,784.3 694,799.8" fill="#046de0"/>
<polygon points="716.5,785.7 731.2,767.3 719.9,776.1 705.3,793" fill="#0871de"/>
<polygon points="264.4,657.9 279,641 267.8,625.7 253.2,644.1" fill="#0268e1"/>
<polygon points="275.6,671.2 290.2,655.8 279,641 264.4,657.9" fill="#0363e1"/>
<polygon points="286.8,684 301.4,669.9 290.2,655.8 275.6,671.2" fill="#135ade"/>
<polygon points="298,696.2 312.7,683.5 301.4,669.9 286.8,684" fill="#2550d6"/>
<polygon points="309.3,708 323.9,696.4 312.7,683.5 298,696.2" fill="#3148cb"/>
<polygon points="320.5,719.3 335.1,708.8 323.9,696.4 309.3,708" fill="#3740c1"/>
<polygon points="331.7,730.1 346.3,720.6 335.1,708.8 320.5,719.3" fill="#3740c1"/>
<polygon points="342.9,740.3 357.5,731.8 346.3,720.6 331.7,730.1" fill="#3a3ab6"/>
<polygon points="354.1,750.1 368.7,742.5 357.5,731.8 342.9,740.3" fill="#3a3ab6"/>
<polygon points="365.3,759.3 380,752.5 368.7,742.5 354.1,750.1" fill="#3a33ac"/>
<polygon points="376.5,768.1 391.2,762 380,752.5 365.3,759.3" fill="#3a33ac"/>
<polygon points="387.8,776.3 402.4,770.9 391.2,762 376.5,768.1" fill="#3a2ea2"/>
<polygon points="399,784 413.6,779.2 402.4,770.9 387.8,776.3" fill="#3a2ea2"/>
<polygon points="410.2,791.3 424.8,786.9 413.6,779.2 399,784" fill="#392898"/>
<polygon points="421.4,798 436,794 424.8,786.9 410.2,791.3" fill="#392898"/>
<polygon points="432.6,804.2 447.3,800.6 436,794 421.4,798" fill="#392898"/>
<polygon points="443.8,809.9 458.5,806.6 447.3,800.6 432.6,804.2" fill="#392898"/>
<polygon points="455.1,815.2 469.7,812 458.5,806.6 443.8,809.9" fill="#392898"/>
<polygon points="466.3,819.9 480.9,816.8 469.7,812 455.1,815.2" fill="#392898"/>
<polygon points="477.5,824.1 492.1,821.1 480.9,816.8 466.3,819.9" fill="#392898"/>
<polygon points="488.7,827.9 503.3,824.8 492.1,821.1 477.5,824.1" fill="#392898"/>
<polygon points="499.9,831.2 514.6,828 503.3,824.8 488.7,827.9" fill="#392898"/>
<polygon points="511.1,833.9 525.8,830.6 514.6,828 499.9,831.2" fill="#392898"/>
<polygon points="522.3,836.2 537,832.6 525.8,830.6 511.1,833.9" fill="#392898"/>
<polygon points="533.6,838 548.2,834 537,832.6 522.3,836.2" fill="#392898"/>
<polygon points="544.8,839.3 559.4,834.9 548.2,834 533.6,838" fill="#392898"/>
<polygon points="556,840 570.7,835.2 559.4,834.9 544.8,839.3" fill="#3a2ea2"/>
<polygon points="567.2,840.3 581.9,834.9 570.7,835.2 556,840" fill="#3a2ea2"/>
<polygon points="578.4,840.1 593.1,834 581.9,834.9 567.2,840.3" fill="#3a33ac"/>
<polygon points="589.6,839.3 604.3,832.5 593.1,834 578.4,840.1" fill="#3a33ac"/>
<polygon points="600.9,838.1 615.5,830.5 604.3,832.5 589.6,839.3" fill="#3a3ab6"/>
<polygon points="612.1,836.3 626.7,827.8 615.5,830.5 600.9,838.1" fill="#3a3ab6"/>
<polygon points="623.3,834.1 638,824.6 626.7,827.8 612.1,836.3" fill="#3740c1"/>
<polygon points="634.5,831.3 649.2,820.8 638,824.6 623.3,834.1" fill="#3740c1"/>
<polygon points="645.7,828 660.4,816.4 649.2,820.8 634.5,831.3" fill="#3148cb"/>
<polygon points="656.9,824.2 671.6,811.5 660.4,816.4 645.7,828" fill="#2550d6"/>
<polygon points="668.1,820 682.8,805.9 671.6,811.5 656.9,824.2" fill="#135ade"/>
<polygon points="679.4,815.2 694,799.8 682.8,805.9 668.1,820" fill="#0363e1"/>
<polygon points="690.6,809.9 705.3,793 694,799.8 679.4,815.2" fill="#0268e1"/>
<polygon points="701.8,804.1 716.5,785.7 705.3,793 690.6,809.9" fill="#046de0"/>
<polygon points="249.8,674.7 264.4,657.9 253.2,644.1 238.6,662.4" fill="#135ade"/>
<polygon points="261,686.6 275.6,671.2 264.4,657.9 249.8,674.7" fill="#2550d6"/>
<polygon points="272.2,698 286.8,684 275.6,671.2 261,686.6" fill="#2550d6"/>
<polygon points="283.4,709 298,696.2 286.8,684 272.2,698" fill="#3148cb"/>
<polygon points="294.6,719.6 309.3,708 298,696.2 283.4,709" fill="#3740c1"/>
<polygon points="305.8,729.8 320.5,719.3 309.3,708 294.6,719.6" fill="#3740c1"/>
<polygon points="317.1,739.5 331.7,730.1 320.5,719.3 305.8,729.8" fill="#3a3ab6"/>
<polygon points="328.3,748.8 342.9,740.3 331.7,730.1 317.1,739.5" fill="#3a3ab6"/>
<polygon points="339.5,757.7 354.1,750.1 342.9,740.3 328.3,748.8" fill="#3a33ac"/>
<polygon points="350.7,766.1 365.3,759.3 354.1,750.1 339.5,757.7" fill="#3a33ac"/>
<polygon points="361.9,774.1 376.5,768.1 365.3,759.3 350.7,766.1" fill="#3a2ea2"/>
<polygon points="373.1,781.7 387.8,776.3 376.5,768.1 361.9,774.1" fill="#3a2ea2"/>
<polygon points="384.3,788.9 399,784 387.8,776.3 373.1,781.7" fill="#3a2ea2"/>
<polygon points="395.6,795.6 410.2,791.3 399,784 384.3,788.9" fill="#392898"/>
<polygon points="406.8,801.9 421.4,798 410.2,791.3 395.6,795.6" fill="#392898"/>
<polygon points="418,807.8 432.6,804.2 421.4,798 406.8,801.9" fill="#392898"/>
<polygon points="429.2,813.3 443.8,809.9 432.6,804.2 418,807.8" fill="#392898"/>
<polygon points="440.4,818.3 455.1,815.2 443.8,809.9 429.2,813.3" fill="#392898"/>
<polygon points="451.6,823 466.3,819.9 455.1,815.2 440.4,818.3" fill="#392898"/>
<polygon points="462.8,827.2 477.5,824.1 466.3,819.9 451.6,823" fill="#392898"/>
<polygon points="474.1,831 488.7,827.9 477.5,824.1 462.8,827.2" fill="#392898"/>
<polygon points="485.3,834.3 499.9,831.2 488.7,827.9 474.1,831" fill="#392898"/>
<polygon points="496.5,837.3 511.1,833.9 499.9,831.2 485.3,834.3" fill="#392898"/>
<polygon points="507.7,839.8 522.3,836.2 511.1,833.9 496.5,837.3" fill="#392898"/>
<polygon points="518.9,841.9 533.6,838 522.3,836.2 507.7,839.8" fill="#392898"/>
<polygon points="530.1,843.6 544.8,839.3 533.6,838 518.9,841.9" fill="#392898"/>
<polygon points="541.3,844.9 556,840 544.8,839.3 530.1,843.6" fill="#3a2ea2"/>
<polygon points="552.5,845.7 567.2,840.3 556,840 541.3,844.9" fill="#3a2ea2"/>
<polygon points="563.8,846.1 578.4,840.1 567.2,840.3 552.5,845.7" fill="#3a2ea2"/>
<polygon points="575,846.1 589.6,839.3 578.4,840.1 563.8,846.1" fill="#3a33ac"/>
<polygon points="586.2,845.7 600.9,838.1 589.6,839.3 575,846.1" fill="#3a33ac"/>
<polygon points="597.4,844.8 612.1,836.3 600.9,838.1 586.2,845.7" fill="#3a3ab6"/>
<polygon points="608.6,843.5 623.3,834.1 612.1,836.3 597.4,844.8" fill="#3a3ab6"/>
<polygon points="619.8,841.8 634.5,831.3 623.3,834.1 608.6,843.5" fill="#3740c1"/>
<polygon points="631,839.6 645.7,828 634.5,831.3 619.8,841.8" fill="#3740c1"/>
<polygon points="642.3,837 656.9,824.2 645.7,828 631,839.6" fill="#3148cb"/>
<polygon points="653.5,834 668.1,820 656.9,824.2 642.3,837" fill="#2550d6"/>
<polygon points="664.7,830.6 679.4,815.2 668.1,820 653.5,834" fill="#2550d6"/>
<polygon points="675.9,826.7 690.6,809.9 679.4,815.2 664.7,830.6" fill="#135ade"/>
<polygon points="687.1,822.4 701.8,804.1 690.6,809.9 675.9,826.7" fill="#0363e1"/>
<polygon points="235.2,691.5 249.8,674.7 238.6,662.4 224,680.6" fill="#2550d6"/>
<polygon points="246.4,701.9 261,686.6 249.8,674.7 235.2,691.5" fill="#3148cb"/>
<polygon points="257.6,712 272.2,698 261,686.6 246.4,701.9" fill="#3148cb"/>
<polygon points="268.8,721.8 283.4,709 272.2,698 257.6,712" fill="#3740c1"/>
<polygon points="280,731.2 294.6,719.6 283.4,709 268.8,721.8" fill="#3a3ab6"/>
<polygon points="291.2,740.2 305.8,729.8 294.6,719.6 280,731.2" fill="#3a3ab6"/>
<polygon points="302.4,748.9 317.1,739.5 305.8,729.8 291.2,740.2" fill="#3a33ac"/>
<polygon points="313.6,757.3 328.3,748.8 317.1,739.5 302.4,748.9" fill="#3a33ac"/>
<polygon points="324.9,765.3 339.5,757.7 328.3,748.8 313.6,757.3" fill="#3a33ac"/>
<polygon points="336.1,772.9 350.7,766.1 339.5,757.7 324.9,765.3" fill="#3a2ea2"/>
<polygon points="347.3,780.2 361.9,774.1 350.7,766.1 336.1,772.9" fill="#3a2ea2"/>
<polygon points="358.5,787.2 373.1,781.7 361.9,774.1 347.3,780.2" fill="#3a2ea2"/>
<polygon points="369.7,793.8 384.3,788.9 373.1,781.7 358.5,787.2" fill="#392898"/>
<polygon points="380.9,800 395.6,795.6 384.3,788.9 369.7,793.8" fill="#392898"/>
<polygon points="392.1,805.9 406.8,801.9 395.6,795.6 380.9,800" fill="#392898"/>
<polygon points="403.3,811.5 418,807.8 406.8,801.9 392.1,805.9" fill="#392898"/>
<polygon points="414.6,816.7 429.2,813.3 418,807.8 403.3,811.5" fill="#392898"/>
<polygon points="425.8,821.5 440.4,818.3 429.2,813.3 414.6,816.7" fill="#392898"/>
<polygon points="437,826 451.6,823 440.4,818.3 425.8,821.5" fill="#392898"/>
<polygon points="448.2,830.2 462.8,827.2 451.6,823 437,826" fill="#392898"/>
<polygon points="459.4,834 474.1,831 462.8,827.2 448.2,830.2" fill="#392898"/>
<polygon points="470.6,837.5 485.3,834.3 474.1,831 459.4,834" fill="#392898"/>
<polygon points="481.8,840.7 496.5,837.3 485.3,834.3 470.6,837.5" fill="#392898"/>
<polygon points="493,843.5 507.7,839.8 496.5,837.3 481.8,840.7" fill="#392898"/>
<polygon points="504.2,845.9 518.9,841.9 507.7,839.8 493,843.5" fill="#392898"/>
<polygon points="515.5,848 530.1,843.6 518.9,841.9 504.2,845.9" fill="#392898"/>
<polygon points="526.7,849.8 541.3,844.9 530.1,843.6 515.5,848" fill="#392898"/>
<polygon points="537.9,851.2 552.5,845.7 541.3,844.9 526.7,849.8" fill="#3a2ea2"/>
<polygon points="549.1,852.2 563.8,846.1 552.5,845.7 537.9,851.2" fill="#3a2ea2"/>
<polygon points="560.3,852.9 575,846.1 563.8,846.1 549.1,852.2" fill="#3a2ea2"/>
<polygon points="571.5,853.3 586.2,845.7 575,846.1 560.3,852.9" fill="#3a33ac"/>
<polygon points="582.7,853.3 597.4,844.8 586.2,845.7 571.5,853.3" fill="#3a33ac"/>
<polygon points="593.9,852.9 608.6,843.5 597.4,844.8 582.7,853.3" fill="#3a33ac"/>
<polygon points="605.2,852.2 619.8,841.8 608.6,843.5 593.9,852.9" fill="#3a3ab6"/>
<polygon points="616.4,851.2 631,839.6 619.8,841.8 605.2,852.2" fill="#3a3ab6"/>
<polygon points="627.6,849.8 642.3,837 631,839.6 616.4,851.2" fill="#3740c1"/>
<polygon points="638.8,848 653.5,834 642.3,837 627.6,849.8" fill="#3148cb"/>
<polygon points="650,845.9 664.7,830.6 653.5,834 638.8,848" fill="#3148cb"/>
<polygon points="661.2,843.5 675.9,826.7 664.7,830.6 650,845.9" fill="#2550d6"/>
<polygon points="672.4,840.6 687.1,822.4 675.9,826.7 661.2,843.5" fill="#135ade"/>
<polygon points="220.5,708.2 235.2,691.5 224,680.6 209.3,698.8" fill="#3148cb"/>
<polygon points="231.8,717.2 246.4,701.9 235.2,691.5 220.5,708.2" fill="#3740c1"/>
<polygon points="243,726 257.6,712 246.4,701.9 231.8,717.2" fill="#3740c1"/>
<polygon points="254.2,734.5 268.8,721.8 257.6,712 243,726" fill="#3a3ab6"/>
<polygon points="265.4,742.7 280,731.2 268.8,721.8 254.2,734.5" fill="#3a3ab6"/>
<polygon points="276.6,750.7 291.2,740.2 280,731.2 265.4,742.7" fill="#3a33ac"/>
<polygon points="287.8,758.3 302.4,748.9 291.2,740.2 276.6,750.7" fill="#3a33ac"/>
<polygon points="299,765.7 313.6,757.3 302.4,748.9 287.8,758.3" fill="#3a2ea2"/>
<polygon points="310.2,772.9 324.9,765.3 313.6,757.3 299,765.7" fill="#3a2ea2"/>
<polygon points="321.4,779.7 336.1,772.9 324.9,765.3 310.2,772.9" fill="#3a2ea2"/>
<polygon points="332.7,786.3 347.3,780.2 336.1,772.9 321.4,779.7" fill="#3a2ea2"/>
<polygon points="343.9,792.6 358.5,787.2 347.3,780.2 332.7,786.3" fill="#392898"/>
<polygon points="355.1,798.6 369.7,793.8 358.5,787.2 343.9,792.6" fill="#392898"/>
<polygon points="366.3,804.4 380.9,800 369.7,793.8 355.1,798.6" fill="#392898"/>
<polygon points="377.5,809.9 392.1,805.9 380.9,800 366.3,804.4" fill="#392898"/>
<polygon points="388.7,815.1 403.3,811.5 392.1,805.9 377.5,809.9" fill="#392898"/>
<polygon points="399.9,820 414.6,816.7 403.3,811.5 388.7,815.1" fill="#392898"/>
<polygon points="411.1,824.7 425.8,821.5 414.6,816.7 399.9,820" fill="#392898"/>
<polygon points="422.3,829.1 437,826 425.8,821.5 411.1,824.7" fill="#392898"/>
<polygon points="433.5,833.3 448.2,830.2 437,826 422.3,829.1" fill="#392898"/>
<polygon points="444.8,837.1 459.4,834 448.2,830.2 433.5,833.3" fill="#392898"/>
<polygon points="456,840.7 470.6,837.5 459.4,834 444.8,837.1" fill="#392898"/>
<polygon points="467.2,844 481.8,840.7 470.6,837.5 456,840.7" fill="#392898"/>
<polygon points="478.4,847.1 493,843.5 481.8,840.7 467.2,844" fill="#392898"/>
<polygon points="489.6,849.9 504.2,845.9 493,843.5 478.4,847.1" fill="#392898"/>
<polygon points="500.8,852.4 515.5,848 504.2,845.9 489.6,849.9" fill="#392898"/>
<polygon points="512,854.6 526.7,849.8 515.5,848 500.8,852.4" fill="#392898"/>
<polygon points="523.2,856.6 537.9,851.2 526.7,849.8 512,854.6" fill="#392898"/>
<polygon points="534.4,858.3 549.1,852.2 537.9,851.2 523.2,856.6" fill="#3a2ea2"/>
<polygon points="545.6,859.7 560.3,852.9 549.1,852.2 534.4,858.3" fill="#3a2ea2"/>
<polygon points="556.9,860.9 571.5,853.3 560.3,852.9 545.6,859.7" fill="#3a2ea2"/>
<polygon points="568.1,861.7 582.7,853.3 571.5,853.3 556.9,860.9" fill="#3a2ea2"/>
<polygon points="579.3,862.3 593.9,852.9 582.7,853.3 568.1,861.7" fill="#3a33ac"/>
<polygon points="590.5,862.7 605.2,852.2 593.9,852.9 579.3,862.3" fill="#3a33ac"/>
<polygon points="601.7,862.7 616.4,851.2 605.2,852.2 590.5,862.7" fill="#3a3ab6"/>
<polygon points="612.9,862.5 627.6,849.8 616.4,851.2 601.7,862.7" fill="#3a3ab6"/>
<polygon points="624.1,862 638.8,848 627.6,849.8 612.9,862.5" fill="#3740c1"/>
<polygon points="635.3,861.2 650,845.9 638.8,848 624.1,862" fill="#3740c1"/>
<polygon points="646.5,860.2 661.2,843.5 650,845.9 635.3,861.2" fill="#3148cb"/>
<polygon points="657.7,858.8 672.4,840.6 661.2,843.5 646.5,860.2" fill="#3148cb"/>
<polygon points="205.9,724.8 220.5,708.2 209.3,698.8 194.7,716.9" fill="#3a3ab6"/>
<polygon points="217.1,732.4 231.8,717.2 220.5,708.2 205.9,724.8" fill="#3a3ab6"/>
<polygon points="228.4,739.9 243,726 231.8,717.2 217.1,732.4" fill="#3a33ac"/>
<polygon points="239.6,747.1 254.2,734.5 243,726 228.4,739.9" fill="#3a33ac"/>
<polygon points="250.8,754.2 265.4,742.7 254.2,734.5 239.6,747.1" fill="#3a33ac"/>
<polygon points="262,761 276.6,750.7 265.4,742.7 250.8,754.2" fill="#3a2ea2"/>
<polygon points="273.2,767.7 287.8,758.3 276.6,750.7 262,761" fill="#3a2ea2"/>
<polygon points="284.4,774.2 299,765.7 287.8,758.3 273.2,767.7" fill="#3a2ea2"/>
<polygon points="295.6,780.4 310.2,772.9 299,765.7 284.4,774.2" fill="#3a2ea2"/>
<polygon points="306.8,786.5 321.4,779.7 310.2,772.9 295.6,780.4" fill="#392898"/>
<polygon points="318,792.4 332.7,786.3 321.4,779.7 306.8,786.5" fill="#392898"/>
<polygon points="329.2,798 343.9,792.6 332.7,786.3 318,792.4" fill="#392898"/>
<polygon points="340.4,803.5 355.1,798.6 343.9,792.6 329.2,798" fill="#392898"/>
<polygon points="351.6,808.8 366.3,804.4 355.1,798.6 340.4,803.5" fill="#392898"/>
<polygon points="362.9,813.8 377.5,809.9 366.3,804.4 351.6,808.8" fill="#392898"/>
<polygon points="374.1,818.7 388.7,815.1 377.5,809.9 362.9,813.8" fill="#392898"/>
<polygon points="385.3,823.4 399.9,820 388.7,815.1 374.1,818.7" fill="#392898"/>
<polygon points="396.5,827.9 411.1,824.7 399.9,820 385.3,823.4" fill="#392898"/>
<polygon points="407.7,832.2 422.3,829.1 411.1,824.7 396.5,827.9" fill="#392898"/>
<polygon points="418.9,836.3 433.5,833.3 422.3,829.1 407.7,832.2" fill="#392898"/>
<polygon points="430.1,840.2 444.8,837.1 433.5,833.3 418.9,836.3" fill="#392898"/>
<polygon points="441.3,843.9 456,840.7 444.8,837.1 430.1,840.2" fill="#392898"/>
<polygon points="452.5,847.4 467.2,844 456,840.7 441.3,843.9" fill="#392898"/>
<polygon points="463.7,850.7 478.4,847.1 467.2,844 452.5,847.4" fill="#392898"/>
<polygon points="474.9,853.8 489.6,849.9 478.4,847.1 463.7,850.7" fill="#392898"/>
<polygon points="486.1,856.8 500.8,852.4 489.6,849.9 474.9,853.8" fill="#392898"/>
<polygon points="497.4,859.5 512,854.6 500.8,852.4 486.1,856.8" fill="#392898"/>
<polygon points="508.6,862 523.2,856.6 512,854.6 497.4,859.5" fill="#392898"/>
<polygon points="519.8,864.4 534.4,858.3 523.2,856.6 508.6,862" fill="#392898"/>
<polygon points="531,866.5 545.6,859.7 534.4,858.3 519.8,864.4" fill="#392898"/>
<polygon points="542.2,868.4 556.9,860.9 545.6,859.7 531,866.5" fill="#3a2ea2"/>
<polygon points="553.4,870.2 568.1,861.7 556.9,860.9 542.2,868.4" fill="#3a2ea2"/>
<polygon points="564.6,871.7 579.3,862.3 568.1,861.7 553.4,870.2" fill="#3a2ea2"/>
<polygon points="575.8,873 590.5,862.7 579.3,862.3 564.6,871.7" fill="#3a2ea2"/>
<polygon points="587,874.2 601.7,862.7 590.5,862.7 575.8,873" fill="#3a33ac"/>
<polygon points="598.2,875.1 612.9,862.5 601.7,862.7 587,874.2" fill="#3a33ac"/>
<polygon points="609.4,875.9 624.1,862 612.9,862.5 598.2,875.1" fill="#3a33ac"/>
<polygon points="620.6,876.4 635.3,861.2 624.1,862 609.4,875.9" fill="#3a3ab6"/>
<polygon points="631.9,876.8 646.5,860.2 635.3,861.2 620.6,876.4" fill="#3a3ab6"/>
<polygon points="643.1,876.9 657.7,858.8 646.5,860.2 631.9,876.8" fill="#3740c1"/>
<polygon points="191.3,741.3 205.9,724.8 194.7,716.9 180.1,734.9" fill="#3a33ac"/>
<polygon points="202.5,747.5 217.1,732.4 205.9,724.8 191.3,741.3" fill="#3a33ac"/>
<polygon points="213.7,753.7 228.4,739.9 217.1,732.4 202.5,747.5" fill="#3a2ea2"/>
<polygon points="224.9,759.7 239.6,747.1 228.4,739.9 213.7,753.7" fill="#3a2ea2"/>
<polygon points="236.1,765.6 250.8,754.2 239.6,747.1 224.9,759.7" fill="#3a2ea2"/>
<polygon points="247.4,771.4 262,761 250.8,754.2 236.1,765.6" fill="#3a2ea2"/>
<polygon points="258.6,777 273.2,767.7 262,761 247.4,771.4" fill="#3a2ea2"/>
<polygon points="269.8,782.5 284.4,774.2 273.2,767.7 258.6,777" fill="#392898"/>
<polygon points="281,787.9 295.6,780.4 284.4,774.2 269.8,782.5" fill="#392898"/>
<polygon points="292.2,793.2 306.8,786.5 295.6,780.4 281,787.9" fill="#392898"/>
<polygon points="303.4,798.4 318,792.4 306.8,786.5 292.2,793.2" fill="#392898"/>
<polygon points="314.6,803.4 329.2,798 318,792.4 303.4,798.4" fill="#392898"/>
<polygon points="325.8,808.3 340.4,803.5 329.2,798 314.6,803.4" fill="#392898"/>
<polygon points="337,813.1 351.6,808.8 340.4,803.5 325.8,808.3" fill="#392898"/>
<polygon points="348.2,817.8 362.9,813.8 351.6,808.8 337,813.1" fill="#392898"/>
<polygon points="359.4,822.4 374.1,818.7 362.9,813.8 348.2,817.8" fill="#392898"/>
<polygon points="370.6,826.8 385.3,823.4 374.1,818.7 359.4,822.4" fill="#392898"/>
<polygon points="381.8,831.1 396.5,827.9 385.3,823.4 370.6,826.8" fill="#392898"/>
<polygon points="393,835.3 407.7,832.2 396.5,827.9 381.8,831.1" fill="#392898"/>
<polygon points="404.2,839.3 418.9,836.3 407.7,832.2 393,835.3" fill="#392898"/>
<polygon points="415.5,843.3 430.1,840.2 418.9,836.3 404.2,839.3" fill="#392898"/>
<polygon points="426.7,847.1 441.3,843.9 430.1,840.2 415.5,843.3" fill="#392898"/>
<polygon points="437.9,850.8 452.5,847.4 441.3,843.9 426.7,847.1" fill="#392898"/>
<polygon points="449.1,854.4 463.7,850.7 452.5,847.4 437.9,850.8" fill="#392898"/>
<polygon points="460.3,857.8 474.9,853.8 463.7,850.7 449.1,854.4" fill="#392898"/>
<polygon points="471.5,861.1 486.1,856.8 474.9,853.8 460.3,857.8" fill="#392898"/>
<polygon points="482.7,864.3 497.4,859.5 486.1,856.8 471.5,861.1" fill="#392898"/>
<polygon points="493.9,867.4 508.6,862 497.4,859.5 482.7,864.3" fill="#392898"/>
<polygon points="505.1,870.4 519.8,864.4 508.6,862 493.9,867.4" fill="#392898"/>
<polygon points="516.3,873.2 531,866.5 519.8,864.4 505.1,870.4" fill="#392898"/>
<polygon points="527.5,875.9 542.2,868.4 531,866.5 516.3,873.2" fill="#392898"/>
<polygon points="538.7,878.5 553.4,870.2 542.2,868.4 527.5,875.9" fill="#392898"/>
<polygon points="549.9,881 564.6,871.7 553.4,870.2 538.7,878.5" fill="#3a2ea2"/>
<polygon points="561.1,883.4 575.8,873 564.6,871.7 549.9,881" fill="#3a2ea2"/>
<polygon points="572.3,885.6 587,874.2 575.8,873 561.1,883.4" fill="#3a2ea2"/>
<polygon points="583.6,887.7 598.2,875.1 587,874.2 572.3,885.6" fill="#3a2ea2"/>
<polygon points="594.8,889.7 609.4,875.9 598.2,875.1 583.6,887.7" fill="#3a2ea2"/>
<polygon points="606,891.5 620.6,876.4 609.4,875.9 594.8,889.7" fill="#3a33ac"/>
<polygon points="617.2,893.3 631.9,876.8 620.6,876.4 606,891.5" fill="#3a33ac"/>
<polygon points="628.4,894.9 643.1,876.9 631.9,876.8 617.2,893.3" fill="#3a33ac"/>
<polygon points="176.7,757.5 191.3,741.3 180.1,734.9 165.5,752.5" fill="#392898"/>
<polygon points="187.9,762.4 202.5,747.5 191.3,741.3 176.7,757.5" fill="#392898"/>
<polygon points="199.1,767.2 213.7,753.7 202.5,747.5 187.9,762.4" fill="#392898"/>
<polygon points="210.3,772 224.9,759.7 213.7,753.7 199.1,767.2" fill="#392898"/>
<polygon points="221.5,776.8 236.1,765.6 224.9,759.7 210.3,772" fill="#392898"/>
<polygon points="232.7,781.5 247.4,771.4 236.1,765.6 221.5,776.8" fill="#392898"/>
<polygon points="243.9,786.2 258.6,777 247.4,771.4 232.7,781.5" fill="#392898"/>
<polygon points="255.1,790.8 269.8,782.5 258.6,777 243.9,786.2" fill="#392898"/>
<polygon points="266.3,795.4 281,787.9 269.8,782.5 255.1,790.8" fill="#392898"/>
<polygon points="277.6,799.9 292.2,793.2 281,787.9 266.3,795.4" fill="#392898"/>
<polygon points="288.8,804.4 303.4,798.4 292.2,793.2 277.6,799.9" fill="#392898"/>
<polygon points="300,808.8 314.6,803.4 303.4,798.4 288.8,804.4" fill="#392898"/>
<polygon points="311.2,813.2 325.8,808.3 314.6,803.4 300,808.8" fill="#392898"/>
<polygon points="322.4,817.5 337,813.1 325.8,808.3 311.2,813.2" fill="#392898"/>
<polygon points="333.6,821.7 348.2,817.8 337,813.1 322.4,817.5" fill="#392898"/>
<polygon points="344.8,826 359.4,822.4 348.2,817.8 333.6,821.7" fill="#392898"/>
<polygon points="356,830.1 370.6,826.8 359.4,822.4 344.8,826" fill="#392898"/>
<polygon points="367.2,834.3 381.8,831.1 370.6,826.8 356,830.1" fill="#392898"/>
<polygon points="378.4,838.3 393,835.3 381.8,831.1 367.2,834.3" fill="#392898"/>
<polygon points="389.6,842.4 404.2,839.3 393,835.3 378.4,838.3" fill="#392898"/>
<polygon points="400.8,846.3 415.5,843.3 404.2,839.3 389.6,842.4" fill="#392898"/>
<polygon points="412,850.3 426.7,847.1 415.5,843.3 400.8,846.3" fill="#392898"/>
<polygon points="423.2,854.1 437.9,850.8 426.7,847.1 412,850.3" fill="#392898"/>
<polygon points="434.4,858 449.1,854.4 437.9,850.8 423.2,854.1" fill="#392898"/>
<polygon points="445.6,861.7 460.3,857.8 449.1,854.4 434.4,858" fill="#392898"/>
<polygon points="456.8,865.5 471.5,861.1 460.3,857.8 445.6,861.7" fill="#392898"/>
<polygon points="468,869.2 482.7,864.3 471.5,861.1 456.8,865.5" fill="#392898"/>
<polygon points="479.2,872.8 493.9,867.4 482.7,864.3 468,869.2" fill="#392898"/>
<polygon points="490.4,876.4 505.1,870.4 493.9,867.4 479.2,872.8" fill="#392898"/>
<polygon points="501.7,879.9 516.3,873.2 505.1,870.4 490.4,876.4" fill="#392898"/>
<polygon points="512.9,883.4 527.5,875.9 516.3,873.2 501.7,879.9" fill="#392898"/>
<polygon points="524.1,886.8 538.7,878.5 527.5,875.9 512.9,883.4" fill="#392898"/>
<polygon points="535.3,890.2 549.9,881 538.7,878.5 524.1,886.8" fill="#392898"/>
<polygon points="546.5,893.5 561.1,883.4 549.9,881 535.3,890.2" fill="#392898"/>
<polygon points="557.7,896.8 572.3,885.6 561.1,883.4 546.5,893.5" fill="#392898"/>
<polygon points="568.9,900 583.6,887.7 572.3,885.6 557.7,896.8" fill="#392898"/>
<polygon points="580.1,903.2 594.8,889.7 583.6,887.7 568.9,900" fill="#392898"/>
<polygon points="591.3,906.4 606,891.5 594.8,889.7 580.1,903.2" fill="#392898"/>
<polygon points="602.5,909.5 617.2,893.3 606,891.5 591.3,906.4" fill="#392898"/>
<polygon points="613.7,912.5 628.4,894.9 617.2,893.3 602.5,909.5" fill="#3a2ea2"/>
</g>
<path d="M165,127 L165,844 M165,844 L621,1004 M621,1004 L1200,882.5 M165,844 L146.1,837.4 M165,741.6 L146.1,734.9 M165,639.1 L146.1,632.5 M165,536.7 L146.1,530.1 M165,434.3 L146.1,427.7 M165,331.9 L146.1,325.2 M165,229.4 L146.1,222.8 M165,127 L146.1,120.4 M165,844 L143.5,848.5 M393,924 L371.5,928.5 M621,1004 L599.5,1008.5 M757.5,975.4 L770.2,979.8 M905,944.4 L917.7,948.9 M1052.5,913.5 L1065.2,917.9 M1200,882.5 L1212.7,887" fill="none" stroke="#151515" stroke-width="3.6" stroke-linecap="butt"/>
<g font-family="'Liberation Sans', sans-serif" font-weight="bold" fill="#1e1e1e">
<text x="133.0" y="849.5" font-size="48.2" text-anchor="end">-10</text>
<text x="133.0" y="746.4" font-size="48.2" text-anchor="end">0</text>
<text x="133.0" y="643.9" font-size="48.2" text-anchor="end">10</text>
<text x="133.0" y="541.5" font-size="48.2" text-anchor="end">20</text>
<text x="133.0" y="439.1" font-size="48.2" text-anchor="end">30</text>
<text x="133.0" y="336.7" font-size="48.2" text-anchor="end">40</text>
<text x="133.0" y="234.2" font-size="48.2" text-anchor="end">50</text>
<text x="133.0" y="131.8" font-size="48.2" text-anchor="end">60</text>
<text x="133.0" y="894.5" font-size="48.2" text-anchor="end">100</text>
<text x="344.6" y="975.5" font-size="48.2" text-anchor="middle">0</text>
<text x="582.6" y="1056.3" font-size="48.2" text-anchor="end">-100</text>
<text x="810.8" y="1031.0" font-size="48.2" text-anchor="middle">20</text>
<text x="958.0" y="998.5" font-size="48.2" text-anchor="middle">40</text>
<text x="1104.7" y="968.0" font-size="48.2" text-anchor="middle">60</text>
<text x="1249.5" y="938.8" font-size="48.2" text-anchor="middle">80</text>
<text x="136.7" y="996.5" font-size="49.2" text-anchor="start">Surface</text>
<text x="80.1" y="1052.8" font-size="49.2" text-anchor="start">Potential (mV)</text>
<text x="926.4" y="1042.7" font-size="49.2" text-anchor="start">Dielectric</text>
<text x="940.3" y="1098.6" font-size="49.2" text-anchor="start">constant</text>
<text transform="translate(39.9,735.5) rotate(-90)" font-size="49.2">Interaction Energy (U/kT)</text>
</g>
</g>
</svg>
</body></html>
